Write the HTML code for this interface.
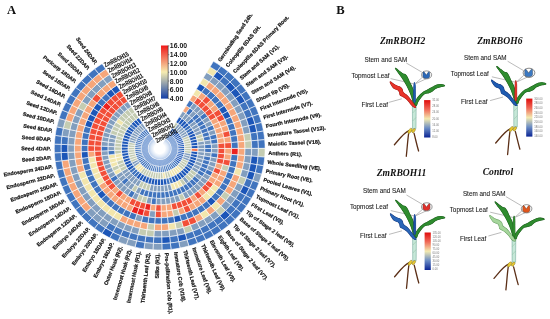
<!DOCTYPE html>
<html><head><meta charset="utf-8"><style>
html,body{margin:0;padding:0;background:#fff;}
body{width:550px;height:319px;overflow:hidden;position:relative;}
svg{position:absolute;left:0;top:0;}
.tl{font-family:"Liberation Sans",Arial,sans-serif;font-weight:bold;font-size:5.45px;fill:#111;stroke:#111;stroke-width:0.2px;dominant-baseline:central;}
.gl{font-family:"Liberation Sans",Arial,sans-serif;font-weight:bold;font-size:6.8px;fill:#111;stroke:#111;stroke-width:0.1px;dominant-baseline:central;}
.cb{font-family:"Liberation Sans",Arial,sans-serif;font-weight:bold;font-size:6.9px;fill:#151515;dominant-baseline:central;}
.pl{font-family:"Liberation Serif","Times New Roman",serif;font-weight:bold;font-size:12.6px;fill:#111;}
</style></head><body>
<svg width="550" height="319" viewBox="0 0 550 319">
<defs>
<radialGradient id="r1g" cx="0" cy="0" r="11.6" gradientUnits="userSpaceOnUse">
<stop offset="0.45" stop-color="#ffffff"/><stop offset="0.75" stop-color="#dbe6f5"/><stop offset="1" stop-color="#b3c9ea"/>
</radialGradient>
<linearGradient id="cbg" x1="0" y1="0" x2="0" y2="1">
<stop offset="0" stop-color="#f01818"/>
<stop offset="0.5" stop-color="#f6ecb0"/>
<stop offset="1" stop-color="#123ea8"/>
</linearGradient>
</defs>
<text class="pl" x="7.1" y="13.8">A</text>
<text class="pl" x="336.3" y="13.8">B</text>
<g transform="translate(159.7 148.6) scale(1 0.962)">
<g stroke="#fff" stroke-width="0.6">
<path d="M12.74 -21.51A25 25 0 0 1 14.54 -20.33L10.65 -14.88A18.3 18.3 0 0 0 9.33 -15.75Z" fill="#1c56b8"/>
<path d="M14.54 -20.33A25 25 0 0 1 16.24 -19.01L11.89 -13.91A18.3 18.3 0 0 0 10.65 -14.88Z" fill="#1c56b8"/>
<path d="M16.24 -19.01A25 25 0 0 1 17.82 -17.54L13.04 -12.84A18.3 18.3 0 0 0 11.89 -13.91Z" fill="#1c56b8"/>
<path d="M17.82 -17.54A25 25 0 0 1 19.26 -15.94L14.1 -11.67A18.3 18.3 0 0 0 13.04 -12.84Z" fill="#1c56b8"/>
<path d="M19.26 -15.94A25 25 0 0 1 20.56 -14.22L15.05 -10.41A18.3 18.3 0 0 0 14.1 -11.67Z" fill="#1c56b8"/>
<path d="M20.56 -14.22A25 25 0 0 1 21.71 -12.4L15.89 -9.08A18.3 18.3 0 0 0 15.05 -10.41Z" fill="#1c56b8"/>
<path d="M21.71 -12.4A25 25 0 0 1 22.69 -10.49L16.61 -7.68A18.3 18.3 0 0 0 15.89 -9.08Z" fill="#1c56b8"/>
<path d="M22.69 -10.49A25 25 0 0 1 23.51 -8.49L17.21 -6.22A18.3 18.3 0 0 0 16.61 -7.68Z" fill="#1c56b8"/>
<path d="M23.51 -8.49A25 25 0 0 1 24.16 -6.44L17.68 -4.71A18.3 18.3 0 0 0 17.21 -6.22Z" fill="#1c56b8"/>
<path d="M24.16 -6.44A25 25 0 0 1 24.62 -4.34L18.02 -3.17A18.3 18.3 0 0 0 17.68 -4.71Z" fill="#1c56b8"/>
<path d="M24.62 -4.34A25 25 0 0 1 24.9 -2.2L18.23 -1.61A18.3 18.3 0 0 0 18.02 -3.17Z" fill="#1c56b8"/>
<path d="M24.9 -2.2A25 25 0 0 1 25 -0.05L18.3 -0.04A18.3 18.3 0 0 0 18.23 -1.61Z" fill="#1c56b8"/>
<path d="M25 -0.05A25 25 0 0 1 24.91 2.1L18.24 1.54A18.3 18.3 0 0 0 18.3 -0.04Z" fill="#1c56b8"/>
<path d="M24.91 2.1A25 25 0 0 1 24.64 4.24L18.04 3.1A18.3 18.3 0 0 0 18.24 1.54Z" fill="#1c56b8"/>
<path d="M24.64 4.24A25 25 0 0 1 24.18 6.34L17.7 4.64A18.3 18.3 0 0 0 18.04 3.1Z" fill="#1c56b8"/>
<path d="M24.18 6.34A25 25 0 0 1 23.55 8.4L17.24 6.15A18.3 18.3 0 0 0 17.7 4.64Z" fill="#1c56b8"/>
<path d="M23.55 8.4A25 25 0 0 1 22.74 10.39L16.64 7.61A18.3 18.3 0 0 0 17.24 6.15Z" fill="#1c56b8"/>
<path d="M22.74 10.39A25 25 0 0 1 21.76 12.31L15.93 9.01A18.3 18.3 0 0 0 16.64 7.61Z" fill="#1c56b8"/>
<path d="M21.76 12.31A25 25 0 0 1 20.62 14.14L15.09 10.35A18.3 18.3 0 0 0 15.93 9.01Z" fill="#1c56b8"/>
<path d="M20.62 14.14A25 25 0 0 1 19.32 15.86L14.15 11.61A18.3 18.3 0 0 0 15.09 10.35Z" fill="#1c56b8"/>
<path d="M19.32 15.86A25 25 0 0 1 17.89 17.47L13.09 12.78A18.3 18.3 0 0 0 14.15 11.61Z" fill="#4074be"/>
<path d="M17.89 17.47A25 25 0 0 1 16.32 18.94L11.94 13.86A18.3 18.3 0 0 0 13.09 12.78Z" fill="#4074be"/>
<path d="M16.32 18.94A25 25 0 0 1 14.63 20.27L10.71 14.84A18.3 18.3 0 0 0 11.94 13.86Z" fill="#4074be"/>
<path d="M14.63 20.27A25 25 0 0 1 12.83 21.46L9.39 15.71A18.3 18.3 0 0 0 10.71 14.84Z" fill="#4074be"/>
<path d="M12.83 21.46A25 25 0 0 1 10.93 22.48L8 16.46A18.3 18.3 0 0 0 9.39 15.71Z" fill="#4074be"/>
<path d="M10.93 22.48A25 25 0 0 1 8.96 23.34L6.56 17.08A18.3 18.3 0 0 0 8 16.46Z" fill="#4074be"/>
<path d="M8.96 23.34A25 25 0 0 1 6.92 24.02L5.06 17.59A18.3 18.3 0 0 0 6.56 17.08Z" fill="#4074be"/>
<path d="M6.92 24.02A25 25 0 0 1 4.82 24.53L3.53 17.96A18.3 18.3 0 0 0 5.06 17.59Z" fill="#4074be"/>
<path d="M4.82 24.53A25 25 0 0 1 2.69 24.85L1.97 18.19A18.3 18.3 0 0 0 3.53 17.96Z" fill="#4074be"/>
<path d="M2.69 24.85A25 25 0 0 1 0.55 24.99L0.4 18.3A18.3 18.3 0 0 0 1.97 18.19Z" fill="#4074be"/>
<path d="M0.55 24.99A25 25 0 0 1 -1.61 24.95L-1.18 18.26A18.3 18.3 0 0 0 0.4 18.3Z" fill="#4074be"/>
<path d="M-1.61 24.95A25 25 0 0 1 -3.75 24.72L-2.74 18.09A18.3 18.3 0 0 0 -1.18 18.26Z" fill="#4074be"/>
<path d="M-3.75 24.72A25 25 0 0 1 -5.86 24.3L-4.29 17.79A18.3 18.3 0 0 0 -2.74 18.09Z" fill="#4074be"/>
<path d="M-5.86 24.3A25 25 0 0 1 -7.93 23.71L-5.81 17.35A18.3 18.3 0 0 0 -4.29 17.79Z" fill="#4074be"/>
<path d="M-7.93 23.71A25 25 0 0 1 -9.94 22.94L-7.28 16.79A18.3 18.3 0 0 0 -5.81 17.35Z" fill="#4074be"/>
<path d="M-9.94 22.94A25 25 0 0 1 -11.88 22L-8.7 16.1A18.3 18.3 0 0 0 -7.28 16.79Z" fill="#4074be"/>
<path d="M-11.88 22A25 25 0 0 1 -13.73 20.89L-10.05 15.29A18.3 18.3 0 0 0 -8.7 16.1Z" fill="#4074be"/>
<path d="M-13.73 20.89A25 25 0 0 1 -15.48 19.63L-11.33 14.37A18.3 18.3 0 0 0 -10.05 15.29Z" fill="#4074be"/>
<path d="M-15.48 19.63A25 25 0 0 1 -17.11 18.23L-12.52 13.34A18.3 18.3 0 0 0 -11.33 14.37Z" fill="#4074be"/>
<path d="M-17.11 18.23A25 25 0 0 1 -18.61 16.69L-13.63 12.22A18.3 18.3 0 0 0 -12.52 13.34Z" fill="#4074be"/>
<path d="M-18.61 16.69A25 25 0 0 1 -19.98 15.03L-14.63 11A18.3 18.3 0 0 0 -13.63 12.22Z" fill="#4074be"/>
<path d="M-19.98 15.03A25 25 0 0 1 -21.2 13.25L-15.52 9.7A18.3 18.3 0 0 0 -14.63 11Z" fill="#4074be"/>
<path d="M-21.2 13.25A25 25 0 0 1 -22.26 11.38L-16.3 8.33A18.3 18.3 0 0 0 -15.52 9.7Z" fill="#4074be"/>
<path d="M-22.26 11.38A25 25 0 0 1 -23.16 9.42L-16.95 6.89A18.3 18.3 0 0 0 -16.3 8.33Z" fill="#4074be"/>
<path d="M-23.16 9.42A25 25 0 0 1 -23.88 7.39L-17.48 5.41A18.3 18.3 0 0 0 -16.95 6.89Z" fill="#4074be"/>
<path d="M-23.88 7.39A25 25 0 0 1 -24.43 5.31L-17.88 3.89A18.3 18.3 0 0 0 -17.48 5.41Z" fill="#4074be"/>
<path d="M-24.43 5.31A25 25 0 0 1 -24.8 3.19L-18.15 2.33A18.3 18.3 0 0 0 -17.88 3.89Z" fill="#4074be"/>
<path d="M-24.8 3.19A25 25 0 0 1 -24.98 1.04L-18.28 0.76A18.3 18.3 0 0 0 -18.15 2.33Z" fill="#4074be"/>
<path d="M-24.98 1.04A25 25 0 0 1 -24.98 -1.11L-18.28 -0.82A18.3 18.3 0 0 0 -18.28 0.76Z" fill="#4074be"/>
<path d="M-24.98 -1.11A25 25 0 0 1 -24.79 -3.26L-18.14 -2.39A18.3 18.3 0 0 0 -18.28 -0.82Z" fill="#4074be"/>
<path d="M-24.79 -3.26A25 25 0 0 1 -24.41 -5.38L-17.87 -3.94A18.3 18.3 0 0 0 -18.14 -2.39Z" fill="#4074be"/>
<path d="M-24.41 -5.38A25 25 0 0 1 -23.86 -7.46L-17.47 -5.46A18.3 18.3 0 0 0 -17.87 -3.94Z" fill="#4074be"/>
<path d="M-23.86 -7.46A25 25 0 0 1 -23.13 -9.49L-16.93 -6.94A18.3 18.3 0 0 0 -17.47 -5.46Z" fill="#4074be"/>
<path d="M-23.13 -9.49A25 25 0 0 1 -22.23 -11.44L-16.27 -8.38A18.3 18.3 0 0 0 -16.93 -6.94Z" fill="#4074be"/>
<path d="M-22.23 -11.44A25 25 0 0 1 -21.16 -13.31L-15.49 -9.74A18.3 18.3 0 0 0 -16.27 -8.38Z" fill="#4074be"/>
<path d="M-21.16 -13.31A25 25 0 0 1 -19.94 -15.08L-14.59 -11.04A18.3 18.3 0 0 0 -15.49 -9.74Z" fill="#4074be"/>
<path d="M-19.94 -15.08A25 25 0 0 1 -18.56 -16.74L-13.59 -12.26A18.3 18.3 0 0 0 -14.59 -11.04Z" fill="#4074be"/>
<path d="M-18.56 -16.74A25 25 0 0 1 -17.05 -18.28L-12.48 -13.38A18.3 18.3 0 0 0 -13.59 -12.26Z" fill="#4074be"/>
<path d="M-17.05 -18.28A25 25 0 0 1 -15.42 -19.68L-11.29 -14.41A18.3 18.3 0 0 0 -12.48 -13.38Z" fill="#4074be"/>
<path d="M-15.42 -19.68A25 25 0 0 1 -13.67 -20.93L-10 -15.32A18.3 18.3 0 0 0 -11.29 -14.41Z" fill="#4074be"/>
<path d="M16.16 -27.27A31.7 31.7 0 0 1 18.44 -25.78L14.54 -20.33A25 25 0 0 0 12.74 -21.51Z" fill="#c4ccb2"/>
<path d="M18.44 -25.78A31.7 31.7 0 0 1 20.59 -24.1L16.24 -19.01A25 25 0 0 0 14.54 -20.33Z" fill="#829ebe"/>
<path d="M20.59 -24.1A31.7 31.7 0 0 1 22.59 -22.24L17.82 -17.54A25 25 0 0 0 16.24 -19.01Z" fill="#829ebe"/>
<path d="M22.59 -22.24A31.7 31.7 0 0 1 24.42 -20.21L19.26 -15.94A25 25 0 0 0 17.82 -17.54Z" fill="#829ebe"/>
<path d="M24.42 -20.21A31.7 31.7 0 0 1 26.07 -18.03L20.56 -14.22A25 25 0 0 0 19.26 -15.94Z" fill="#829ebe"/>
<path d="M26.07 -18.03A31.7 31.7 0 0 1 27.53 -15.72L21.71 -12.4A25 25 0 0 0 20.56 -14.22Z" fill="#829ebe"/>
<path d="M27.53 -15.72A31.7 31.7 0 0 1 28.78 -13.3L22.69 -10.49A25 25 0 0 0 21.71 -12.4Z" fill="#829ebe"/>
<path d="M28.78 -13.3A31.7 31.7 0 0 1 29.81 -10.77L23.51 -8.49A25 25 0 0 0 22.69 -10.49Z" fill="#c4ccb2"/>
<path d="M29.81 -10.77A31.7 31.7 0 0 1 30.63 -8.17L24.16 -6.44A25 25 0 0 0 23.51 -8.49Z" fill="#c4ccb2"/>
<path d="M30.63 -8.17A31.7 31.7 0 0 1 31.22 -5.5L24.62 -4.34A25 25 0 0 0 24.16 -6.44Z" fill="#c4ccb2"/>
<path d="M31.22 -5.5A31.7 31.7 0 0 1 31.58 -2.79L24.9 -2.2A25 25 0 0 0 24.62 -4.34Z" fill="#c4ccb2"/>
<path d="M31.58 -2.79A31.7 31.7 0 0 1 31.7 -0.06L25 -0.05A25 25 0 0 0 24.9 -2.2Z" fill="#c4ccb2"/>
<path d="M31.7 -0.06A31.7 31.7 0 0 1 31.59 2.66L24.91 2.1A25 25 0 0 0 25 -0.05Z" fill="#c4ccb2"/>
<path d="M31.59 2.66A31.7 31.7 0 0 1 31.24 5.37L24.64 4.24A25 25 0 0 0 24.91 2.1Z" fill="#c4ccb2"/>
<path d="M31.24 5.37A31.7 31.7 0 0 1 30.66 8.04L24.18 6.34A25 25 0 0 0 24.64 4.24Z" fill="#829ebe"/>
<path d="M30.66 8.04A31.7 31.7 0 0 1 29.86 10.65L23.55 8.4A25 25 0 0 0 24.18 6.34Z" fill="#829ebe"/>
<path d="M29.86 10.65A31.7 31.7 0 0 1 28.83 13.18L22.74 10.39A25 25 0 0 0 23.55 8.4Z" fill="#829ebe"/>
<path d="M28.83 13.18A31.7 31.7 0 0 1 27.59 15.61L21.76 12.31A25 25 0 0 0 22.74 10.39Z" fill="#c4ccb2"/>
<path d="M27.59 15.61A31.7 31.7 0 0 1 26.14 17.93L20.62 14.14A25 25 0 0 0 21.76 12.31Z" fill="#c4ccb2"/>
<path d="M26.14 17.93A31.7 31.7 0 0 1 24.5 20.11L19.32 15.86A25 25 0 0 0 20.62 14.14Z" fill="#c4ccb2"/>
<path d="M24.5 20.11A31.7 31.7 0 0 1 22.68 22.15L17.89 17.47A25 25 0 0 0 19.32 15.86Z" fill="#c4ccb2"/>
<path d="M22.68 22.15A31.7 31.7 0 0 1 20.69 24.02L16.32 18.94A25 25 0 0 0 17.89 17.47Z" fill="#f2e6ac"/>
<path d="M20.69 24.02A31.7 31.7 0 0 1 18.55 25.71L14.63 20.27A25 25 0 0 0 16.32 18.94Z" fill="#f2e6ac"/>
<path d="M18.55 25.71A31.7 31.7 0 0 1 16.27 27.21L12.83 21.46A25 25 0 0 0 14.63 20.27Z" fill="#f2e6ac"/>
<path d="M16.27 27.21A31.7 31.7 0 0 1 13.86 28.51L10.93 22.48A25 25 0 0 0 12.83 21.46Z" fill="#f2e6ac"/>
<path d="M13.86 28.51A31.7 31.7 0 0 1 11.36 29.59L8.96 23.34A25 25 0 0 0 10.93 22.48Z" fill="#f2e6ac"/>
<path d="M11.36 29.59A31.7 31.7 0 0 1 8.77 30.46L6.92 24.02A25 25 0 0 0 8.96 23.34Z" fill="#c4ccb2"/>
<path d="M8.77 30.46A31.7 31.7 0 0 1 6.12 31.1L4.82 24.53A25 25 0 0 0 6.92 24.02Z" fill="#c4ccb2"/>
<path d="M6.12 31.1A31.7 31.7 0 0 1 3.42 31.52L2.69 24.85A25 25 0 0 0 4.82 24.53Z" fill="#f2e6ac"/>
<path d="M3.42 31.52A31.7 31.7 0 0 1 0.69 31.69L0.55 24.99A25 25 0 0 0 2.69 24.85Z" fill="#c4ccb2"/>
<path d="M0.69 31.69A31.7 31.7 0 0 1 -2.04 31.63L-1.61 24.95A25 25 0 0 0 0.55 24.99Z" fill="#c4ccb2"/>
<path d="M-2.04 31.63A31.7 31.7 0 0 1 -4.75 31.34L-3.75 24.72A25 25 0 0 0 -1.61 24.95Z" fill="#c4ccb2"/>
<path d="M-4.75 31.34A31.7 31.7 0 0 1 -7.43 30.82L-5.86 24.3A25 25 0 0 0 -3.75 24.72Z" fill="#c4ccb2"/>
<path d="M-7.43 30.82A31.7 31.7 0 0 1 -10.06 30.06L-7.93 23.71A25 25 0 0 0 -5.86 24.3Z" fill="#c4ccb2"/>
<path d="M-10.06 30.06A31.7 31.7 0 0 1 -12.61 29.09L-9.94 22.94A25 25 0 0 0 -7.93 23.71Z" fill="#c4ccb2"/>
<path d="M-12.61 29.09A31.7 31.7 0 0 1 -15.06 27.89L-11.88 22A25 25 0 0 0 -9.94 22.94Z" fill="#c4ccb2"/>
<path d="M-15.06 27.89A31.7 31.7 0 0 1 -17.41 26.49L-13.73 20.89A25 25 0 0 0 -11.88 22Z" fill="#c4ccb2"/>
<path d="M-17.41 26.49A31.7 31.7 0 0 1 -19.62 24.9L-15.48 19.63A25 25 0 0 0 -13.73 20.89Z" fill="#c4ccb2"/>
<path d="M-19.62 24.9A31.7 31.7 0 0 1 -21.69 23.11L-17.11 18.23A25 25 0 0 0 -15.48 19.63Z" fill="#f2e6ac"/>
<path d="M-21.69 23.11A31.7 31.7 0 0 1 -23.6 21.16L-18.61 16.69A25 25 0 0 0 -17.11 18.23Z" fill="#f2e6ac"/>
<path d="M-23.6 21.16A31.7 31.7 0 0 1 -25.34 19.05L-19.98 15.03A25 25 0 0 0 -18.61 16.69Z" fill="#f2e6ac"/>
<path d="M-25.34 19.05A31.7 31.7 0 0 1 -26.88 16.8L-21.2 13.25A25 25 0 0 0 -19.98 15.03Z" fill="#829ebe"/>
<path d="M-26.88 16.8A31.7 31.7 0 0 1 -28.23 14.43L-22.26 11.38A25 25 0 0 0 -21.2 13.25Z" fill="#829ebe"/>
<path d="M-28.23 14.43A31.7 31.7 0 0 1 -29.36 11.94L-23.16 9.42A25 25 0 0 0 -22.26 11.38Z" fill="#c4ccb2"/>
<path d="M-29.36 11.94A31.7 31.7 0 0 1 -30.28 9.37L-23.88 7.39A25 25 0 0 0 -23.16 9.42Z" fill="#c4ccb2"/>
<path d="M-30.28 9.37A31.7 31.7 0 0 1 -30.98 6.73L-24.43 5.31A25 25 0 0 0 -23.88 7.39Z" fill="#c4ccb2"/>
<path d="M-30.98 6.73A31.7 31.7 0 0 1 -31.44 4.04L-24.8 3.19A25 25 0 0 0 -24.43 5.31Z" fill="#c4ccb2"/>
<path d="M-31.44 4.04A31.7 31.7 0 0 1 -31.67 1.32L-24.98 1.04A25 25 0 0 0 -24.8 3.19Z" fill="#c4ccb2"/>
<path d="M-31.67 1.32A31.7 31.7 0 0 1 -31.67 -1.41L-24.98 -1.11A25 25 0 0 0 -24.98 1.04Z" fill="#c4ccb2"/>
<path d="M-31.67 -1.41A31.7 31.7 0 0 1 -31.43 -4.13L-24.79 -3.26A25 25 0 0 0 -24.98 -1.11Z" fill="#c4ccb2"/>
<path d="M-31.43 -4.13A31.7 31.7 0 0 1 -30.96 -6.82L-24.41 -5.38A25 25 0 0 0 -24.79 -3.26Z" fill="#c4ccb2"/>
<path d="M-30.96 -6.82A31.7 31.7 0 0 1 -30.26 -9.46L-23.86 -7.46A25 25 0 0 0 -24.41 -5.38Z" fill="#829ebe"/>
<path d="M-30.26 -9.46A31.7 31.7 0 0 1 -29.33 -12.03L-23.13 -9.49A25 25 0 0 0 -23.86 -7.46Z" fill="#829ebe"/>
<path d="M-29.33 -12.03A31.7 31.7 0 0 1 -28.18 -14.51L-22.23 -11.44A25 25 0 0 0 -23.13 -9.49Z" fill="#829ebe"/>
<path d="M-28.18 -14.51A31.7 31.7 0 0 1 -26.83 -16.88L-21.16 -13.31A25 25 0 0 0 -22.23 -11.44Z" fill="#829ebe"/>
<path d="M-26.83 -16.88A31.7 31.7 0 0 1 -25.28 -19.13L-19.94 -15.08A25 25 0 0 0 -21.16 -13.31Z" fill="#829ebe"/>
<path d="M-25.28 -19.13A31.7 31.7 0 0 1 -23.54 -21.23L-18.56 -16.74A25 25 0 0 0 -19.94 -15.08Z" fill="#829ebe"/>
<path d="M-23.54 -21.23A31.7 31.7 0 0 1 -21.63 -23.18L-17.05 -18.28A25 25 0 0 0 -18.56 -16.74Z" fill="#829ebe"/>
<path d="M-21.63 -23.18A31.7 31.7 0 0 1 -19.55 -24.95L-15.42 -19.68A25 25 0 0 0 -17.05 -18.28Z" fill="#829ebe"/>
<path d="M-19.55 -24.95A31.7 31.7 0 0 1 -17.33 -26.54L-13.67 -20.93A25 25 0 0 0 -15.42 -19.68Z" fill="#829ebe"/>
<path d="M19.57 -33.04A38.4 38.4 0 0 1 22.34 -31.23L18.44 -25.78A31.7 31.7 0 0 0 16.16 -27.27Z" fill="#1c56b8"/>
<path d="M22.34 -31.23A38.4 38.4 0 0 1 24.95 -29.19L20.59 -24.1A31.7 31.7 0 0 0 18.44 -25.78Z" fill="#1c56b8"/>
<path d="M24.95 -29.19A38.4 38.4 0 0 1 27.37 -26.94L22.59 -22.24A31.7 31.7 0 0 0 20.59 -24.1Z" fill="#1c56b8"/>
<path d="M27.37 -26.94A38.4 38.4 0 0 1 29.58 -24.48L24.42 -20.21A31.7 31.7 0 0 0 22.59 -22.24Z" fill="#1c56b8"/>
<path d="M29.58 -24.48A38.4 38.4 0 0 1 31.58 -21.85L26.07 -18.03A31.7 31.7 0 0 0 24.42 -20.21Z" fill="#4074be"/>
<path d="M31.58 -21.85A38.4 38.4 0 0 1 33.34 -19.05L27.53 -15.72A31.7 31.7 0 0 0 26.07 -18.03Z" fill="#4074be"/>
<path d="M33.34 -19.05A38.4 38.4 0 0 1 34.86 -16.11L28.78 -13.3A31.7 31.7 0 0 0 27.53 -15.72Z" fill="#1c56b8"/>
<path d="M34.86 -16.11A38.4 38.4 0 0 1 36.12 -13.05L29.81 -10.77A31.7 31.7 0 0 0 28.78 -13.3Z" fill="#1c56b8"/>
<path d="M36.12 -13.05A38.4 38.4 0 0 1 37.1 -9.89L30.63 -8.17A31.7 31.7 0 0 0 29.81 -10.77Z" fill="#1c56b8"/>
<path d="M37.1 -9.89A38.4 38.4 0 0 1 37.82 -6.66L31.22 -5.5A31.7 31.7 0 0 0 30.63 -8.17Z" fill="#1c56b8"/>
<path d="M37.82 -6.66A38.4 38.4 0 0 1 38.25 -3.38L31.58 -2.79A31.7 31.7 0 0 0 31.22 -5.5Z" fill="#1c56b8"/>
<path d="M38.25 -3.38A38.4 38.4 0 0 1 38.4 -0.08L31.7 -0.06A31.7 31.7 0 0 0 31.58 -2.79Z" fill="#1c56b8"/>
<path d="M38.4 -0.08A38.4 38.4 0 0 1 38.26 3.23L31.59 2.66A31.7 31.7 0 0 0 31.7 -0.06Z" fill="#f57850"/>
<path d="M38.26 3.23A38.4 38.4 0 0 1 37.84 6.51L31.24 5.37A31.7 31.7 0 0 0 31.59 2.66Z" fill="#1c56b8"/>
<path d="M37.84 6.51A38.4 38.4 0 0 1 37.14 9.74L30.66 8.04A31.7 31.7 0 0 0 31.24 5.37Z" fill="#1c56b8"/>
<path d="M37.14 9.74A38.4 38.4 0 0 1 36.17 12.9L29.86 10.65A31.7 31.7 0 0 0 30.66 8.04Z" fill="#1c56b8"/>
<path d="M36.17 12.9A38.4 38.4 0 0 1 34.92 15.97L28.83 13.18A31.7 31.7 0 0 0 29.86 10.65Z" fill="#1c56b8"/>
<path d="M34.92 15.97A38.4 38.4 0 0 1 33.42 18.91L27.59 15.61A31.7 31.7 0 0 0 28.83 13.18Z" fill="#1c56b8"/>
<path d="M33.42 18.91A38.4 38.4 0 0 1 31.67 21.72L26.14 17.93A31.7 31.7 0 0 0 27.59 15.61Z" fill="#4074be"/>
<path d="M31.67 21.72A38.4 38.4 0 0 1 29.68 24.36L24.5 20.11A31.7 31.7 0 0 0 26.14 17.93Z" fill="#1c56b8"/>
<path d="M29.68 24.36A38.4 38.4 0 0 1 27.47 26.83L22.68 22.15A31.7 31.7 0 0 0 24.5 20.11Z" fill="#1c56b8"/>
<path d="M27.47 26.83A38.4 38.4 0 0 1 25.06 29.09L20.69 24.02A31.7 31.7 0 0 0 22.68 22.15Z" fill="#1c56b8"/>
<path d="M25.06 29.09A38.4 38.4 0 0 1 22.47 31.14L18.55 25.71A31.7 31.7 0 0 0 20.69 24.02Z" fill="#1c56b8"/>
<path d="M22.47 31.14A38.4 38.4 0 0 1 19.7 32.96L16.27 27.21A31.7 31.7 0 0 0 18.55 25.71Z" fill="#1c56b8"/>
<path d="M19.7 32.96A38.4 38.4 0 0 1 16.79 34.53L13.86 28.51A31.7 31.7 0 0 0 16.27 27.21Z" fill="#1c56b8"/>
<path d="M16.79 34.53A38.4 38.4 0 0 1 13.76 35.85L11.36 29.59A31.7 31.7 0 0 0 13.86 28.51Z" fill="#1c56b8"/>
<path d="M13.76 35.85A38.4 38.4 0 0 1 10.62 36.9L8.77 30.46A31.7 31.7 0 0 0 11.36 29.59Z" fill="#4074be"/>
<path d="M10.62 36.9A38.4 38.4 0 0 1 7.41 37.68L6.12 31.1A31.7 31.7 0 0 0 8.77 30.46Z" fill="#4074be"/>
<path d="M7.41 37.68A38.4 38.4 0 0 1 4.14 38.18L3.42 31.52A31.7 31.7 0 0 0 6.12 31.1Z" fill="#1c56b8"/>
<path d="M4.14 38.18A38.4 38.4 0 0 1 0.84 38.39L0.69 31.69A31.7 31.7 0 0 0 3.42 31.52Z" fill="#1c56b8"/>
<path d="M0.84 38.39A38.4 38.4 0 0 1 -2.47 38.32L-2.04 31.63A31.7 31.7 0 0 0 0.69 31.69Z" fill="#1c56b8"/>
<path d="M-2.47 38.32A38.4 38.4 0 0 1 -5.76 37.97L-4.75 31.34A31.7 31.7 0 0 0 -2.04 31.63Z" fill="#1c56b8"/>
<path d="M-5.76 37.97A38.4 38.4 0 0 1 -9 37.33L-7.43 30.82A31.7 31.7 0 0 0 -4.75 31.34Z" fill="#1c56b8"/>
<path d="M-9 37.33A38.4 38.4 0 0 1 -12.18 36.42L-10.06 30.06A31.7 31.7 0 0 0 -7.43 30.82Z" fill="#1c56b8"/>
<path d="M-12.18 36.42A38.4 38.4 0 0 1 -15.27 35.23L-12.61 29.09A31.7 31.7 0 0 0 -10.06 30.06Z" fill="#1c56b8"/>
<path d="M-15.27 35.23A38.4 38.4 0 0 1 -18.25 33.79L-15.06 27.89A31.7 31.7 0 0 0 -12.61 29.09Z" fill="#1c56b8"/>
<path d="M-18.25 33.79A38.4 38.4 0 0 1 -21.09 32.09L-17.41 26.49A31.7 31.7 0 0 0 -15.06 27.89Z" fill="#1c56b8"/>
<path d="M-21.09 32.09A38.4 38.4 0 0 1 -23.77 30.16L-19.62 24.9A31.7 31.7 0 0 0 -17.41 26.49Z" fill="#1c56b8"/>
<path d="M-23.77 30.16A38.4 38.4 0 0 1 -26.28 28L-21.69 23.11A31.7 31.7 0 0 0 -19.62 24.9Z" fill="#4074be"/>
<path d="M-26.28 28A38.4 38.4 0 0 1 -28.59 25.63L-23.6 21.16A31.7 31.7 0 0 0 -21.69 23.11Z" fill="#4074be"/>
<path d="M-28.59 25.63A38.4 38.4 0 0 1 -30.69 23.08L-25.34 19.05A31.7 31.7 0 0 0 -23.6 21.16Z" fill="#4074be"/>
<path d="M-30.69 23.08A38.4 38.4 0 0 1 -32.56 20.35L-26.88 16.8A31.7 31.7 0 0 0 -25.34 19.05Z" fill="#1c56b8"/>
<path d="M-32.56 20.35A38.4 38.4 0 0 1 -34.19 17.47L-28.23 14.43A31.7 31.7 0 0 0 -26.88 16.8Z" fill="#1c56b8"/>
<path d="M-34.19 17.47A38.4 38.4 0 0 1 -35.57 14.47L-29.36 11.94A31.7 31.7 0 0 0 -28.23 14.43Z" fill="#1c56b8"/>
<path d="M-35.57 14.47A38.4 38.4 0 0 1 -36.68 11.35L-30.28 9.37A31.7 31.7 0 0 0 -29.36 11.94Z" fill="#1c56b8"/>
<path d="M-36.68 11.35A38.4 38.4 0 0 1 -37.52 8.15L-30.98 6.73A31.7 31.7 0 0 0 -30.28 9.37Z" fill="#1c56b8"/>
<path d="M-37.52 8.15A38.4 38.4 0 0 1 -38.09 4.89L-31.44 4.04A31.7 31.7 0 0 0 -30.98 6.73Z" fill="#1c56b8"/>
<path d="M-38.09 4.89A38.4 38.4 0 0 1 -38.37 1.6L-31.67 1.32A31.7 31.7 0 0 0 -31.44 4.04Z" fill="#1c56b8"/>
<path d="M-38.37 1.6A38.4 38.4 0 0 1 -38.36 -1.71L-31.67 -1.41A31.7 31.7 0 0 0 -31.67 1.32Z" fill="#1c56b8"/>
<path d="M-38.36 -1.71A38.4 38.4 0 0 1 -38.07 -5.01L-31.43 -4.13A31.7 31.7 0 0 0 -31.67 -1.41Z" fill="#1c56b8"/>
<path d="M-38.07 -5.01A38.4 38.4 0 0 1 -37.5 -8.26L-30.96 -6.82A31.7 31.7 0 0 0 -31.43 -4.13Z" fill="#1c56b8"/>
<path d="M-37.5 -8.26A38.4 38.4 0 0 1 -36.65 -11.46L-30.26 -9.46A31.7 31.7 0 0 0 -30.96 -6.82Z" fill="#1c56b8"/>
<path d="M-36.65 -11.46A38.4 38.4 0 0 1 -35.53 -14.57L-29.33 -12.03A31.7 31.7 0 0 0 -30.26 -9.46Z" fill="#1c56b8"/>
<path d="M-35.53 -14.57A38.4 38.4 0 0 1 -34.14 -17.58L-28.18 -14.51A31.7 31.7 0 0 0 -29.33 -12.03Z" fill="#1c56b8"/>
<path d="M-34.14 -17.58A38.4 38.4 0 0 1 -32.5 -20.45L-26.83 -16.88A31.7 31.7 0 0 0 -28.18 -14.51Z" fill="#1c56b8"/>
<path d="M-32.5 -20.45A38.4 38.4 0 0 1 -30.62 -23.17L-25.28 -19.13A31.7 31.7 0 0 0 -26.83 -16.88Z" fill="#1c56b8"/>
<path d="M-30.62 -23.17A38.4 38.4 0 0 1 -28.51 -25.72L-23.54 -21.23A31.7 31.7 0 0 0 -25.28 -19.13Z" fill="#4074be"/>
<path d="M-28.51 -25.72A38.4 38.4 0 0 1 -26.2 -28.08L-21.63 -23.18A31.7 31.7 0 0 0 -23.54 -21.23Z" fill="#1c56b8"/>
<path d="M-26.2 -28.08A38.4 38.4 0 0 1 -23.68 -30.23L-19.55 -24.95A31.7 31.7 0 0 0 -21.63 -23.18Z" fill="#1c56b8"/>
<path d="M-23.68 -30.23A38.4 38.4 0 0 1 -20.99 -32.15L-17.33 -26.54A31.7 31.7 0 0 0 -19.55 -24.95Z" fill="#1c56b8"/>
<path d="M22.98 -38.8A45.1 45.1 0 0 1 26.24 -36.68L22.34 -31.23A38.4 38.4 0 0 0 19.57 -33.04Z" fill="#829ebe"/>
<path d="M26.24 -36.68A45.1 45.1 0 0 1 29.3 -34.29L24.95 -29.19A38.4 38.4 0 0 0 22.34 -31.23Z" fill="#829ebe"/>
<path d="M29.3 -34.29A45.1 45.1 0 0 1 32.14 -31.64L27.37 -26.94A38.4 38.4 0 0 0 24.95 -29.19Z" fill="#829ebe"/>
<path d="M32.14 -31.64A45.1 45.1 0 0 1 34.74 -28.76L29.58 -24.48A38.4 38.4 0 0 0 27.37 -26.94Z" fill="#4074be"/>
<path d="M34.74 -28.76A45.1 45.1 0 0 1 37.09 -25.66L31.58 -21.85A38.4 38.4 0 0 0 29.58 -24.48Z" fill="#829ebe"/>
<path d="M37.09 -25.66A45.1 45.1 0 0 1 39.16 -22.37L33.34 -19.05A38.4 38.4 0 0 0 31.58 -21.85Z" fill="#829ebe"/>
<path d="M39.16 -22.37A45.1 45.1 0 0 1 40.94 -18.92L34.86 -16.11A38.4 38.4 0 0 0 33.34 -19.05Z" fill="#829ebe"/>
<path d="M40.94 -18.92A45.1 45.1 0 0 1 42.42 -15.32L36.12 -13.05A38.4 38.4 0 0 0 34.86 -16.11Z" fill="#829ebe"/>
<path d="M42.42 -15.32A45.1 45.1 0 0 1 43.58 -11.62L37.1 -9.89A38.4 38.4 0 0 0 36.12 -13.05Z" fill="#c4ccb2"/>
<path d="M43.58 -11.62A45.1 45.1 0 0 1 44.42 -7.82L37.82 -6.66A38.4 38.4 0 0 0 37.1 -9.89Z" fill="#c4ccb2"/>
<path d="M44.42 -7.82A45.1 45.1 0 0 1 44.92 -3.97L38.25 -3.38A38.4 38.4 0 0 0 37.82 -6.66Z" fill="#829ebe"/>
<path d="M44.92 -3.97A45.1 45.1 0 0 1 45.1 -0.09L38.4 -0.08A38.4 38.4 0 0 0 38.25 -3.38Z" fill="#829ebe"/>
<path d="M45.1 -0.09A45.1 45.1 0 0 1 44.94 3.79L38.26 3.23A38.4 38.4 0 0 0 38.4 -0.08Z" fill="#829ebe"/>
<path d="M44.94 3.79A45.1 45.1 0 0 1 44.45 7.64L37.84 6.51A38.4 38.4 0 0 0 38.26 3.23Z" fill="#829ebe"/>
<path d="M44.45 7.64A45.1 45.1 0 0 1 43.62 11.44L37.14 9.74A38.4 38.4 0 0 0 37.84 6.51Z" fill="#829ebe"/>
<path d="M43.62 11.44A45.1 45.1 0 0 1 42.48 15.15L36.17 12.9A38.4 38.4 0 0 0 37.14 9.74Z" fill="#829ebe"/>
<path d="M42.48 15.15A45.1 45.1 0 0 1 41.02 18.75L34.92 15.97A38.4 38.4 0 0 0 36.17 12.9Z" fill="#829ebe"/>
<path d="M41.02 18.75A45.1 45.1 0 0 1 39.25 22.21L33.42 18.91A38.4 38.4 0 0 0 34.92 15.97Z" fill="#829ebe"/>
<path d="M39.25 22.21A45.1 45.1 0 0 1 37.19 25.51L31.67 21.72A38.4 38.4 0 0 0 33.42 18.91Z" fill="#829ebe"/>
<path d="M37.19 25.51A45.1 45.1 0 0 1 34.86 28.61L29.68 24.36A38.4 38.4 0 0 0 31.67 21.72Z" fill="#c4ccb2"/>
<path d="M34.86 28.61A45.1 45.1 0 0 1 32.27 31.51L27.47 26.83A38.4 38.4 0 0 0 29.68 24.36Z" fill="#c4ccb2"/>
<path d="M32.27 31.51A45.1 45.1 0 0 1 29.44 34.17L25.06 29.09A38.4 38.4 0 0 0 27.47 26.83Z" fill="#c4ccb2"/>
<path d="M29.44 34.17A45.1 45.1 0 0 1 26.39 36.57L22.47 31.14A38.4 38.4 0 0 0 25.06 29.09Z" fill="#829ebe"/>
<path d="M26.39 36.57A45.1 45.1 0 0 1 23.14 38.71L19.7 32.96A38.4 38.4 0 0 0 22.47 31.14Z" fill="#c4ccb2"/>
<path d="M23.14 38.71A45.1 45.1 0 0 1 19.72 40.56L16.79 34.53A38.4 38.4 0 0 0 19.7 32.96Z" fill="#f2e6ac"/>
<path d="M19.72 40.56A45.1 45.1 0 0 1 16.16 42.11L13.76 35.85A38.4 38.4 0 0 0 16.79 34.53Z" fill="#f2e6ac"/>
<path d="M16.16 42.11A45.1 45.1 0 0 1 12.48 43.34L10.62 36.9A38.4 38.4 0 0 0 13.76 35.85Z" fill="#f2e6ac"/>
<path d="M12.48 43.34A45.1 45.1 0 0 1 8.7 44.25L7.41 37.68A38.4 38.4 0 0 0 10.62 36.9Z" fill="#829ebe"/>
<path d="M8.7 44.25A45.1 45.1 0 0 1 4.86 44.84L4.14 38.18A38.4 38.4 0 0 0 7.41 37.68Z" fill="#829ebe"/>
<path d="M4.86 44.84A45.1 45.1 0 0 1 0.98 45.09L0.84 38.39A38.4 38.4 0 0 0 4.14 38.18Z" fill="#829ebe"/>
<path d="M0.98 45.09A45.1 45.1 0 0 1 -2.9 45.01L-2.47 38.32A38.4 38.4 0 0 0 0.84 38.39Z" fill="#829ebe"/>
<path d="M-2.9 45.01A45.1 45.1 0 0 1 -6.76 44.59L-5.76 37.97A38.4 38.4 0 0 0 -2.47 38.32Z" fill="#829ebe"/>
<path d="M-6.76 44.59A45.1 45.1 0 0 1 -10.58 43.84L-9 37.33A38.4 38.4 0 0 0 -5.76 37.97Z" fill="#829ebe"/>
<path d="M-10.58 43.84A45.1 45.1 0 0 1 -14.31 42.77L-12.18 36.42A38.4 38.4 0 0 0 -9 37.33Z" fill="#c4ccb2"/>
<path d="M-14.31 42.77A45.1 45.1 0 0 1 -17.94 41.38L-15.27 35.23A38.4 38.4 0 0 0 -12.18 36.42Z" fill="#c4ccb2"/>
<path d="M-17.94 41.38A45.1 45.1 0 0 1 -21.43 39.68L-18.25 33.79A38.4 38.4 0 0 0 -15.27 35.23Z" fill="#c4ccb2"/>
<path d="M-21.43 39.68A45.1 45.1 0 0 1 -24.77 37.69L-21.09 32.09A38.4 38.4 0 0 0 -18.25 33.79Z" fill="#829ebe"/>
<path d="M-24.77 37.69A45.1 45.1 0 0 1 -27.92 35.42L-23.77 30.16A38.4 38.4 0 0 0 -21.09 32.09Z" fill="#829ebe"/>
<path d="M-27.92 35.42A45.1 45.1 0 0 1 -30.86 32.89L-26.28 28A38.4 38.4 0 0 0 -23.77 30.16Z" fill="#829ebe"/>
<path d="M-30.86 32.89A45.1 45.1 0 0 1 -33.58 30.11L-28.59 25.63A38.4 38.4 0 0 0 -26.28 28Z" fill="#829ebe"/>
<path d="M-33.58 30.11A45.1 45.1 0 0 1 -36.05 27.11L-30.69 23.08A38.4 38.4 0 0 0 -28.59 25.63Z" fill="#829ebe"/>
<path d="M-36.05 27.11A45.1 45.1 0 0 1 -38.24 23.9L-32.56 20.35A38.4 38.4 0 0 0 -30.69 23.08Z" fill="#829ebe"/>
<path d="M-38.24 23.9A45.1 45.1 0 0 1 -40.16 20.52L-34.19 17.47A38.4 38.4 0 0 0 -32.56 20.35Z" fill="#c4ccb2"/>
<path d="M-40.16 20.52A45.1 45.1 0 0 1 -41.78 16.99L-35.57 14.47A38.4 38.4 0 0 0 -34.19 17.47Z" fill="#c4ccb2"/>
<path d="M-41.78 16.99A45.1 45.1 0 0 1 -43.08 13.33L-36.68 11.35A38.4 38.4 0 0 0 -35.57 14.47Z" fill="#c4ccb2"/>
<path d="M-43.08 13.33A45.1 45.1 0 0 1 -44.07 9.58L-37.52 8.15A38.4 38.4 0 0 0 -36.68 11.35Z" fill="#f2e6ac"/>
<path d="M-44.07 9.58A45.1 45.1 0 0 1 -44.73 5.75L-38.09 4.89A38.4 38.4 0 0 0 -37.52 8.15Z" fill="#f2e6ac"/>
<path d="M-44.73 5.75A45.1 45.1 0 0 1 -45.06 1.88L-38.37 1.6A38.4 38.4 0 0 0 -38.09 4.89Z" fill="#c4ccb2"/>
<path d="M-45.06 1.88A45.1 45.1 0 0 1 -45.06 -2.01L-38.36 -1.71A38.4 38.4 0 0 0 -38.37 1.6Z" fill="#c4ccb2"/>
<path d="M-45.06 -2.01A45.1 45.1 0 0 1 -44.72 -5.88L-38.07 -5.01A38.4 38.4 0 0 0 -38.36 -1.71Z" fill="#c4ccb2"/>
<path d="M-44.72 -5.88A45.1 45.1 0 0 1 -44.04 -9.71L-37.5 -8.26A38.4 38.4 0 0 0 -38.07 -5.01Z" fill="#c4ccb2"/>
<path d="M-44.04 -9.71A45.1 45.1 0 0 1 -43.04 -13.46L-36.65 -11.46A38.4 38.4 0 0 0 -37.5 -8.26Z" fill="#c4ccb2"/>
<path d="M-43.04 -13.46A45.1 45.1 0 0 1 -41.73 -17.11L-35.53 -14.57A38.4 38.4 0 0 0 -36.65 -11.46Z" fill="#c4ccb2"/>
<path d="M-41.73 -17.11A45.1 45.1 0 0 1 -40.1 -20.64L-34.14 -17.58A38.4 38.4 0 0 0 -35.53 -14.57Z" fill="#c4ccb2"/>
<path d="M-40.1 -20.64A45.1 45.1 0 0 1 -38.17 -24.02L-32.5 -20.45A38.4 38.4 0 0 0 -34.14 -17.58Z" fill="#c4ccb2"/>
<path d="M-38.17 -24.02A45.1 45.1 0 0 1 -35.97 -27.21L-30.62 -23.17A38.4 38.4 0 0 0 -32.5 -20.45Z" fill="#c4ccb2"/>
<path d="M-35.97 -27.21A45.1 45.1 0 0 1 -33.49 -30.21L-28.51 -25.72A38.4 38.4 0 0 0 -30.62 -23.17Z" fill="#c4ccb2"/>
<path d="M-33.49 -30.21A45.1 45.1 0 0 1 -30.77 -32.98L-26.2 -28.08A38.4 38.4 0 0 0 -28.51 -25.72Z" fill="#c4ccb2"/>
<path d="M-30.77 -32.98A45.1 45.1 0 0 1 -27.81 -35.5L-23.68 -30.23A38.4 38.4 0 0 0 -26.2 -28.08Z" fill="#c4ccb2"/>
<path d="M-27.81 -35.5A45.1 45.1 0 0 1 -24.66 -37.76L-20.99 -32.15A38.4 38.4 0 0 0 -23.68 -30.23Z" fill="#c4ccb2"/>
<path d="M26.4 -44.57A51.8 51.8 0 0 1 30.14 -42.13L26.24 -36.68A45.1 45.1 0 0 0 22.98 -38.8Z" fill="#f6a67a"/>
<path d="M30.14 -42.13A51.8 51.8 0 0 1 33.65 -39.38L29.3 -34.29A45.1 45.1 0 0 0 26.24 -36.68Z" fill="#4074be"/>
<path d="M33.65 -39.38A51.8 51.8 0 0 1 36.92 -36.34L32.14 -31.64A45.1 45.1 0 0 0 29.3 -34.29Z" fill="#829ebe"/>
<path d="M36.92 -36.34A51.8 51.8 0 0 1 39.91 -33.03L34.74 -28.76A45.1 45.1 0 0 0 32.14 -31.64Z" fill="#4074be"/>
<path d="M39.91 -33.03A51.8 51.8 0 0 1 42.6 -29.47L37.09 -25.66A45.1 45.1 0 0 0 34.74 -28.76Z" fill="#4074be"/>
<path d="M42.6 -29.47A51.8 51.8 0 0 1 44.98 -25.69L39.16 -22.37A45.1 45.1 0 0 0 37.09 -25.66Z" fill="#4074be"/>
<path d="M44.98 -25.69A51.8 51.8 0 0 1 47.02 -21.73L40.94 -18.92A45.1 45.1 0 0 0 39.16 -22.37Z" fill="#4074be"/>
<path d="M47.02 -21.73A51.8 51.8 0 0 1 48.72 -17.6L42.42 -15.32A45.1 45.1 0 0 0 40.94 -18.92Z" fill="#4074be"/>
<path d="M48.72 -17.6A51.8 51.8 0 0 1 50.05 -13.34L43.58 -11.62A45.1 45.1 0 0 0 42.42 -15.32Z" fill="#4074be"/>
<path d="M50.05 -13.34A51.8 51.8 0 0 1 51.01 -8.99L44.42 -7.82A45.1 45.1 0 0 0 43.58 -11.62Z" fill="#4074be"/>
<path d="M51.01 -8.99A51.8 51.8 0 0 1 51.6 -4.56L44.92 -3.97A45.1 45.1 0 0 0 44.42 -7.82Z" fill="#829ebe"/>
<path d="M51.6 -4.56A51.8 51.8 0 0 1 51.8 -0.1L45.1 -0.09A45.1 45.1 0 0 0 44.92 -3.97Z" fill="#4074be"/>
<path d="M51.8 -0.1A51.8 51.8 0 0 1 51.62 4.35L44.94 3.79A45.1 45.1 0 0 0 45.1 -0.09Z" fill="#4074be"/>
<path d="M51.62 4.35A51.8 51.8 0 0 1 51.05 8.78L44.45 7.64A45.1 45.1 0 0 0 44.94 3.79Z" fill="#829ebe"/>
<path d="M51.05 8.78A51.8 51.8 0 0 1 50.11 13.14L43.62 11.44A45.1 45.1 0 0 0 44.45 7.64Z" fill="#4074be"/>
<path d="M50.11 13.14A51.8 51.8 0 0 1 48.79 17.4L42.48 15.15A45.1 45.1 0 0 0 43.62 11.44Z" fill="#4074be"/>
<path d="M48.79 17.4A51.8 51.8 0 0 1 47.11 21.54L41.02 18.75A45.1 45.1 0 0 0 42.48 15.15Z" fill="#4074be"/>
<path d="M47.11 21.54A51.8 51.8 0 0 1 45.08 25.51L39.25 22.21A45.1 45.1 0 0 0 41.02 18.75Z" fill="#4074be"/>
<path d="M45.08 25.51A51.8 51.8 0 0 1 42.72 29.3L37.19 25.51A45.1 45.1 0 0 0 39.25 22.21Z" fill="#4074be"/>
<path d="M42.72 29.3A51.8 51.8 0 0 1 40.04 32.87L34.86 28.61A45.1 45.1 0 0 0 37.19 25.51Z" fill="#829ebe"/>
<path d="M40.04 32.87A51.8 51.8 0 0 1 37.06 36.19L32.27 31.51A45.1 45.1 0 0 0 34.86 28.61Z" fill="#4074be"/>
<path d="M37.06 36.19A51.8 51.8 0 0 1 33.81 39.24L29.44 34.17A45.1 45.1 0 0 0 32.27 31.51Z" fill="#4074be"/>
<path d="M33.81 39.24A51.8 51.8 0 0 1 30.31 42.01L26.39 36.57A45.1 45.1 0 0 0 29.44 34.17Z" fill="#4074be"/>
<path d="M30.31 42.01A51.8 51.8 0 0 1 26.58 44.46L23.14 38.71A45.1 45.1 0 0 0 26.39 36.57Z" fill="#4074be"/>
<path d="M26.58 44.46A51.8 51.8 0 0 1 22.65 46.58L19.72 40.56A45.1 45.1 0 0 0 23.14 38.71Z" fill="#4074be"/>
<path d="M22.65 46.58A51.8 51.8 0 0 1 18.56 48.36L16.16 42.11A45.1 45.1 0 0 0 19.72 40.56Z" fill="#4074be"/>
<path d="M18.56 48.36A51.8 51.8 0 0 1 14.33 49.78L12.48 43.34A45.1 45.1 0 0 0 16.16 42.11Z" fill="#4074be"/>
<path d="M14.33 49.78A51.8 51.8 0 0 1 9.99 50.83L8.7 44.25A45.1 45.1 0 0 0 12.48 43.34Z" fill="#4074be"/>
<path d="M9.99 50.83A51.8 51.8 0 0 1 5.58 51.5L4.86 44.84A45.1 45.1 0 0 0 8.7 44.25Z" fill="#4074be"/>
<path d="M5.58 51.5A51.8 51.8 0 0 1 1.13 51.79L0.98 45.09A45.1 45.1 0 0 0 4.86 44.84Z" fill="#4074be"/>
<path d="M1.13 51.79A51.8 51.8 0 0 1 -3.33 51.69L-2.9 45.01A45.1 45.1 0 0 0 0.98 45.09Z" fill="#4074be"/>
<path d="M-3.33 51.69A51.8 51.8 0 0 1 -7.77 51.21L-6.76 44.59A45.1 45.1 0 0 0 -2.9 45.01Z" fill="#4074be"/>
<path d="M-7.77 51.21A51.8 51.8 0 0 1 -12.15 50.36L-10.58 43.84A45.1 45.1 0 0 0 -6.76 44.59Z" fill="#4074be"/>
<path d="M-12.15 50.36A51.8 51.8 0 0 1 -16.43 49.12L-14.31 42.77A45.1 45.1 0 0 0 -10.58 43.84Z" fill="#4074be"/>
<path d="M-16.43 49.12A51.8 51.8 0 0 1 -20.6 47.53L-17.94 41.38A45.1 45.1 0 0 0 -14.31 42.77Z" fill="#4074be"/>
<path d="M-20.6 47.53A51.8 51.8 0 0 1 -24.62 45.58L-21.43 39.68A45.1 45.1 0 0 0 -17.94 41.38Z" fill="#829ebe"/>
<path d="M-24.62 45.58A51.8 51.8 0 0 1 -28.45 43.29L-24.77 37.69A45.1 45.1 0 0 0 -21.43 39.68Z" fill="#c4ccb2"/>
<path d="M-28.45 43.29A51.8 51.8 0 0 1 -32.07 40.68L-27.92 35.42A45.1 45.1 0 0 0 -24.77 37.69Z" fill="#829ebe"/>
<path d="M-32.07 40.68A51.8 51.8 0 0 1 -35.45 37.77L-30.86 32.89A45.1 45.1 0 0 0 -27.92 35.42Z" fill="#829ebe"/>
<path d="M-35.45 37.77A51.8 51.8 0 0 1 -38.57 34.58L-33.58 30.11A45.1 45.1 0 0 0 -30.86 32.89Z" fill="#4074be"/>
<path d="M-38.57 34.58A51.8 51.8 0 0 1 -41.4 31.13L-36.05 27.11A45.1 45.1 0 0 0 -33.58 30.11Z" fill="#829ebe"/>
<path d="M-41.4 31.13A51.8 51.8 0 0 1 -43.93 27.45L-38.24 23.9A45.1 45.1 0 0 0 -36.05 27.11Z" fill="#829ebe"/>
<path d="M-43.93 27.45A51.8 51.8 0 0 1 -46.13 23.57L-40.16 20.52A45.1 45.1 0 0 0 -38.24 23.9Z" fill="#f2e6ac"/>
<path d="M-46.13 23.57A51.8 51.8 0 0 1 -47.98 19.52L-41.78 16.99A45.1 45.1 0 0 0 -40.16 20.52Z" fill="#c4ccb2"/>
<path d="M-47.98 19.52A51.8 51.8 0 0 1 -49.48 15.31L-43.08 13.33A45.1 45.1 0 0 0 -41.78 16.99Z" fill="#f2e6ac"/>
<path d="M-49.48 15.31A51.8 51.8 0 0 1 -50.62 11L-44.07 9.58A45.1 45.1 0 0 0 -43.08 13.33Z" fill="#f2e6ac"/>
<path d="M-50.62 11A51.8 51.8 0 0 1 -51.38 6.6L-44.73 5.75A45.1 45.1 0 0 0 -44.07 9.58Z" fill="#f2e6ac"/>
<path d="M-51.38 6.6A51.8 51.8 0 0 1 -51.76 2.15L-45.06 1.88A45.1 45.1 0 0 0 -44.73 5.75Z" fill="#4074be"/>
<path d="M-51.76 2.15A51.8 51.8 0 0 1 -51.75 -2.31L-45.06 -2.01A45.1 45.1 0 0 0 -45.06 1.88Z" fill="#829ebe"/>
<path d="M-51.75 -2.31A51.8 51.8 0 0 1 -51.36 -6.75L-44.72 -5.88A45.1 45.1 0 0 0 -45.06 -2.01Z" fill="#829ebe"/>
<path d="M-51.36 -6.75A51.8 51.8 0 0 1 -50.59 -11.15L-44.04 -9.71A45.1 45.1 0 0 0 -44.72 -5.88Z" fill="#829ebe"/>
<path d="M-50.59 -11.15A51.8 51.8 0 0 1 -49.44 -15.46L-43.04 -13.46A45.1 45.1 0 0 0 -44.04 -9.71Z" fill="#829ebe"/>
<path d="M-49.44 -15.46A51.8 51.8 0 0 1 -47.93 -19.66L-41.73 -17.11A45.1 45.1 0 0 0 -43.04 -13.46Z" fill="#c4ccb2"/>
<path d="M-47.93 -19.66A51.8 51.8 0 0 1 -46.06 -23.71L-40.1 -20.64A45.1 45.1 0 0 0 -41.73 -17.11Z" fill="#c4ccb2"/>
<path d="M-46.06 -23.71A51.8 51.8 0 0 1 -43.84 -27.58L-38.17 -24.02A45.1 45.1 0 0 0 -40.1 -20.64Z" fill="#c4ccb2"/>
<path d="M-43.84 -27.58A51.8 51.8 0 0 1 -41.31 -31.25L-35.97 -27.21A45.1 45.1 0 0 0 -38.17 -24.02Z" fill="#f2e6ac"/>
<path d="M-41.31 -31.25A51.8 51.8 0 0 1 -38.47 -34.69L-33.49 -30.21A45.1 45.1 0 0 0 -35.97 -27.21Z" fill="#c4ccb2"/>
<path d="M-38.47 -34.69A51.8 51.8 0 0 1 -35.34 -37.88L-30.77 -32.98A45.1 45.1 0 0 0 -33.49 -30.21Z" fill="#c4ccb2"/>
<path d="M-35.34 -37.88A51.8 51.8 0 0 1 -31.95 -40.78L-27.81 -35.5A45.1 45.1 0 0 0 -30.77 -32.98Z" fill="#c4ccb2"/>
<path d="M-31.95 -40.78A51.8 51.8 0 0 1 -28.32 -43.37L-24.66 -37.76A45.1 45.1 0 0 0 -27.81 -35.5Z" fill="#c4ccb2"/>
<path d="M29.81 -50.33A58.5 58.5 0 0 1 34.04 -47.58L30.14 -42.13A51.8 51.8 0 0 0 26.4 -44.57Z" fill="#4074be"/>
<path d="M34.04 -47.58A58.5 58.5 0 0 1 38 -44.47L33.65 -39.38A51.8 51.8 0 0 0 30.14 -42.13Z" fill="#829ebe"/>
<path d="M38 -44.47A58.5 58.5 0 0 1 41.69 -41.04L36.92 -36.34A51.8 51.8 0 0 0 33.65 -39.38Z" fill="#829ebe"/>
<path d="M41.69 -41.04A58.5 58.5 0 0 1 45.07 -37.3L39.91 -33.03A51.8 51.8 0 0 0 36.92 -36.34Z" fill="#829ebe"/>
<path d="M45.07 -37.3A58.5 58.5 0 0 1 48.11 -33.28L42.6 -29.47A51.8 51.8 0 0 0 39.91 -33.03Z" fill="#4074be"/>
<path d="M48.11 -33.28A58.5 58.5 0 0 1 50.8 -29.02L44.98 -25.69A51.8 51.8 0 0 0 42.6 -29.47Z" fill="#829ebe"/>
<path d="M50.8 -29.02A58.5 58.5 0 0 1 53.1 -24.54L47.02 -21.73A51.8 51.8 0 0 0 44.98 -25.69Z" fill="#829ebe"/>
<path d="M53.1 -24.54A58.5 58.5 0 0 1 55.02 -19.88L48.72 -17.6A51.8 51.8 0 0 0 47.02 -21.73Z" fill="#4074be"/>
<path d="M55.02 -19.88A58.5 58.5 0 0 1 56.53 -15.07L50.05 -13.34A51.8 51.8 0 0 0 48.72 -17.6Z" fill="#829ebe"/>
<path d="M56.53 -15.07A58.5 58.5 0 0 1 57.61 -10.15L51.01 -8.99A51.8 51.8 0 0 0 50.05 -13.34Z" fill="#4074be"/>
<path d="M57.61 -10.15A58.5 58.5 0 0 1 58.27 -5.15L51.6 -4.56A51.8 51.8 0 0 0 51.01 -8.99Z" fill="#4074be"/>
<path d="M58.27 -5.15A58.5 58.5 0 0 1 58.5 -0.12L51.8 -0.1A51.8 51.8 0 0 0 51.6 -4.56Z" fill="#829ebe"/>
<path d="M58.5 -0.12A58.5 58.5 0 0 1 58.29 4.92L51.62 4.35A51.8 51.8 0 0 0 51.8 -0.1Z" fill="#829ebe"/>
<path d="M58.29 4.92A58.5 58.5 0 0 1 57.65 9.91L51.05 8.78A51.8 51.8 0 0 0 51.62 4.35Z" fill="#4074be"/>
<path d="M57.65 9.91A58.5 58.5 0 0 1 56.59 14.84L50.11 13.14A51.8 51.8 0 0 0 51.05 8.78Z" fill="#829ebe"/>
<path d="M56.59 14.84A58.5 58.5 0 0 1 55.1 19.65L48.79 17.4A51.8 51.8 0 0 0 50.11 13.14Z" fill="#829ebe"/>
<path d="M55.1 19.65A58.5 58.5 0 0 1 53.2 24.32L47.11 21.54A51.8 51.8 0 0 0 48.79 17.4Z" fill="#829ebe"/>
<path d="M53.2 24.32A58.5 58.5 0 0 1 50.91 28.81L45.08 25.51A51.8 51.8 0 0 0 47.11 21.54Z" fill="#4074be"/>
<path d="M50.91 28.81A58.5 58.5 0 0 1 48.24 33.09L42.72 29.3A51.8 51.8 0 0 0 45.08 25.51Z" fill="#829ebe"/>
<path d="M48.24 33.09A58.5 58.5 0 0 1 45.22 37.12L40.04 32.87A51.8 51.8 0 0 0 42.72 29.3Z" fill="#829ebe"/>
<path d="M45.22 37.12A58.5 58.5 0 0 1 41.86 40.87L37.06 36.19A51.8 51.8 0 0 0 40.04 32.87Z" fill="#829ebe"/>
<path d="M41.86 40.87A58.5 58.5 0 0 1 38.18 44.32L33.81 39.24A51.8 51.8 0 0 0 37.06 36.19Z" fill="#829ebe"/>
<path d="M38.18 44.32A58.5 58.5 0 0 1 34.23 47.44L30.31 42.01A51.8 51.8 0 0 0 33.81 39.24Z" fill="#829ebe"/>
<path d="M34.23 47.44A58.5 58.5 0 0 1 30.02 50.21L26.58 44.46A51.8 51.8 0 0 0 30.31 42.01Z" fill="#829ebe"/>
<path d="M30.02 50.21A58.5 58.5 0 0 1 25.59 52.61L22.65 46.58A51.8 51.8 0 0 0 26.58 44.46Z" fill="#829ebe"/>
<path d="M25.59 52.61A58.5 58.5 0 0 1 20.96 54.62L18.56 48.36A51.8 51.8 0 0 0 22.65 46.58Z" fill="#c4ccb2"/>
<path d="M20.96 54.62A58.5 58.5 0 0 1 16.18 56.22L14.33 49.78A51.8 51.8 0 0 0 18.56 48.36Z" fill="#829ebe"/>
<path d="M16.18 56.22A58.5 58.5 0 0 1 11.29 57.4L9.99 50.83A51.8 51.8 0 0 0 14.33 49.78Z" fill="#829ebe"/>
<path d="M11.29 57.4A58.5 58.5 0 0 1 6.3 58.16L5.58 51.5A51.8 51.8 0 0 0 9.99 50.83Z" fill="#829ebe"/>
<path d="M6.3 58.16A58.5 58.5 0 0 1 1.28 58.49L1.13 51.79A51.8 51.8 0 0 0 5.58 51.5Z" fill="#829ebe"/>
<path d="M1.28 58.49A58.5 58.5 0 0 1 -3.76 58.38L-3.33 51.69A51.8 51.8 0 0 0 1.13 51.79Z" fill="#829ebe"/>
<path d="M-3.76 58.38A58.5 58.5 0 0 1 -8.77 57.84L-7.77 51.21A51.8 51.8 0 0 0 -3.33 51.69Z" fill="#4074be"/>
<path d="M-8.77 57.84A58.5 58.5 0 0 1 -13.72 56.87L-12.15 50.36A51.8 51.8 0 0 0 -7.77 51.21Z" fill="#829ebe"/>
<path d="M-13.72 56.87A58.5 58.5 0 0 1 -18.56 55.48L-16.43 49.12A51.8 51.8 0 0 0 -12.15 50.36Z" fill="#c4ccb2"/>
<path d="M-18.56 55.48A58.5 58.5 0 0 1 -23.27 53.67L-20.6 47.53A51.8 51.8 0 0 0 -16.43 49.12Z" fill="#c4ccb2"/>
<path d="M-23.27 53.67A58.5 58.5 0 0 1 -27.8 51.47L-24.62 45.58A51.8 51.8 0 0 0 -20.6 47.53Z" fill="#829ebe"/>
<path d="M-27.8 51.47A58.5 58.5 0 0 1 -32.13 48.89L-28.45 43.29A51.8 51.8 0 0 0 -24.62 45.58Z" fill="#4074be"/>
<path d="M-32.13 48.89A58.5 58.5 0 0 1 -36.21 45.94L-32.07 40.68A51.8 51.8 0 0 0 -28.45 43.29Z" fill="#829ebe"/>
<path d="M-36.21 45.94A58.5 58.5 0 0 1 -40.03 42.66L-35.45 37.77A51.8 51.8 0 0 0 -32.07 40.68Z" fill="#829ebe"/>
<path d="M-40.03 42.66A58.5 58.5 0 0 1 -43.56 39.05L-38.57 34.58A51.8 51.8 0 0 0 -35.45 37.77Z" fill="#829ebe"/>
<path d="M-43.56 39.05A58.5 58.5 0 0 1 -46.76 35.16L-41.4 31.13A51.8 51.8 0 0 0 -38.57 34.58Z" fill="#829ebe"/>
<path d="M-46.76 35.16A58.5 58.5 0 0 1 -49.61 31.01L-43.93 27.45A51.8 51.8 0 0 0 -41.4 31.13Z" fill="#4074be"/>
<path d="M-49.61 31.01A58.5 58.5 0 0 1 -52.09 26.62L-46.13 23.57A51.8 51.8 0 0 0 -43.93 27.45Z" fill="#829ebe"/>
<path d="M-52.09 26.62A58.5 58.5 0 0 1 -54.19 22.04L-47.98 19.52A51.8 51.8 0 0 0 -46.13 23.57Z" fill="#829ebe"/>
<path d="M-54.19 22.04A58.5 58.5 0 0 1 -55.89 17.29L-49.48 15.31A51.8 51.8 0 0 0 -47.98 19.52Z" fill="#829ebe"/>
<path d="M-55.89 17.29A58.5 58.5 0 0 1 -57.17 12.42L-50.62 11A51.8 51.8 0 0 0 -49.48 15.31Z" fill="#829ebe"/>
<path d="M-57.17 12.42A58.5 58.5 0 0 1 -58.02 7.45L-51.38 6.6A51.8 51.8 0 0 0 -50.62 11Z" fill="#829ebe"/>
<path d="M-58.02 7.45A58.5 58.5 0 0 1 -58.45 2.43L-51.76 2.15A51.8 51.8 0 0 0 -51.38 6.6Z" fill="#829ebe"/>
<path d="M-58.45 2.43A58.5 58.5 0 0 1 -58.44 -2.61L-51.75 -2.31A51.8 51.8 0 0 0 -51.76 2.15Z" fill="#4074be"/>
<path d="M-58.44 -2.61A58.5 58.5 0 0 1 -58 -7.63L-51.36 -6.75A51.8 51.8 0 0 0 -51.75 -2.31Z" fill="#829ebe"/>
<path d="M-58 -7.63A58.5 58.5 0 0 1 -57.13 -12.59L-50.59 -11.15A51.8 51.8 0 0 0 -51.36 -6.75Z" fill="#829ebe"/>
<path d="M-57.13 -12.59A58.5 58.5 0 0 1 -55.83 -17.46L-49.44 -15.46A51.8 51.8 0 0 0 -50.59 -11.15Z" fill="#829ebe"/>
<path d="M-55.83 -17.46A58.5 58.5 0 0 1 -54.12 -22.2L-47.93 -19.66A51.8 51.8 0 0 0 -49.44 -15.46Z" fill="#829ebe"/>
<path d="M-54.12 -22.2A58.5 58.5 0 0 1 -52.01 -26.77L-46.06 -23.71A51.8 51.8 0 0 0 -47.93 -19.66Z" fill="#829ebe"/>
<path d="M-52.01 -26.77A58.5 58.5 0 0 1 -49.52 -31.15L-43.84 -27.58A51.8 51.8 0 0 0 -46.06 -23.71Z" fill="#829ebe"/>
<path d="M-49.52 -31.15A58.5 58.5 0 0 1 -46.65 -35.3L-41.31 -31.25A51.8 51.8 0 0 0 -43.84 -27.58Z" fill="#829ebe"/>
<path d="M-46.65 -35.3A58.5 58.5 0 0 1 -43.44 -39.18L-38.47 -34.69A51.8 51.8 0 0 0 -41.31 -31.25Z" fill="#829ebe"/>
<path d="M-43.44 -39.18A58.5 58.5 0 0 1 -39.91 -42.77L-35.34 -37.88A51.8 51.8 0 0 0 -38.47 -34.69Z" fill="#829ebe"/>
<path d="M-39.91 -42.77A58.5 58.5 0 0 1 -36.08 -46.05L-31.95 -40.78A51.8 51.8 0 0 0 -35.34 -37.88Z" fill="#829ebe"/>
<path d="M-36.08 -46.05A58.5 58.5 0 0 1 -31.98 -48.98L-28.32 -43.37A51.8 51.8 0 0 0 -31.95 -40.78Z" fill="#829ebe"/>
<path d="M33.23 -56.1A65.2 65.2 0 0 1 37.93 -53.03L34.04 -47.58A58.5 58.5 0 0 0 29.81 -50.33Z" fill="#f6a67a"/>
<path d="M37.93 -53.03A65.2 65.2 0 0 1 42.36 -49.57L38 -44.47A58.5 58.5 0 0 0 34.04 -47.58Z" fill="#f24e38"/>
<path d="M42.36 -49.57A65.2 65.2 0 0 1 46.46 -45.74L41.69 -41.04A58.5 58.5 0 0 0 38 -44.47Z" fill="#f24e38"/>
<path d="M46.46 -45.74A65.2 65.2 0 0 1 50.23 -41.57L45.07 -37.3A58.5 58.5 0 0 0 41.69 -41.04Z" fill="#f24e38"/>
<path d="M50.23 -41.57A65.2 65.2 0 0 1 53.62 -37.09L48.11 -33.28A58.5 58.5 0 0 0 45.07 -37.3Z" fill="#f24e38"/>
<path d="M53.62 -37.09A65.2 65.2 0 0 1 56.61 -32.34L50.8 -29.02A58.5 58.5 0 0 0 48.11 -33.28Z" fill="#f24e38"/>
<path d="M56.61 -32.34A65.2 65.2 0 0 1 59.19 -27.35L53.1 -24.54A58.5 58.5 0 0 0 50.8 -29.02Z" fill="#f6a67a"/>
<path d="M59.19 -27.35A65.2 65.2 0 0 1 61.32 -22.15L55.02 -19.88A58.5 58.5 0 0 0 53.1 -24.54Z" fill="#f6a67a"/>
<path d="M61.32 -22.15A65.2 65.2 0 0 1 63 -16.79L56.53 -15.07A58.5 58.5 0 0 0 55.02 -19.88Z" fill="#f6a67a"/>
<path d="M63 -16.79A65.2 65.2 0 0 1 64.21 -11.31L57.61 -10.15A58.5 58.5 0 0 0 56.53 -15.07Z" fill="#f6a67a"/>
<path d="M64.21 -11.31A65.2 65.2 0 0 1 64.95 -5.74L58.27 -5.15A58.5 58.5 0 0 0 57.61 -10.15Z" fill="#f6a67a"/>
<path d="M64.95 -5.74A65.2 65.2 0 0 1 65.2 -0.13L58.5 -0.12A58.5 58.5 0 0 0 58.27 -5.15Z" fill="#f24e38"/>
<path d="M65.2 -0.13A65.2 65.2 0 0 1 64.97 5.48L58.29 4.92A58.5 58.5 0 0 0 58.5 -0.12Z" fill="#f24e38"/>
<path d="M64.97 5.48A65.2 65.2 0 0 1 64.26 11.05L57.65 9.91A58.5 58.5 0 0 0 58.29 4.92Z" fill="#f24e38"/>
<path d="M64.26 11.05A65.2 65.2 0 0 1 63.07 16.54L56.59 14.84A58.5 58.5 0 0 0 57.65 9.91Z" fill="#f24e38"/>
<path d="M63.07 16.54A65.2 65.2 0 0 1 61.41 21.91L55.1 19.65A58.5 58.5 0 0 0 56.59 14.84Z" fill="#f6a67a"/>
<path d="M61.41 21.91A65.2 65.2 0 0 1 59.3 27.11L53.2 24.32A58.5 58.5 0 0 0 55.1 19.65Z" fill="#f24e38"/>
<path d="M59.3 27.11A65.2 65.2 0 0 1 56.74 32.11L50.91 28.81A58.5 58.5 0 0 0 53.2 24.32Z" fill="#f6a67a"/>
<path d="M56.74 32.11A65.2 65.2 0 0 1 53.77 36.88L48.24 33.09A58.5 58.5 0 0 0 50.91 28.81Z" fill="#f6a67a"/>
<path d="M53.77 36.88A65.2 65.2 0 0 1 50.4 41.37L45.22 37.12A58.5 58.5 0 0 0 48.24 33.09Z" fill="#f24e38"/>
<path d="M50.4 41.37A65.2 65.2 0 0 1 46.65 45.55L41.86 40.87A58.5 58.5 0 0 0 45.22 37.12Z" fill="#f24e38"/>
<path d="M46.65 45.55A65.2 65.2 0 0 1 42.56 49.4L38.18 44.32A58.5 58.5 0 0 0 41.86 40.87Z" fill="#f6a67a"/>
<path d="M42.56 49.4A65.2 65.2 0 0 1 38.15 52.88L34.23 47.44A58.5 58.5 0 0 0 38.18 44.32Z" fill="#f24e38"/>
<path d="M38.15 52.88A65.2 65.2 0 0 1 33.46 55.96L30.02 50.21A58.5 58.5 0 0 0 34.23 47.44Z" fill="#f6a67a"/>
<path d="M33.46 55.96A65.2 65.2 0 0 1 28.52 58.63L25.59 52.61A58.5 58.5 0 0 0 30.02 50.21Z" fill="#f24e38"/>
<path d="M28.52 58.63A65.2 65.2 0 0 1 23.36 60.87L20.96 54.62A58.5 58.5 0 0 0 25.59 52.61Z" fill="#f24e38"/>
<path d="M23.36 60.87A65.2 65.2 0 0 1 18.04 62.66L16.18 56.22A58.5 58.5 0 0 0 20.96 54.62Z" fill="#f24e38"/>
<path d="M18.04 62.66A65.2 65.2 0 0 1 12.58 63.98L11.29 57.4A58.5 58.5 0 0 0 16.18 56.22Z" fill="#f24e38"/>
<path d="M12.58 63.98A65.2 65.2 0 0 1 7.03 64.82L6.3 58.16A58.5 58.5 0 0 0 11.29 57.4Z" fill="#f6a67a"/>
<path d="M7.03 64.82A65.2 65.2 0 0 1 1.42 65.18L1.28 58.49A58.5 58.5 0 0 0 6.3 58.16Z" fill="#f6a67a"/>
<path d="M1.42 65.18A65.2 65.2 0 0 1 -4.19 65.07L-3.76 58.38A58.5 58.5 0 0 0 1.28 58.49Z" fill="#f24e38"/>
<path d="M-4.19 65.07A65.2 65.2 0 0 1 -9.78 64.46L-8.77 57.84A58.5 58.5 0 0 0 -3.76 58.38Z" fill="#f6a67a"/>
<path d="M-9.78 64.46A65.2 65.2 0 0 1 -15.29 63.38L-13.72 56.87A58.5 58.5 0 0 0 -8.77 57.84Z" fill="#ec2220"/>
<path d="M-15.29 63.38A65.2 65.2 0 0 1 -20.69 61.83L-18.56 55.48A58.5 58.5 0 0 0 -13.72 56.87Z" fill="#f24e38"/>
<path d="M-20.69 61.83A65.2 65.2 0 0 1 -25.93 59.82L-23.27 53.67A58.5 58.5 0 0 0 -18.56 55.48Z" fill="#f24e38"/>
<path d="M-25.93 59.82A65.2 65.2 0 0 1 -30.98 57.37L-27.8 51.47A58.5 58.5 0 0 0 -23.27 53.67Z" fill="#f24e38"/>
<path d="M-30.98 57.37A65.2 65.2 0 0 1 -35.8 54.49L-32.13 48.89A58.5 58.5 0 0 0 -27.8 51.47Z" fill="#f6a67a"/>
<path d="M-35.8 54.49A65.2 65.2 0 0 1 -40.36 51.21L-36.21 45.94A58.5 58.5 0 0 0 -32.13 48.89Z" fill="#f6a67a"/>
<path d="M-40.36 51.21A65.2 65.2 0 0 1 -44.62 47.54L-40.03 42.66A58.5 58.5 0 0 0 -36.21 45.94Z" fill="#f24e38"/>
<path d="M-44.62 47.54A65.2 65.2 0 0 1 -48.54 43.53L-43.56 39.05A58.5 58.5 0 0 0 -40.03 42.66Z" fill="#f6a67a"/>
<path d="M-48.54 43.53A65.2 65.2 0 0 1 -52.11 39.19L-46.76 35.16A58.5 58.5 0 0 0 -43.56 39.05Z" fill="#f24e38"/>
<path d="M-52.11 39.19A65.2 65.2 0 0 1 -55.29 34.56L-49.61 31.01A58.5 58.5 0 0 0 -46.76 35.16Z" fill="#f24e38"/>
<path d="M-55.29 34.56A65.2 65.2 0 0 1 -58.06 29.67L-52.09 26.62A58.5 58.5 0 0 0 -49.61 31.01Z" fill="#f24e38"/>
<path d="M-58.06 29.67A65.2 65.2 0 0 1 -60.4 24.56L-54.19 22.04A58.5 58.5 0 0 0 -52.09 26.62Z" fill="#f24e38"/>
<path d="M-60.4 24.56A65.2 65.2 0 0 1 -62.29 19.27L-55.89 17.29A58.5 58.5 0 0 0 -54.19 22.04Z" fill="#f24e38"/>
<path d="M-62.29 19.27A65.2 65.2 0 0 1 -63.71 13.84L-57.17 12.42A58.5 58.5 0 0 0 -55.89 17.29Z" fill="#f24e38"/>
<path d="M-63.71 13.84A65.2 65.2 0 0 1 -64.67 8.31L-58.02 7.45A58.5 58.5 0 0 0 -57.17 12.42Z" fill="#f24e38"/>
<path d="M-64.67 8.31A65.2 65.2 0 0 1 -65.14 2.71L-58.45 2.43A58.5 58.5 0 0 0 -58.02 7.45Z" fill="#f24e38"/>
<path d="M-65.14 2.71A65.2 65.2 0 0 1 -65.14 -2.9L-58.44 -2.61A58.5 58.5 0 0 0 -58.45 2.43Z" fill="#f24e38"/>
<path d="M-65.14 -2.9A65.2 65.2 0 0 1 -64.64 -8.5L-58 -7.63A58.5 58.5 0 0 0 -58.44 -2.61Z" fill="#f24e38"/>
<path d="M-64.64 -8.5A65.2 65.2 0 0 1 -63.67 -14.03L-57.13 -12.59A58.5 58.5 0 0 0 -58 -7.63Z" fill="#f24e38"/>
<path d="M-63.67 -14.03A65.2 65.2 0 0 1 -62.23 -19.46L-55.83 -17.46A58.5 58.5 0 0 0 -57.13 -12.59Z" fill="#f24e38"/>
<path d="M-62.23 -19.46A65.2 65.2 0 0 1 -60.32 -24.74L-54.12 -22.2A58.5 58.5 0 0 0 -55.83 -17.46Z" fill="#f24e38"/>
<path d="M-60.32 -24.74A65.2 65.2 0 0 1 -57.97 -29.84L-52.01 -26.77A58.5 58.5 0 0 0 -54.12 -22.2Z" fill="#f24e38"/>
<path d="M-57.97 -29.84A65.2 65.2 0 0 1 -55.19 -34.72L-49.52 -31.15A58.5 58.5 0 0 0 -52.01 -26.77Z" fill="#f24e38"/>
<path d="M-55.19 -34.72A65.2 65.2 0 0 1 -51.99 -39.34L-46.65 -35.3A58.5 58.5 0 0 0 -49.52 -31.15Z" fill="#f24e38"/>
<path d="M-51.99 -39.34A65.2 65.2 0 0 1 -48.42 -43.67L-43.44 -39.18A58.5 58.5 0 0 0 -46.65 -35.3Z" fill="#f24e38"/>
<path d="M-48.42 -43.67A65.2 65.2 0 0 1 -44.48 -47.67L-39.91 -42.77A58.5 58.5 0 0 0 -43.44 -39.18Z" fill="#f24e38"/>
<path d="M-44.48 -47.67A65.2 65.2 0 0 1 -40.21 -51.32L-36.08 -46.05A58.5 58.5 0 0 0 -39.91 -42.77Z" fill="#f24e38"/>
<path d="M-40.21 -51.32A65.2 65.2 0 0 1 -35.64 -54.59L-31.98 -48.98A58.5 58.5 0 0 0 -36.08 -46.05Z" fill="#f24e38"/>
<path d="M36.64 -61.86A71.9 71.9 0 0 1 41.83 -58.48L37.93 -53.03A65.2 65.2 0 0 0 33.23 -56.1Z" fill="#f2e6ac"/>
<path d="M41.83 -58.48A71.9 71.9 0 0 1 46.71 -54.66L42.36 -49.57A65.2 65.2 0 0 0 37.93 -53.03Z" fill="#f6a67a"/>
<path d="M46.71 -54.66A71.9 71.9 0 0 1 51.24 -50.44L46.46 -45.74A65.2 65.2 0 0 0 42.36 -49.57Z" fill="#f24e38"/>
<path d="M51.24 -50.44A71.9 71.9 0 0 1 55.39 -45.84L50.23 -41.57A65.2 65.2 0 0 0 46.46 -45.74Z" fill="#f6a67a"/>
<path d="M55.39 -45.84A71.9 71.9 0 0 1 59.13 -40.91L53.62 -37.09A65.2 65.2 0 0 0 50.23 -41.57Z" fill="#f6a67a"/>
<path d="M59.13 -40.91A71.9 71.9 0 0 1 62.43 -35.66L56.61 -32.34A65.2 65.2 0 0 0 53.62 -37.09Z" fill="#f24e38"/>
<path d="M62.43 -35.66A71.9 71.9 0 0 1 65.27 -30.16L59.19 -27.35A65.2 65.2 0 0 0 56.61 -32.34Z" fill="#f24e38"/>
<path d="M65.27 -30.16A71.9 71.9 0 0 1 67.62 -24.43L61.32 -22.15A65.2 65.2 0 0 0 59.19 -27.35Z" fill="#f6a67a"/>
<path d="M67.62 -24.43A71.9 71.9 0 0 1 69.47 -18.52L63 -16.79A65.2 65.2 0 0 0 61.32 -22.15Z" fill="#f6a67a"/>
<path d="M69.47 -18.52A71.9 71.9 0 0 1 70.81 -12.47L64.21 -11.31A65.2 65.2 0 0 0 63 -16.79Z" fill="#f24e38"/>
<path d="M70.81 -12.47A71.9 71.9 0 0 1 71.62 -6.33L64.95 -5.74A65.2 65.2 0 0 0 64.21 -11.31Z" fill="#f6a67a"/>
<path d="M71.62 -6.33A71.9 71.9 0 0 1 71.9 -0.15L65.2 -0.13A65.2 65.2 0 0 0 64.95 -5.74Z" fill="#f24e38"/>
<path d="M71.9 -0.15A71.9 71.9 0 0 1 71.65 6.04L64.97 5.48A65.2 65.2 0 0 0 65.2 -0.13Z" fill="#f6a67a"/>
<path d="M71.65 6.04A71.9 71.9 0 0 1 70.86 12.19L64.26 11.05A65.2 65.2 0 0 0 64.97 5.48Z" fill="#f6a67a"/>
<path d="M70.86 12.19A71.9 71.9 0 0 1 69.55 18.24L63.07 16.54A65.2 65.2 0 0 0 64.26 11.05Z" fill="#f24e38"/>
<path d="M69.55 18.24A71.9 71.9 0 0 1 67.72 24.16L61.41 21.91A65.2 65.2 0 0 0 63.07 16.54Z" fill="#c4ccb2"/>
<path d="M67.72 24.16A71.9 71.9 0 0 1 65.39 29.9L59.3 27.11A65.2 65.2 0 0 0 61.41 21.91Z" fill="#f6a67a"/>
<path d="M65.39 29.9A71.9 71.9 0 0 1 62.57 35.41L56.74 32.11A65.2 65.2 0 0 0 59.3 27.11Z" fill="#f6a67a"/>
<path d="M62.57 35.41A71.9 71.9 0 0 1 59.3 40.67L53.77 36.88A65.2 65.2 0 0 0 56.74 32.11Z" fill="#f6a67a"/>
<path d="M59.3 40.67A71.9 71.9 0 0 1 55.58 45.62L50.4 41.37A65.2 65.2 0 0 0 53.77 36.88Z" fill="#f2e6ac"/>
<path d="M55.58 45.62A71.9 71.9 0 0 1 51.44 50.23L46.65 45.55A65.2 65.2 0 0 0 50.4 41.37Z" fill="#f2e6ac"/>
<path d="M51.44 50.23A71.9 71.9 0 0 1 46.93 54.47L42.56 49.4A65.2 65.2 0 0 0 46.65 45.55Z" fill="#f2e6ac"/>
<path d="M46.93 54.47A71.9 71.9 0 0 1 42.07 58.31L38.15 52.88A65.2 65.2 0 0 0 42.56 49.4Z" fill="#f6a67a"/>
<path d="M42.07 58.31A71.9 71.9 0 0 1 36.89 61.71L33.46 55.96A65.2 65.2 0 0 0 38.15 52.88Z" fill="#f6a67a"/>
<path d="M36.89 61.71A71.9 71.9 0 0 1 31.45 64.66L28.52 58.63A65.2 65.2 0 0 0 33.46 55.96Z" fill="#f6a67a"/>
<path d="M31.45 64.66A71.9 71.9 0 0 1 25.76 67.13L23.36 60.87A65.2 65.2 0 0 0 28.52 58.63Z" fill="#f24e38"/>
<path d="M25.76 67.13A71.9 71.9 0 0 1 19.89 69.09L18.04 62.66A65.2 65.2 0 0 0 23.36 60.87Z" fill="#f6a67a"/>
<path d="M19.89 69.09A71.9 71.9 0 0 1 13.87 70.55L12.58 63.98A65.2 65.2 0 0 0 18.04 62.66Z" fill="#c4ccb2"/>
<path d="M13.87 70.55A71.9 71.9 0 0 1 7.75 71.48L7.03 64.82A65.2 65.2 0 0 0 12.58 63.98Z" fill="#f6a67a"/>
<path d="M7.75 71.48A71.9 71.9 0 0 1 1.57 71.88L1.42 65.18A65.2 65.2 0 0 0 7.03 64.82Z" fill="#f6a67a"/>
<path d="M1.57 71.88A71.9 71.9 0 0 1 -4.62 71.75L-4.19 65.07A65.2 65.2 0 0 0 1.42 65.18Z" fill="#f24e38"/>
<path d="M-4.62 71.75A71.9 71.9 0 0 1 -10.78 71.09L-9.78 64.46A65.2 65.2 0 0 0 -4.19 65.07Z" fill="#829ebe"/>
<path d="M-10.78 71.09A71.9 71.9 0 0 1 -16.86 69.9L-15.29 63.38A65.2 65.2 0 0 0 -9.78 64.46Z" fill="#f24e38"/>
<path d="M-16.86 69.9A71.9 71.9 0 0 1 -22.81 68.19L-20.69 61.83A65.2 65.2 0 0 0 -15.29 63.38Z" fill="#ec2220"/>
<path d="M-22.81 68.19A71.9 71.9 0 0 1 -28.6 65.97L-25.93 59.82A65.2 65.2 0 0 0 -20.69 61.83Z" fill="#ec2220"/>
<path d="M-28.6 65.97A71.9 71.9 0 0 1 -34.17 63.26L-30.98 57.37A65.2 65.2 0 0 0 -25.93 59.82Z" fill="#f6a67a"/>
<path d="M-34.17 63.26A71.9 71.9 0 0 1 -39.48 60.09L-35.8 54.49A65.2 65.2 0 0 0 -30.98 57.37Z" fill="#f6a67a"/>
<path d="M-39.48 60.09A71.9 71.9 0 0 1 -44.51 56.47L-40.36 51.21A65.2 65.2 0 0 0 -35.8 54.49Z" fill="#f6a67a"/>
<path d="M-44.51 56.47A71.9 71.9 0 0 1 -49.2 52.43L-44.62 47.54A65.2 65.2 0 0 0 -40.36 51.21Z" fill="#f6a67a"/>
<path d="M-49.2 52.43A71.9 71.9 0 0 1 -53.53 48L-48.54 43.53A65.2 65.2 0 0 0 -44.62 47.54Z" fill="#f6a67a"/>
<path d="M-53.53 48A71.9 71.9 0 0 1 -57.46 43.21L-52.11 39.19A65.2 65.2 0 0 0 -48.54 43.53Z" fill="#f6a67a"/>
<path d="M-57.46 43.21A71.9 71.9 0 0 1 -60.97 38.11L-55.29 34.56A65.2 65.2 0 0 0 -52.11 39.19Z" fill="#f6a67a"/>
<path d="M-60.97 38.11A71.9 71.9 0 0 1 -64.02 32.72L-58.06 29.67A65.2 65.2 0 0 0 -55.29 34.56Z" fill="#f2e6ac"/>
<path d="M-64.02 32.72A71.9 71.9 0 0 1 -66.6 27.09L-60.4 24.56A65.2 65.2 0 0 0 -58.06 29.67Z" fill="#f2e6ac"/>
<path d="M-66.6 27.09A71.9 71.9 0 0 1 -68.69 21.26L-62.29 19.27A65.2 65.2 0 0 0 -60.4 24.56Z" fill="#f2e6ac"/>
<path d="M-68.69 21.26A71.9 71.9 0 0 1 -70.26 15.27L-63.71 13.84A65.2 65.2 0 0 0 -62.29 19.27Z" fill="#f2e6ac"/>
<path d="M-70.26 15.27A71.9 71.9 0 0 1 -71.31 9.16L-64.67 8.31A65.2 65.2 0 0 0 -63.71 13.84Z" fill="#f2e6ac"/>
<path d="M-71.31 9.16A71.9 71.9 0 0 1 -71.84 2.99L-65.14 2.71A65.2 65.2 0 0 0 -64.67 8.31Z" fill="#f6a67a"/>
<path d="M-71.84 2.99A71.9 71.9 0 0 1 -71.83 -3.2L-65.14 -2.9A65.2 65.2 0 0 0 -65.14 2.71Z" fill="#f24e38"/>
<path d="M-71.83 -3.2A71.9 71.9 0 0 1 -71.29 -9.37L-64.64 -8.5A65.2 65.2 0 0 0 -65.14 -2.9Z" fill="#f24e38"/>
<path d="M-71.29 -9.37A71.9 71.9 0 0 1 -70.22 -15.47L-63.67 -14.03A65.2 65.2 0 0 0 -64.64 -8.5Z" fill="#f24e38"/>
<path d="M-70.22 -15.47A71.9 71.9 0 0 1 -68.62 -21.46L-62.23 -19.46A65.2 65.2 0 0 0 -63.67 -14.03Z" fill="#f24e38"/>
<path d="M-68.62 -21.46A71.9 71.9 0 0 1 -66.52 -27.28L-60.32 -24.74A65.2 65.2 0 0 0 -62.23 -19.46Z" fill="#f24e38"/>
<path d="M-66.52 -27.28A71.9 71.9 0 0 1 -63.93 -32.91L-57.97 -29.84A65.2 65.2 0 0 0 -60.32 -24.74Z" fill="#f24e38"/>
<path d="M-63.93 -32.91A71.9 71.9 0 0 1 -60.86 -38.29L-55.19 -34.72A65.2 65.2 0 0 0 -57.97 -29.84Z" fill="#f24e38"/>
<path d="M-60.86 -38.29A71.9 71.9 0 0 1 -57.34 -43.38L-51.99 -39.34A65.2 65.2 0 0 0 -55.19 -34.72Z" fill="#f24e38"/>
<path d="M-57.34 -43.38A71.9 71.9 0 0 1 -53.39 -48.16L-48.42 -43.67A65.2 65.2 0 0 0 -51.99 -39.34Z" fill="#ec2220"/>
<path d="M-53.39 -48.16A71.9 71.9 0 0 1 -49.05 -52.57L-44.48 -47.67A65.2 65.2 0 0 0 -48.42 -43.67Z" fill="#f24e38"/>
<path d="M-49.05 -52.57A71.9 71.9 0 0 1 -44.34 -56.6L-40.21 -51.32A65.2 65.2 0 0 0 -44.48 -47.67Z" fill="#f24e38"/>
<path d="M-44.34 -56.6A71.9 71.9 0 0 1 -39.31 -60.2L-35.64 -54.59A65.2 65.2 0 0 0 -40.21 -51.32Z" fill="#f24e38"/>
<path d="M40.06 -67.63A78.6 78.6 0 0 1 45.73 -63.93L41.83 -58.48A71.9 71.9 0 0 0 36.64 -61.86Z" fill="#1c56b8"/>
<path d="M45.73 -63.93A78.6 78.6 0 0 1 51.06 -59.76L46.71 -54.66A71.9 71.9 0 0 0 41.83 -58.48Z" fill="#4074be"/>
<path d="M51.06 -59.76A78.6 78.6 0 0 1 56.01 -55.14L51.24 -50.44A71.9 71.9 0 0 0 46.71 -54.66Z" fill="#4074be"/>
<path d="M56.01 -55.14A78.6 78.6 0 0 1 60.55 -50.11L55.39 -45.84A71.9 71.9 0 0 0 51.24 -50.44Z" fill="#4074be"/>
<path d="M60.55 -50.11A78.6 78.6 0 0 1 64.64 -44.72L59.13 -40.91A71.9 71.9 0 0 0 55.39 -45.84Z" fill="#4074be"/>
<path d="M64.64 -44.72A78.6 78.6 0 0 1 68.25 -38.99L62.43 -35.66A71.9 71.9 0 0 0 59.13 -40.91Z" fill="#1c56b8"/>
<path d="M68.25 -38.99A78.6 78.6 0 0 1 71.35 -32.97L65.27 -30.16A71.9 71.9 0 0 0 62.43 -35.66Z" fill="#1c56b8"/>
<path d="M71.35 -32.97A78.6 78.6 0 0 1 73.92 -26.71L67.62 -24.43A71.9 71.9 0 0 0 65.27 -30.16Z" fill="#4074be"/>
<path d="M73.92 -26.71A78.6 78.6 0 0 1 75.95 -20.25L69.47 -18.52A71.9 71.9 0 0 0 67.62 -24.43Z" fill="#4074be"/>
<path d="M75.95 -20.25A78.6 78.6 0 0 1 77.41 -13.64L70.81 -12.47A71.9 71.9 0 0 0 69.47 -18.52Z" fill="#4074be"/>
<path d="M77.41 -13.64A78.6 78.6 0 0 1 78.29 -6.92L71.62 -6.33A71.9 71.9 0 0 0 70.81 -12.47Z" fill="#4074be"/>
<path d="M78.29 -6.92A78.6 78.6 0 0 1 78.6 -0.16L71.9 -0.15A71.9 71.9 0 0 0 71.62 -6.33Z" fill="#4074be"/>
<path d="M78.6 -0.16A78.6 78.6 0 0 1 78.32 6.61L71.65 6.04A71.9 71.9 0 0 0 71.9 -0.15Z" fill="#ec2220"/>
<path d="M78.32 6.61A78.6 78.6 0 0 1 77.46 13.32L70.86 12.19A71.9 71.9 0 0 0 71.65 6.04Z" fill="#4074be"/>
<path d="M77.46 13.32A78.6 78.6 0 0 1 76.03 19.94L69.55 18.24A71.9 71.9 0 0 0 70.86 12.19Z" fill="#4074be"/>
<path d="M76.03 19.94A78.6 78.6 0 0 1 74.03 26.41L67.72 24.16A71.9 71.9 0 0 0 69.55 18.24Z" fill="#4074be"/>
<path d="M74.03 26.41A78.6 78.6 0 0 1 71.48 32.68L65.39 29.9A71.9 71.9 0 0 0 67.72 24.16Z" fill="#4074be"/>
<path d="M71.48 32.68A78.6 78.6 0 0 1 68.41 38.71L62.57 35.41A71.9 71.9 0 0 0 65.39 29.9Z" fill="#4074be"/>
<path d="M68.41 38.71A78.6 78.6 0 0 1 64.82 44.46L59.3 40.67A71.9 71.9 0 0 0 62.57 35.41Z" fill="#4074be"/>
<path d="M64.82 44.46A78.6 78.6 0 0 1 60.75 49.87L55.58 45.62A71.9 71.9 0 0 0 59.3 40.67Z" fill="#4074be"/>
<path d="M60.75 49.87A78.6 78.6 0 0 1 56.24 54.91L51.44 50.23A71.9 71.9 0 0 0 55.58 45.62Z" fill="#4074be"/>
<path d="M56.24 54.91A78.6 78.6 0 0 1 51.3 59.55L46.93 54.47A71.9 71.9 0 0 0 51.44 50.23Z" fill="#1c56b8"/>
<path d="M51.3 59.55A78.6 78.6 0 0 1 45.99 63.74L42.07 58.31A71.9 71.9 0 0 0 46.93 54.47Z" fill="#4074be"/>
<path d="M45.99 63.74A78.6 78.6 0 0 1 40.33 67.46L36.89 61.71A71.9 71.9 0 0 0 42.07 58.31Z" fill="#4074be"/>
<path d="M40.33 67.46A78.6 78.6 0 0 1 34.38 70.68L31.45 64.66A71.9 71.9 0 0 0 36.89 61.71Z" fill="#4074be"/>
<path d="M34.38 70.68A78.6 78.6 0 0 1 28.17 73.38L25.76 67.13A71.9 71.9 0 0 0 31.45 64.66Z" fill="#4074be"/>
<path d="M28.17 73.38A78.6 78.6 0 0 1 21.75 75.53L19.89 69.09A71.9 71.9 0 0 0 25.76 67.13Z" fill="#4074be"/>
<path d="M21.75 75.53A78.6 78.6 0 0 1 15.16 77.12L13.87 70.55A71.9 71.9 0 0 0 19.89 69.09Z" fill="#1c56b8"/>
<path d="M15.16 77.12A78.6 78.6 0 0 1 8.47 78.14L7.75 71.48A71.9 71.9 0 0 0 13.87 70.55Z" fill="#4074be"/>
<path d="M8.47 78.14A78.6 78.6 0 0 1 1.71 78.58L1.57 71.88A71.9 71.9 0 0 0 7.75 71.48Z" fill="#4074be"/>
<path d="M1.71 78.58A78.6 78.6 0 0 1 -5.05 78.44L-4.62 71.75A71.9 71.9 0 0 0 1.57 71.88Z" fill="#4074be"/>
<path d="M-5.05 78.44A78.6 78.6 0 0 1 -11.79 77.71L-10.78 71.09A71.9 71.9 0 0 0 -4.62 71.75Z" fill="#4074be"/>
<path d="M-11.79 77.71A78.6 78.6 0 0 1 -18.43 76.41L-16.86 69.9A71.9 71.9 0 0 0 -10.78 71.09Z" fill="#4074be"/>
<path d="M-18.43 76.41A78.6 78.6 0 0 1 -24.94 74.54L-22.81 68.19A71.9 71.9 0 0 0 -16.86 69.9Z" fill="#829ebe"/>
<path d="M-24.94 74.54A78.6 78.6 0 0 1 -31.26 72.12L-28.6 65.97A71.9 71.9 0 0 0 -22.81 68.19Z" fill="#4074be"/>
<path d="M-31.26 72.12A78.6 78.6 0 0 1 -37.35 69.16L-34.17 63.26A71.9 71.9 0 0 0 -28.6 65.97Z" fill="#4074be"/>
<path d="M-37.35 69.16A78.6 78.6 0 0 1 -43.16 65.69L-39.48 60.09A71.9 71.9 0 0 0 -34.17 63.26Z" fill="#4074be"/>
<path d="M-43.16 65.69A78.6 78.6 0 0 1 -48.66 61.73L-44.51 56.47A71.9 71.9 0 0 0 -39.48 60.09Z" fill="#4074be"/>
<path d="M-48.66 61.73A78.6 78.6 0 0 1 -53.79 57.31L-49.2 52.43A71.9 71.9 0 0 0 -44.51 56.47Z" fill="#4074be"/>
<path d="M-53.79 57.31A78.6 78.6 0 0 1 -58.52 52.47L-53.53 48A71.9 71.9 0 0 0 -49.2 52.43Z" fill="#4074be"/>
<path d="M-58.52 52.47A78.6 78.6 0 0 1 -62.82 47.24L-57.46 43.21A71.9 71.9 0 0 0 -53.53 48Z" fill="#1c56b8"/>
<path d="M-62.82 47.24A78.6 78.6 0 0 1 -66.65 41.66L-60.97 38.11A71.9 71.9 0 0 0 -57.46 43.21Z" fill="#4074be"/>
<path d="M-66.65 41.66A78.6 78.6 0 0 1 -69.99 35.77L-64.02 32.72A71.9 71.9 0 0 0 -60.97 38.11Z" fill="#4074be"/>
<path d="M-69.99 35.77A78.6 78.6 0 0 1 -72.81 29.61L-66.6 27.09A71.9 71.9 0 0 0 -64.02 32.72Z" fill="#4074be"/>
<path d="M-72.81 29.61A78.6 78.6 0 0 1 -75.09 23.24L-68.69 21.26A71.9 71.9 0 0 0 -66.6 27.09Z" fill="#4074be"/>
<path d="M-75.09 23.24A78.6 78.6 0 0 1 -76.81 16.69L-70.26 15.27A71.9 71.9 0 0 0 -68.69 21.26Z" fill="#4074be"/>
<path d="M-76.81 16.69A78.6 78.6 0 0 1 -77.96 10.02L-71.31 9.16A71.9 71.9 0 0 0 -70.26 15.27Z" fill="#4074be"/>
<path d="M-77.96 10.02A78.6 78.6 0 0 1 -78.53 3.27L-71.84 2.99A71.9 71.9 0 0 0 -71.31 9.16Z" fill="#1c56b8"/>
<path d="M-78.53 3.27A78.6 78.6 0 0 1 -78.52 -3.5L-71.83 -3.2A71.9 71.9 0 0 0 -71.84 2.99Z" fill="#4074be"/>
<path d="M-78.52 -3.5A78.6 78.6 0 0 1 -77.93 -10.25L-71.29 -9.37A71.9 71.9 0 0 0 -71.83 -3.2Z" fill="#4074be"/>
<path d="M-77.93 -10.25A78.6 78.6 0 0 1 -76.76 -16.91L-70.22 -15.47A71.9 71.9 0 0 0 -71.29 -9.37Z" fill="#4074be"/>
<path d="M-76.76 -16.91A78.6 78.6 0 0 1 -75.02 -23.46L-68.62 -21.46A71.9 71.9 0 0 0 -70.22 -15.47Z" fill="#4074be"/>
<path d="M-75.02 -23.46A78.6 78.6 0 0 1 -72.72 -29.83L-66.52 -27.28A71.9 71.9 0 0 0 -68.62 -21.46Z" fill="#1c56b8"/>
<path d="M-72.72 -29.83A78.6 78.6 0 0 1 -69.88 -35.97L-63.93 -32.91A71.9 71.9 0 0 0 -66.52 -27.28Z" fill="#1c56b8"/>
<path d="M-69.88 -35.97A78.6 78.6 0 0 1 -66.53 -41.86L-60.86 -38.29A71.9 71.9 0 0 0 -63.93 -32.91Z" fill="#1c56b8"/>
<path d="M-66.53 -41.86A78.6 78.6 0 0 1 -62.68 -47.43L-57.34 -43.38A71.9 71.9 0 0 0 -60.86 -38.29Z" fill="#1c56b8"/>
<path d="M-62.68 -47.43A78.6 78.6 0 0 1 -58.37 -52.64L-53.39 -48.16A71.9 71.9 0 0 0 -57.34 -43.38Z" fill="#4074be"/>
<path d="M-58.37 -52.64A78.6 78.6 0 0 1 -53.62 -57.47L-49.05 -52.57A71.9 71.9 0 0 0 -53.39 -48.16Z" fill="#4074be"/>
<path d="M-53.62 -57.47A78.6 78.6 0 0 1 -48.47 -61.87L-44.34 -56.6A71.9 71.9 0 0 0 -49.05 -52.57Z" fill="#1c56b8"/>
<path d="M-48.47 -61.87A78.6 78.6 0 0 1 -42.97 -65.81L-39.31 -60.2A71.9 71.9 0 0 0 -44.34 -56.6Z" fill="#1c56b8"/>
<path d="M43.47 -73.39A85.3 85.3 0 0 1 49.63 -69.38L45.73 -63.93A78.6 78.6 0 0 0 40.06 -67.63Z" fill="#f2e6ac"/>
<path d="M49.63 -69.38A85.3 85.3 0 0 1 55.41 -64.85L51.06 -59.76A78.6 78.6 0 0 0 45.73 -63.93Z" fill="#f6a67a"/>
<path d="M55.41 -64.85A85.3 85.3 0 0 1 60.79 -59.84L56.01 -55.14A78.6 78.6 0 0 0 51.06 -59.76Z" fill="#f6a67a"/>
<path d="M60.79 -59.84A85.3 85.3 0 0 1 65.71 -54.39L60.55 -50.11A78.6 78.6 0 0 0 56.01 -55.14Z" fill="#f6a67a"/>
<path d="M65.71 -54.39A85.3 85.3 0 0 1 70.15 -48.53L64.64 -44.72A78.6 78.6 0 0 0 60.55 -50.11Z" fill="#f6a67a"/>
<path d="M70.15 -48.53A85.3 85.3 0 0 1 74.07 -42.31L68.25 -38.99A78.6 78.6 0 0 0 64.64 -44.72Z" fill="#f6a67a"/>
<path d="M74.07 -42.31A85.3 85.3 0 0 1 77.43 -35.78L71.35 -32.97A78.6 78.6 0 0 0 68.25 -38.99Z" fill="#f6a67a"/>
<path d="M77.43 -35.78A85.3 85.3 0 0 1 80.22 -28.98L73.92 -26.71A78.6 78.6 0 0 0 71.35 -32.97Z" fill="#f6a67a"/>
<path d="M80.22 -28.98A85.3 85.3 0 0 1 82.42 -21.97L75.95 -20.25A78.6 78.6 0 0 0 73.92 -26.71Z" fill="#f6a67a"/>
<path d="M82.42 -21.97A85.3 85.3 0 0 1 84.01 -14.8L77.41 -13.64A78.6 78.6 0 0 0 75.95 -20.25Z" fill="#f6a67a"/>
<path d="M84.01 -14.8A85.3 85.3 0 0 1 84.97 -7.51L78.29 -6.92A78.6 78.6 0 0 0 77.41 -13.64Z" fill="#f6a67a"/>
<path d="M84.97 -7.51A85.3 85.3 0 0 1 85.3 -0.17L78.6 -0.16A78.6 78.6 0 0 0 78.29 -6.92Z" fill="#f6a67a"/>
<path d="M85.3 -0.17A85.3 85.3 0 0 1 85 7.17L78.32 6.61A78.6 78.6 0 0 0 78.6 -0.16Z" fill="#f6a67a"/>
<path d="M85 7.17A85.3 85.3 0 0 1 84.07 14.46L77.46 13.32A78.6 78.6 0 0 0 78.32 6.61Z" fill="#f6a67a"/>
<path d="M84.07 14.46A85.3 85.3 0 0 1 82.51 21.64L76.03 19.94A78.6 78.6 0 0 0 77.46 13.32Z" fill="#f6a67a"/>
<path d="M82.51 21.64A85.3 85.3 0 0 1 80.34 28.66L74.03 26.41A78.6 78.6 0 0 0 76.03 19.94Z" fill="#f2e6ac"/>
<path d="M80.34 28.66A85.3 85.3 0 0 1 77.58 35.47L71.48 32.68A78.6 78.6 0 0 0 74.03 26.41Z" fill="#f6a67a"/>
<path d="M77.58 35.47A85.3 85.3 0 0 1 74.24 42.01L68.41 38.71A78.6 78.6 0 0 0 71.48 32.68Z" fill="#f6a67a"/>
<path d="M74.24 42.01A85.3 85.3 0 0 1 70.35 48.24L64.82 44.46A78.6 78.6 0 0 0 68.41 38.71Z" fill="#f6a67a"/>
<path d="M70.35 48.24A85.3 85.3 0 0 1 65.93 54.12L60.75 49.87A78.6 78.6 0 0 0 64.82 44.46Z" fill="#c4ccb2"/>
<path d="M65.93 54.12A85.3 85.3 0 0 1 61.03 59.59L56.24 54.91A78.6 78.6 0 0 0 60.75 49.87Z" fill="#f6a67a"/>
<path d="M61.03 59.59A85.3 85.3 0 0 1 55.68 64.62L51.3 59.55A78.6 78.6 0 0 0 56.24 54.91Z" fill="#f2e6ac"/>
<path d="M55.68 64.62A85.3 85.3 0 0 1 49.91 69.18L45.99 63.74A78.6 78.6 0 0 0 51.3 59.55Z" fill="#f6a67a"/>
<path d="M49.91 69.18A85.3 85.3 0 0 1 43.77 73.21L40.33 67.46A78.6 78.6 0 0 0 45.99 63.74Z" fill="#f2e6ac"/>
<path d="M43.77 73.21A85.3 85.3 0 0 1 37.31 76.71L34.38 70.68A78.6 78.6 0 0 0 40.33 67.46Z" fill="#f6a67a"/>
<path d="M37.31 76.71A85.3 85.3 0 0 1 30.57 79.64L28.17 73.38A78.6 78.6 0 0 0 34.38 70.68Z" fill="#f24e38"/>
<path d="M30.57 79.64A85.3 85.3 0 0 1 23.6 81.97L21.75 75.53A78.6 78.6 0 0 0 28.17 73.38Z" fill="#f24e38"/>
<path d="M23.6 81.97A85.3 85.3 0 0 1 16.46 83.7L15.16 77.12A78.6 78.6 0 0 0 21.75 75.53Z" fill="#c4ccb2"/>
<path d="M16.46 83.7A85.3 85.3 0 0 1 9.19 84.8L8.47 78.14A78.6 78.6 0 0 0 15.16 77.12Z" fill="#f2e6ac"/>
<path d="M9.19 84.8A85.3 85.3 0 0 1 1.86 85.28L1.71 78.58A78.6 78.6 0 0 0 8.47 78.14Z" fill="#f6a67a"/>
<path d="M1.86 85.28A85.3 85.3 0 0 1 -5.49 85.12L-5.05 78.44A78.6 78.6 0 0 0 1.71 78.58Z" fill="#f6a67a"/>
<path d="M-5.49 85.12A85.3 85.3 0 0 1 -12.79 84.34L-11.79 77.71A78.6 78.6 0 0 0 -5.05 78.44Z" fill="#c4ccb2"/>
<path d="M-12.79 84.34A85.3 85.3 0 0 1 -20 82.92L-18.43 76.41A78.6 78.6 0 0 0 -11.79 77.71Z" fill="#f6a67a"/>
<path d="M-20 82.92A85.3 85.3 0 0 1 -27.06 80.89L-24.94 74.54A78.6 78.6 0 0 0 -18.43 76.41Z" fill="#f6a67a"/>
<path d="M-27.06 80.89A85.3 85.3 0 0 1 -33.92 78.26L-31.26 72.12A78.6 78.6 0 0 0 -24.94 74.54Z" fill="#f6a67a"/>
<path d="M-33.92 78.26A85.3 85.3 0 0 1 -40.53 75.05L-37.35 69.16A78.6 78.6 0 0 0 -31.26 72.12Z" fill="#f6a67a"/>
<path d="M-40.53 75.05A85.3 85.3 0 0 1 -46.84 71.29L-43.16 65.69A78.6 78.6 0 0 0 -37.35 69.16Z" fill="#f2e6ac"/>
<path d="M-46.84 71.29A85.3 85.3 0 0 1 -52.8 66.99L-48.66 61.73A78.6 78.6 0 0 0 -43.16 65.69Z" fill="#f2e6ac"/>
<path d="M-52.8 66.99A85.3 85.3 0 0 1 -58.37 62.2L-53.79 57.31A78.6 78.6 0 0 0 -48.66 61.73Z" fill="#f2e6ac"/>
<path d="M-58.37 62.2A85.3 85.3 0 0 1 -63.51 56.94L-58.52 52.47A78.6 78.6 0 0 0 -53.79 57.31Z" fill="#f2e6ac"/>
<path d="M-63.51 56.94A85.3 85.3 0 0 1 -68.17 51.27L-62.82 47.24A78.6 78.6 0 0 0 -58.52 52.47Z" fill="#f2e6ac"/>
<path d="M-68.17 51.27A85.3 85.3 0 0 1 -72.33 45.21L-66.65 41.66A78.6 78.6 0 0 0 -62.82 47.24Z" fill="#f2e6ac"/>
<path d="M-72.33 45.21A85.3 85.3 0 0 1 -75.96 38.82L-69.99 35.77A78.6 78.6 0 0 0 -66.65 41.66Z" fill="#f2e6ac"/>
<path d="M-75.96 38.82A85.3 85.3 0 0 1 -79.01 32.14L-72.81 29.61A78.6 78.6 0 0 0 -69.99 35.77Z" fill="#f2e6ac"/>
<path d="M-79.01 32.14A85.3 85.3 0 0 1 -81.49 25.22L-75.09 23.24A78.6 78.6 0 0 0 -72.81 29.61Z" fill="#f2e6ac"/>
<path d="M-81.49 25.22A85.3 85.3 0 0 1 -83.36 18.11L-76.81 16.69A78.6 78.6 0 0 0 -75.09 23.24Z" fill="#f6a67a"/>
<path d="M-83.36 18.11A85.3 85.3 0 0 1 -84.6 10.87L-77.96 10.02A78.6 78.6 0 0 0 -76.81 16.69Z" fill="#f6a67a"/>
<path d="M-84.6 10.87A85.3 85.3 0 0 1 -85.23 3.55L-78.53 3.27A78.6 78.6 0 0 0 -77.96 10.02Z" fill="#f6a67a"/>
<path d="M-85.23 3.55A85.3 85.3 0 0 1 -85.22 -3.8L-78.52 -3.5A78.6 78.6 0 0 0 -78.53 3.27Z" fill="#f6a67a"/>
<path d="M-85.22 -3.8A85.3 85.3 0 0 1 -84.57 -11.12L-77.93 -10.25A78.6 78.6 0 0 0 -78.52 -3.5Z" fill="#f6a67a"/>
<path d="M-84.57 -11.12A85.3 85.3 0 0 1 -83.3 -18.36L-76.76 -16.91A78.6 78.6 0 0 0 -77.93 -10.25Z" fill="#f6a67a"/>
<path d="M-83.3 -18.36A85.3 85.3 0 0 1 -81.41 -25.46L-75.02 -23.46A78.6 78.6 0 0 0 -76.76 -16.91Z" fill="#f6a67a"/>
<path d="M-81.41 -25.46A85.3 85.3 0 0 1 -78.92 -32.37L-72.72 -29.83A78.6 78.6 0 0 0 -75.02 -23.46Z" fill="#f6a67a"/>
<path d="M-78.92 -32.37A85.3 85.3 0 0 1 -75.84 -39.04L-69.88 -35.97A78.6 78.6 0 0 0 -72.72 -29.83Z" fill="#f6a67a"/>
<path d="M-75.84 -39.04A85.3 85.3 0 0 1 -72.2 -45.42L-66.53 -41.86A78.6 78.6 0 0 0 -69.88 -35.97Z" fill="#f6a67a"/>
<path d="M-72.2 -45.42A85.3 85.3 0 0 1 -68.02 -51.47L-62.68 -47.43A78.6 78.6 0 0 0 -66.53 -41.86Z" fill="#f6a67a"/>
<path d="M-68.02 -51.47A85.3 85.3 0 0 1 -63.34 -57.13L-58.37 -52.64A78.6 78.6 0 0 0 -62.68 -47.43Z" fill="#f24e38"/>
<path d="M-63.34 -57.13A85.3 85.3 0 0 1 -58.19 -62.37L-53.62 -57.47A78.6 78.6 0 0 0 -58.37 -52.64Z" fill="#f6a67a"/>
<path d="M-58.19 -62.37A85.3 85.3 0 0 1 -52.61 -67.15L-48.47 -61.87A78.6 78.6 0 0 0 -53.62 -57.47Z" fill="#f6a67a"/>
<path d="M-52.61 -67.15A85.3 85.3 0 0 1 -46.63 -71.42L-42.97 -65.81A78.6 78.6 0 0 0 -48.47 -61.87Z" fill="#f6a67a"/>
<path d="M46.89 -79.16A92 92 0 0 1 53.53 -74.83L49.63 -69.38A85.3 85.3 0 0 0 43.47 -73.39Z" fill="#829ebe"/>
<path d="M53.53 -74.83A92 92 0 0 1 59.77 -69.94L55.41 -64.85A85.3 85.3 0 0 0 49.63 -69.38Z" fill="#829ebe"/>
<path d="M59.77 -69.94A92 92 0 0 1 65.56 -64.54L60.79 -59.84A85.3 85.3 0 0 0 55.41 -64.85Z" fill="#829ebe"/>
<path d="M65.56 -64.54A92 92 0 0 1 70.87 -58.66L65.71 -54.39A85.3 85.3 0 0 0 60.79 -59.84Z" fill="#829ebe"/>
<path d="M70.87 -58.66A92 92 0 0 1 75.66 -52.34L70.15 -48.53A85.3 85.3 0 0 0 65.71 -54.39Z" fill="#829ebe"/>
<path d="M75.66 -52.34A92 92 0 0 1 79.88 -45.64L74.07 -42.31A85.3 85.3 0 0 0 70.15 -48.53Z" fill="#829ebe"/>
<path d="M79.88 -45.64A92 92 0 0 1 83.51 -38.59L77.43 -35.78A85.3 85.3 0 0 0 74.07 -42.31Z" fill="#829ebe"/>
<path d="M83.51 -38.59A92 92 0 0 1 86.53 -31.26L80.22 -28.98A85.3 85.3 0 0 0 77.43 -35.78Z" fill="#829ebe"/>
<path d="M86.53 -31.26A92 92 0 0 1 88.9 -23.7L82.42 -21.97A85.3 85.3 0 0 0 80.22 -28.98Z" fill="#829ebe"/>
<path d="M88.9 -23.7A92 92 0 0 1 90.61 -15.96L84.01 -14.8A85.3 85.3 0 0 0 82.42 -21.97Z" fill="#829ebe"/>
<path d="M90.61 -15.96A92 92 0 0 1 91.64 -8.1L84.97 -7.51A85.3 85.3 0 0 0 84.01 -14.8Z" fill="#c4ccb2"/>
<path d="M91.64 -8.1A92 92 0 0 1 92 -0.19L85.3 -0.17A85.3 85.3 0 0 0 84.97 -7.51Z" fill="#c4ccb2"/>
<path d="M92 -0.19A92 92 0 0 1 91.67 7.73L85 7.17A85.3 85.3 0 0 0 85.3 -0.17Z" fill="#829ebe"/>
<path d="M91.67 7.73A92 92 0 0 1 90.67 15.59L84.07 14.46A85.3 85.3 0 0 0 85 7.17Z" fill="#829ebe"/>
<path d="M90.67 15.59A92 92 0 0 1 88.99 23.34L82.51 21.64A85.3 85.3 0 0 0 84.07 14.46Z" fill="#829ebe"/>
<path d="M88.99 23.34A92 92 0 0 1 86.65 30.91L80.34 28.66A85.3 85.3 0 0 0 82.51 21.64Z" fill="#829ebe"/>
<path d="M86.65 30.91A92 92 0 0 1 83.67 38.25L77.58 35.47A85.3 85.3 0 0 0 80.34 28.66Z" fill="#c4ccb2"/>
<path d="M83.67 38.25A92 92 0 0 1 80.07 45.31L74.24 42.01A85.3 85.3 0 0 0 77.58 35.47Z" fill="#829ebe"/>
<path d="M80.07 45.31A92 92 0 0 1 75.87 52.03L70.35 48.24A85.3 85.3 0 0 0 74.24 42.01Z" fill="#829ebe"/>
<path d="M75.87 52.03A92 92 0 0 1 71.11 58.37L65.93 54.12A85.3 85.3 0 0 0 70.35 48.24Z" fill="#829ebe"/>
<path d="M71.11 58.37A92 92 0 0 1 65.82 64.27L61.03 59.59A85.3 85.3 0 0 0 65.93 54.12Z" fill="#829ebe"/>
<path d="M65.82 64.27A92 92 0 0 1 60.05 69.7L55.68 64.62A85.3 85.3 0 0 0 61.03 59.59Z" fill="#c4ccb2"/>
<path d="M60.05 69.7A92 92 0 0 1 53.83 74.61L49.91 69.18A85.3 85.3 0 0 0 55.68 64.62Z" fill="#829ebe"/>
<path d="M53.83 74.61A92 92 0 0 1 47.21 78.97L43.77 73.21A85.3 85.3 0 0 0 49.91 69.18Z" fill="#829ebe"/>
<path d="M47.21 78.97A92 92 0 0 1 40.24 82.73L37.31 76.71A85.3 85.3 0 0 0 43.77 73.21Z" fill="#829ebe"/>
<path d="M40.24 82.73A92 92 0 0 1 32.97 85.89L30.57 79.64A85.3 85.3 0 0 0 37.31 76.71Z" fill="#829ebe"/>
<path d="M32.97 85.89A92 92 0 0 1 25.45 88.41L23.6 81.97A85.3 85.3 0 0 0 30.57 79.64Z" fill="#c4ccb2"/>
<path d="M25.45 88.41A92 92 0 0 1 17.75 90.27L16.46 83.7A85.3 85.3 0 0 0 23.6 81.97Z" fill="#829ebe"/>
<path d="M17.75 90.27A92 92 0 0 1 9.92 91.46L9.19 84.8A85.3 85.3 0 0 0 16.46 83.7Z" fill="#829ebe"/>
<path d="M9.92 91.46A92 92 0 0 1 2.01 91.98L1.86 85.28A85.3 85.3 0 0 0 9.19 84.8Z" fill="#829ebe"/>
<path d="M2.01 91.98A92 92 0 0 1 -5.92 91.81L-5.49 85.12A85.3 85.3 0 0 0 1.86 85.28Z" fill="#829ebe"/>
<path d="M-5.92 91.81A92 92 0 0 1 -13.8 90.96L-12.79 84.34A85.3 85.3 0 0 0 -5.49 85.12Z" fill="#c4ccb2"/>
<path d="M-13.8 90.96A92 92 0 0 1 -21.57 89.44L-20 82.92A85.3 85.3 0 0 0 -12.79 84.34Z" fill="#c4ccb2"/>
<path d="M-21.57 89.44A92 92 0 0 1 -29.19 87.25L-27.06 80.89A85.3 85.3 0 0 0 -20 82.92Z" fill="#829ebe"/>
<path d="M-29.19 87.25A92 92 0 0 1 -36.59 84.41L-33.92 78.26A85.3 85.3 0 0 0 -27.06 80.89Z" fill="#829ebe"/>
<path d="M-36.59 84.41A92 92 0 0 1 -43.72 80.95L-40.53 75.05A85.3 85.3 0 0 0 -33.92 78.26Z" fill="#829ebe"/>
<path d="M-43.72 80.95A92 92 0 0 1 -50.52 76.89L-46.84 71.29A85.3 85.3 0 0 0 -40.53 75.05Z" fill="#829ebe"/>
<path d="M-50.52 76.89A92 92 0 0 1 -56.95 72.25L-52.8 66.99A85.3 85.3 0 0 0 -46.84 71.29Z" fill="#829ebe"/>
<path d="M-56.95 72.25A92 92 0 0 1 -62.96 67.08L-58.37 62.2A85.3 85.3 0 0 0 -52.8 66.99Z" fill="#829ebe"/>
<path d="M-62.96 67.08A92 92 0 0 1 -68.5 61.42L-63.51 56.94A85.3 85.3 0 0 0 -58.37 62.2Z" fill="#829ebe"/>
<path d="M-68.5 61.42A92 92 0 0 1 -73.53 55.29L-68.17 51.27A85.3 85.3 0 0 0 -63.51 56.94Z" fill="#829ebe"/>
<path d="M-73.53 55.29A92 92 0 0 1 -78.02 48.76L-72.33 45.21A85.3 85.3 0 0 0 -68.17 51.27Z" fill="#829ebe"/>
<path d="M-78.02 48.76A92 92 0 0 1 -81.92 41.87L-75.96 38.82A85.3 85.3 0 0 0 -72.33 45.21Z" fill="#829ebe"/>
<path d="M-81.92 41.87A92 92 0 0 1 -85.22 34.66L-79.01 32.14A85.3 85.3 0 0 0 -75.96 38.82Z" fill="#829ebe"/>
<path d="M-85.22 34.66A92 92 0 0 1 -87.89 27.2L-81.49 25.22A85.3 85.3 0 0 0 -79.01 32.14Z" fill="#829ebe"/>
<path d="M-87.89 27.2A92 92 0 0 1 -89.9 19.53L-83.36 18.11A85.3 85.3 0 0 0 -81.49 25.22Z" fill="#829ebe"/>
<path d="M-89.9 19.53A92 92 0 0 1 -91.25 11.72L-84.6 10.87A85.3 85.3 0 0 0 -83.36 18.11Z" fill="#829ebe"/>
<path d="M-91.25 11.72A92 92 0 0 1 -91.92 3.83L-85.23 3.55A85.3 85.3 0 0 0 -84.6 10.87Z" fill="#829ebe"/>
<path d="M-91.92 3.83A92 92 0 0 1 -91.91 -4.1L-85.22 -3.8A85.3 85.3 0 0 0 -85.23 3.55Z" fill="#829ebe"/>
<path d="M-91.91 -4.1A92 92 0 0 1 -91.22 -11.99L-84.57 -11.12A85.3 85.3 0 0 0 -85.22 -3.8Z" fill="#829ebe"/>
<path d="M-91.22 -11.99A92 92 0 0 1 -89.84 -19.8L-83.3 -18.36A85.3 85.3 0 0 0 -84.57 -11.12Z" fill="#829ebe"/>
<path d="M-89.84 -19.8A92 92 0 0 1 -87.81 -27.46L-81.41 -25.46A85.3 85.3 0 0 0 -83.3 -18.36Z" fill="#829ebe"/>
<path d="M-87.81 -27.46A92 92 0 0 1 -85.12 -34.91L-78.92 -32.37A85.3 85.3 0 0 0 -81.41 -25.46Z" fill="#829ebe"/>
<path d="M-85.12 -34.91A92 92 0 0 1 -81.8 -42.11L-75.84 -39.04A85.3 85.3 0 0 0 -78.92 -32.37Z" fill="#829ebe"/>
<path d="M-81.8 -42.11A92 92 0 0 1 -77.87 -48.99L-72.2 -45.42A85.3 85.3 0 0 0 -75.84 -39.04Z" fill="#c4ccb2"/>
<path d="M-77.87 -48.99A92 92 0 0 1 -73.37 -55.51L-68.02 -51.47A85.3 85.3 0 0 0 -72.2 -45.42Z" fill="#829ebe"/>
<path d="M-73.37 -55.51A92 92 0 0 1 -68.32 -61.62L-63.34 -57.13A85.3 85.3 0 0 0 -68.02 -51.47Z" fill="#829ebe"/>
<path d="M-68.32 -61.62A92 92 0 0 1 -62.76 -67.27L-58.19 -62.37A85.3 85.3 0 0 0 -63.34 -57.13Z" fill="#829ebe"/>
<path d="M-62.76 -67.27A92 92 0 0 1 -56.74 -72.42L-52.61 -67.15A85.3 85.3 0 0 0 -58.19 -62.37Z" fill="#829ebe"/>
<path d="M-56.74 -72.42A92 92 0 0 1 -50.3 -77.04L-46.63 -71.42A85.3 85.3 0 0 0 -52.61 -67.15Z" fill="#829ebe"/>
<path d="M50.3 -84.92A98.7 98.7 0 0 1 57.42 -80.28L53.53 -74.83A92 92 0 0 0 46.89 -79.16Z" fill="#f2e6ac"/>
<path d="M57.42 -80.28A98.7 98.7 0 0 1 64.12 -75.04L59.77 -69.94A92 92 0 0 0 53.53 -74.83Z" fill="#1c56b8"/>
<path d="M64.12 -75.04A98.7 98.7 0 0 1 70.34 -69.24L65.56 -64.54A92 92 0 0 0 59.77 -69.94Z" fill="#4074be"/>
<path d="M70.34 -69.24A98.7 98.7 0 0 1 76.04 -62.93L70.87 -58.66A92 92 0 0 0 65.56 -64.54Z" fill="#1c56b8"/>
<path d="M76.04 -62.93A98.7 98.7 0 0 1 81.17 -56.15L75.66 -52.34A92 92 0 0 0 70.87 -58.66Z" fill="#1c56b8"/>
<path d="M81.17 -56.15A98.7 98.7 0 0 1 85.7 -48.96L79.88 -45.64A92 92 0 0 0 75.66 -52.34Z" fill="#1c56b8"/>
<path d="M85.7 -48.96A98.7 98.7 0 0 1 89.6 -41.4L83.51 -38.59A92 92 0 0 0 79.88 -45.64Z" fill="#4074be"/>
<path d="M89.6 -41.4A98.7 98.7 0 0 1 92.83 -33.54L86.53 -31.26A92 92 0 0 0 83.51 -38.59Z" fill="#4074be"/>
<path d="M92.83 -33.54A98.7 98.7 0 0 1 95.37 -25.42L88.9 -23.7A92 92 0 0 0 86.53 -31.26Z" fill="#1c56b8"/>
<path d="M95.37 -25.42A98.7 98.7 0 0 1 97.2 -17.12L90.61 -15.96A92 92 0 0 0 88.9 -23.7Z" fill="#1c56b8"/>
<path d="M97.2 -17.12A98.7 98.7 0 0 1 98.32 -8.69L91.64 -8.1A92 92 0 0 0 90.61 -15.96Z" fill="#4074be"/>
<path d="M98.32 -8.69A98.7 98.7 0 0 1 98.7 -0.2L92 -0.19A92 92 0 0 0 91.64 -8.1Z" fill="#4074be"/>
<path d="M98.7 -0.2A98.7 98.7 0 0 1 98.35 8.3L91.67 7.73A92 92 0 0 0 92 -0.19Z" fill="#829ebe"/>
<path d="M98.35 8.3A98.7 98.7 0 0 1 97.27 16.73L90.67 15.59A92 92 0 0 0 91.67 7.73Z" fill="#1c56b8"/>
<path d="M97.27 16.73A98.7 98.7 0 0 1 95.47 25.04L88.99 23.34A92 92 0 0 0 90.67 15.59Z" fill="#1c56b8"/>
<path d="M95.47 25.04A98.7 98.7 0 0 1 92.96 33.16L86.65 30.91A92 92 0 0 0 88.99 23.34Z" fill="#1c56b8"/>
<path d="M92.96 33.16A98.7 98.7 0 0 1 89.76 41.04L83.67 38.25A92 92 0 0 0 86.65 30.91Z" fill="#4074be"/>
<path d="M89.76 41.04A98.7 98.7 0 0 1 85.9 48.61L80.07 45.31A92 92 0 0 0 83.67 38.25Z" fill="#1c56b8"/>
<path d="M85.9 48.61A98.7 98.7 0 0 1 81.4 55.82L75.87 52.03A92 92 0 0 0 80.07 45.31Z" fill="#4074be"/>
<path d="M81.4 55.82A98.7 98.7 0 0 1 76.29 62.62L71.11 58.37A92 92 0 0 0 75.87 52.03Z" fill="#4074be"/>
<path d="M76.29 62.62A98.7 98.7 0 0 1 70.62 68.95L65.82 64.27A92 92 0 0 0 71.11 58.37Z" fill="#4074be"/>
<path d="M70.62 68.95A98.7 98.7 0 0 1 64.42 74.78L60.05 69.7A92 92 0 0 0 65.82 64.27Z" fill="#1c56b8"/>
<path d="M64.42 74.78A98.7 98.7 0 0 1 57.75 80.04L53.83 74.61A92 92 0 0 0 60.05 69.7Z" fill="#4074be"/>
<path d="M57.75 80.04A98.7 98.7 0 0 1 50.65 84.72L47.21 78.97A92 92 0 0 0 53.83 74.61Z" fill="#4074be"/>
<path d="M50.65 84.72A98.7 98.7 0 0 1 43.17 88.76L40.24 82.73A92 92 0 0 0 47.21 78.97Z" fill="#4074be"/>
<path d="M43.17 88.76A98.7 98.7 0 0 1 35.37 92.15L32.97 85.89A92 92 0 0 0 40.24 82.73Z" fill="#4074be"/>
<path d="M35.37 92.15A98.7 98.7 0 0 1 27.31 94.85L25.45 88.41A92 92 0 0 0 32.97 85.89Z" fill="#4074be"/>
<path d="M27.31 94.85A98.7 98.7 0 0 1 19.04 96.85L17.75 90.27A92 92 0 0 0 25.45 88.41Z" fill="#1c56b8"/>
<path d="M19.04 96.85A98.7 98.7 0 0 1 10.64 98.13L9.92 91.46A92 92 0 0 0 17.75 90.27Z" fill="#4074be"/>
<path d="M10.64 98.13A98.7 98.7 0 0 1 2.15 98.68L2.01 91.98A92 92 0 0 0 9.92 91.46Z" fill="#1c56b8"/>
<path d="M2.15 98.68A98.7 98.7 0 0 1 -6.35 98.5L-5.92 91.81A92 92 0 0 0 2.01 91.98Z" fill="#4074be"/>
<path d="M-6.35 98.5A98.7 98.7 0 0 1 -14.8 97.58L-13.8 90.96A92 92 0 0 0 -5.92 91.81Z" fill="#4074be"/>
<path d="M-14.8 97.58A98.7 98.7 0 0 1 -23.14 95.95L-21.57 89.44A92 92 0 0 0 -13.8 90.96Z" fill="#4074be"/>
<path d="M-23.14 95.95A98.7 98.7 0 0 1 -31.31 93.6L-29.19 87.25A92 92 0 0 0 -21.57 89.44Z" fill="#4074be"/>
<path d="M-31.31 93.6A98.7 98.7 0 0 1 -39.25 90.56L-36.59 84.41A92 92 0 0 0 -29.19 87.25Z" fill="#4074be"/>
<path d="M-39.25 90.56A98.7 98.7 0 0 1 -46.9 86.84L-43.72 80.95A92 92 0 0 0 -36.59 84.41Z" fill="#4074be"/>
<path d="M-46.9 86.84A98.7 98.7 0 0 1 -54.2 82.49L-50.52 76.89A92 92 0 0 0 -43.72 80.95Z" fill="#4074be"/>
<path d="M-54.2 82.49A98.7 98.7 0 0 1 -61.1 77.52L-56.95 72.25A92 92 0 0 0 -50.52 76.89Z" fill="#829ebe"/>
<path d="M-61.1 77.52A98.7 98.7 0 0 1 -67.54 71.97L-62.96 67.08A92 92 0 0 0 -56.95 72.25Z" fill="#829ebe"/>
<path d="M-67.54 71.97A98.7 98.7 0 0 1 -73.49 65.89L-68.5 61.42A92 92 0 0 0 -62.96 67.08Z" fill="#829ebe"/>
<path d="M-73.49 65.89A98.7 98.7 0 0 1 -78.88 59.32L-73.53 55.29A92 92 0 0 0 -68.5 61.42Z" fill="#f6a67a"/>
<path d="M-78.88 59.32A98.7 98.7 0 0 1 -83.7 52.31L-78.02 48.76A92 92 0 0 0 -73.53 55.29Z" fill="#f6a67a"/>
<path d="M-83.7 52.31A98.7 98.7 0 0 1 -87.89 44.91L-81.92 41.87A92 92 0 0 0 -78.02 48.76Z" fill="#f6a67a"/>
<path d="M-87.89 44.91A98.7 98.7 0 0 1 -91.43 37.18L-85.22 34.66A92 92 0 0 0 -81.92 41.87Z" fill="#f6a67a"/>
<path d="M-91.43 37.18A98.7 98.7 0 0 1 -94.29 29.18L-87.89 27.2A92 92 0 0 0 -85.22 34.66Z" fill="#f6a67a"/>
<path d="M-94.29 29.18A98.7 98.7 0 0 1 -96.45 20.96L-89.9 19.53A92 92 0 0 0 -87.89 27.2Z" fill="#f6a67a"/>
<path d="M-96.45 20.96A98.7 98.7 0 0 1 -97.9 12.58L-91.25 11.72A92 92 0 0 0 -89.9 19.53Z" fill="#f6a67a"/>
<path d="M-97.9 12.58A98.7 98.7 0 0 1 -98.61 4.11L-91.92 3.83A92 92 0 0 0 -91.25 11.72Z" fill="#1c56b8"/>
<path d="M-98.61 4.11A98.7 98.7 0 0 1 -98.6 -4.4L-91.91 -4.1A92 92 0 0 0 -91.92 3.83Z" fill="#1c56b8"/>
<path d="M-98.6 -4.4A98.7 98.7 0 0 1 -97.86 -12.87L-91.22 -11.99A92 92 0 0 0 -91.91 -4.1Z" fill="#4074be"/>
<path d="M-97.86 -12.87A98.7 98.7 0 0 1 -96.39 -21.24L-89.84 -19.8A92 92 0 0 0 -91.22 -11.99Z" fill="#829ebe"/>
<path d="M-96.39 -21.24A98.7 98.7 0 0 1 -94.2 -29.46L-87.81 -27.46A92 92 0 0 0 -89.84 -19.8Z" fill="#c4ccb2"/>
<path d="M-94.2 -29.46A98.7 98.7 0 0 1 -91.32 -37.45L-85.12 -34.91A92 92 0 0 0 -87.81 -27.46Z" fill="#f6a67a"/>
<path d="M-91.32 -37.45A98.7 98.7 0 0 1 -87.76 -45.17L-81.8 -42.11A92 92 0 0 0 -85.12 -34.91Z" fill="#f6a67a"/>
<path d="M-87.76 -45.17A98.7 98.7 0 0 1 -83.54 -52.56L-77.87 -48.99A92 92 0 0 0 -81.8 -42.11Z" fill="#f6a67a"/>
<path d="M-83.54 -52.56A98.7 98.7 0 0 1 -78.71 -59.55L-73.37 -55.51A92 92 0 0 0 -77.87 -48.99Z" fill="#f6a67a"/>
<path d="M-78.71 -59.55A98.7 98.7 0 0 1 -73.29 -66.11L-68.32 -61.62A92 92 0 0 0 -73.37 -55.51Z" fill="#f6a67a"/>
<path d="M-73.29 -66.11A98.7 98.7 0 0 1 -67.33 -72.17L-62.76 -67.27A92 92 0 0 0 -68.32 -61.62Z" fill="#f6a67a"/>
<path d="M-67.33 -72.17A98.7 98.7 0 0 1 -60.87 -77.69L-56.74 -72.42A92 92 0 0 0 -62.76 -67.27Z" fill="#f6a67a"/>
<path d="M-60.87 -77.69A98.7 98.7 0 0 1 -53.96 -82.65L-50.3 -77.04A92 92 0 0 0 -56.74 -72.42Z" fill="#f6a67a"/>
<path d="M53.72 -90.68A105.4 105.4 0 0 1 61.32 -85.73L57.42 -80.28A98.7 98.7 0 0 0 50.3 -84.92Z" fill="#4074be"/>
<path d="M61.32 -85.73A105.4 105.4 0 0 1 68.47 -80.13L64.12 -75.04A98.7 98.7 0 0 0 57.42 -80.28Z" fill="#4074be"/>
<path d="M68.47 -80.13A105.4 105.4 0 0 1 75.11 -73.94L70.34 -69.24A98.7 98.7 0 0 0 64.12 -75.04Z" fill="#4074be"/>
<path d="M75.11 -73.94A105.4 105.4 0 0 1 81.2 -67.2L76.04 -62.93A98.7 98.7 0 0 0 70.34 -69.24Z" fill="#4074be"/>
<path d="M81.2 -67.2A105.4 105.4 0 0 1 86.68 -59.96L81.17 -56.15A98.7 98.7 0 0 0 76.04 -62.93Z" fill="#4074be"/>
<path d="M86.68 -59.96A105.4 105.4 0 0 1 91.52 -52.28L85.7 -48.96A98.7 98.7 0 0 0 81.17 -56.15Z" fill="#4074be"/>
<path d="M91.52 -52.28A105.4 105.4 0 0 1 95.68 -44.21L89.6 -41.4A98.7 98.7 0 0 0 85.7 -48.96Z" fill="#4074be"/>
<path d="M95.68 -44.21A105.4 105.4 0 0 1 99.13 -35.81L92.83 -33.54A98.7 98.7 0 0 0 89.6 -41.4Z" fill="#4074be"/>
<path d="M99.13 -35.81A105.4 105.4 0 0 1 101.84 -27.15L95.37 -25.42A98.7 98.7 0 0 0 92.83 -33.54Z" fill="#4074be"/>
<path d="M101.84 -27.15A105.4 105.4 0 0 1 103.8 -18.28L97.2 -17.12A98.7 98.7 0 0 0 95.37 -25.42Z" fill="#4074be"/>
<path d="M103.8 -18.28A105.4 105.4 0 0 1 104.99 -9.28L98.32 -8.69A98.7 98.7 0 0 0 97.2 -17.12Z" fill="#4074be"/>
<path d="M104.99 -9.28A105.4 105.4 0 0 1 105.4 -0.21L98.7 -0.2A98.7 98.7 0 0 0 98.32 -8.69Z" fill="#4074be"/>
<path d="M105.4 -0.21A105.4 105.4 0 0 1 105.03 8.86L98.35 8.3A98.7 98.7 0 0 0 98.7 -0.2Z" fill="#c4ccb2"/>
<path d="M105.03 8.86A105.4 105.4 0 0 1 103.88 17.86L97.27 16.73A98.7 98.7 0 0 0 98.35 8.3Z" fill="#4074be"/>
<path d="M103.88 17.86A105.4 105.4 0 0 1 101.95 26.74L95.47 25.04A98.7 98.7 0 0 0 97.27 16.73Z" fill="#4074be"/>
<path d="M101.95 26.74A105.4 105.4 0 0 1 99.27 35.41L92.96 33.16A98.7 98.7 0 0 0 95.47 25.04Z" fill="#829ebe"/>
<path d="M99.27 35.41A105.4 105.4 0 0 1 95.86 43.82L89.76 41.04A98.7 98.7 0 0 0 92.96 33.16Z" fill="#4074be"/>
<path d="M95.86 43.82A105.4 105.4 0 0 1 91.73 51.91L85.9 48.61A98.7 98.7 0 0 0 89.76 41.04Z" fill="#4074be"/>
<path d="M91.73 51.91A105.4 105.4 0 0 1 86.92 59.61L81.4 55.82A98.7 98.7 0 0 0 85.9 48.61Z" fill="#4074be"/>
<path d="M86.92 59.61A105.4 105.4 0 0 1 81.47 66.87L76.29 62.62A98.7 98.7 0 0 0 81.4 55.82Z" fill="#4074be"/>
<path d="M81.47 66.87A105.4 105.4 0 0 1 75.41 73.64L70.62 68.95A98.7 98.7 0 0 0 76.29 62.62Z" fill="#4074be"/>
<path d="M75.41 73.64A105.4 105.4 0 0 1 68.8 79.85L64.42 74.78A98.7 98.7 0 0 0 70.62 68.95Z" fill="#4074be"/>
<path d="M68.8 79.85A105.4 105.4 0 0 1 61.67 85.48L57.75 80.04A98.7 98.7 0 0 0 64.42 74.78Z" fill="#4074be"/>
<path d="M61.67 85.48A105.4 105.4 0 0 1 54.08 90.47L50.65 84.72A98.7 98.7 0 0 0 57.75 80.04Z" fill="#4074be"/>
<path d="M54.08 90.47A105.4 105.4 0 0 1 46.1 94.79L43.17 88.76A98.7 98.7 0 0 0 50.65 84.72Z" fill="#4074be"/>
<path d="M46.1 94.79A105.4 105.4 0 0 1 37.77 98.4L35.37 92.15A98.7 98.7 0 0 0 43.17 88.76Z" fill="#4074be"/>
<path d="M37.77 98.4A105.4 105.4 0 0 1 29.16 101.29L27.31 94.85A98.7 98.7 0 0 0 35.37 92.15Z" fill="#4074be"/>
<path d="M29.16 101.29A105.4 105.4 0 0 1 20.34 103.42L19.04 96.85A98.7 98.7 0 0 0 27.31 94.85Z" fill="#829ebe"/>
<path d="M20.34 103.42A105.4 105.4 0 0 1 11.36 104.79L10.64 98.13A98.7 98.7 0 0 0 19.04 96.85Z" fill="#4074be"/>
<path d="M11.36 104.79A105.4 105.4 0 0 1 2.3 105.37L2.15 98.68A98.7 98.7 0 0 0 10.64 98.13Z" fill="#4074be"/>
<path d="M2.3 105.37A105.4 105.4 0 0 1 -6.78 105.18L-6.35 98.5A98.7 98.7 0 0 0 2.15 98.68Z" fill="#829ebe"/>
<path d="M-6.78 105.18A105.4 105.4 0 0 1 -15.8 104.21L-14.8 97.58A98.7 98.7 0 0 0 -6.35 98.5Z" fill="#829ebe"/>
<path d="M-15.8 104.21A105.4 105.4 0 0 1 -24.71 102.46L-23.14 95.95A98.7 98.7 0 0 0 -14.8 97.58Z" fill="#4074be"/>
<path d="M-24.71 102.46A105.4 105.4 0 0 1 -33.44 99.95L-31.31 93.6A98.7 98.7 0 0 0 -23.14 95.95Z" fill="#829ebe"/>
<path d="M-33.44 99.95A105.4 105.4 0 0 1 -41.92 96.71L-39.25 90.56A98.7 98.7 0 0 0 -31.31 93.6Z" fill="#829ebe"/>
<path d="M-41.92 96.71A105.4 105.4 0 0 1 -50.09 92.74L-46.9 86.84A98.7 98.7 0 0 0 -39.25 90.56Z" fill="#4074be"/>
<path d="M-50.09 92.74A105.4 105.4 0 0 1 -57.88 88.09L-54.2 82.49A98.7 98.7 0 0 0 -46.9 86.84Z" fill="#1c56b8"/>
<path d="M-57.88 88.09A105.4 105.4 0 0 1 -65.25 82.78L-61.1 77.52A98.7 98.7 0 0 0 -54.2 82.49Z" fill="#4074be"/>
<path d="M-65.25 82.78A105.4 105.4 0 0 1 -72.13 76.85L-67.54 71.97A98.7 98.7 0 0 0 -61.1 77.52Z" fill="#4074be"/>
<path d="M-72.13 76.85A105.4 105.4 0 0 1 -78.48 70.36L-73.49 65.89A98.7 98.7 0 0 0 -67.54 71.97Z" fill="#4074be"/>
<path d="M-78.48 70.36A105.4 105.4 0 0 1 -84.24 63.35L-78.88 59.32A98.7 98.7 0 0 0 -73.49 65.89Z" fill="#4074be"/>
<path d="M-84.24 63.35A105.4 105.4 0 0 1 -89.38 55.86L-83.7 52.31A98.7 98.7 0 0 0 -78.88 59.32Z" fill="#4074be"/>
<path d="M-89.38 55.86A105.4 105.4 0 0 1 -93.85 47.96L-87.89 44.91A98.7 98.7 0 0 0 -83.7 52.31Z" fill="#4074be"/>
<path d="M-93.85 47.96A105.4 105.4 0 0 1 -97.63 39.71L-91.43 37.18A98.7 98.7 0 0 0 -87.89 44.91Z" fill="#4074be"/>
<path d="M-97.63 39.71A105.4 105.4 0 0 1 -100.69 31.16L-94.29 29.18A98.7 98.7 0 0 0 -91.43 37.18Z" fill="#4074be"/>
<path d="M-100.69 31.16A105.4 105.4 0 0 1 -103 22.38L-96.45 20.96A98.7 98.7 0 0 0 -94.29 29.18Z" fill="#4074be"/>
<path d="M-103 22.38A105.4 105.4 0 0 1 -104.54 13.43L-97.9 12.58A98.7 98.7 0 0 0 -96.45 20.96Z" fill="#4074be"/>
<path d="M-104.54 13.43A105.4 105.4 0 0 1 -105.31 4.38L-98.61 4.11A98.7 98.7 0 0 0 -97.9 12.58Z" fill="#4074be"/>
<path d="M-105.31 4.38A105.4 105.4 0 0 1 -105.3 -4.69L-98.6 -4.4A98.7 98.7 0 0 0 -98.61 4.11Z" fill="#4074be"/>
<path d="M-105.3 -4.69A105.4 105.4 0 0 1 -104.5 -13.74L-97.86 -12.87A98.7 98.7 0 0 0 -98.6 -4.4Z" fill="#4074be"/>
<path d="M-104.5 -13.74A105.4 105.4 0 0 1 -102.93 -22.68L-96.39 -21.24A98.7 98.7 0 0 0 -97.86 -12.87Z" fill="#4074be"/>
<path d="M-102.93 -22.68A105.4 105.4 0 0 1 -100.6 -31.46L-94.2 -29.46A98.7 98.7 0 0 0 -96.39 -21.24Z" fill="#829ebe"/>
<path d="M-100.6 -31.46A105.4 105.4 0 0 1 -97.52 -40L-91.32 -37.45A98.7 98.7 0 0 0 -94.2 -29.46Z" fill="#4074be"/>
<path d="M-97.52 -40A105.4 105.4 0 0 1 -93.71 -48.24L-87.76 -45.17A98.7 98.7 0 0 0 -91.32 -37.45Z" fill="#4074be"/>
<path d="M-93.71 -48.24A105.4 105.4 0 0 1 -89.21 -56.13L-83.54 -52.56A98.7 98.7 0 0 0 -87.76 -45.17Z" fill="#4074be"/>
<path d="M-89.21 -56.13A105.4 105.4 0 0 1 -84.05 -63.6L-78.71 -59.55A98.7 98.7 0 0 0 -83.54 -52.56Z" fill="#4074be"/>
<path d="M-84.05 -63.6A105.4 105.4 0 0 1 -78.27 -70.59L-73.29 -66.11A98.7 98.7 0 0 0 -78.71 -59.55Z" fill="#4074be"/>
<path d="M-78.27 -70.59A105.4 105.4 0 0 1 -71.9 -77.07L-67.33 -72.17A98.7 98.7 0 0 0 -73.29 -66.11Z" fill="#4074be"/>
<path d="M-71.9 -77.07A105.4 105.4 0 0 1 -65 -82.97L-60.87 -77.69A98.7 98.7 0 0 0 -67.33 -72.17Z" fill="#4074be"/>
<path d="M-65 -82.97A105.4 105.4 0 0 1 -57.62 -88.26L-53.96 -82.65A98.7 98.7 0 0 0 -60.87 -77.69Z" fill="#4074be"/>
</g>
<path d="M5.76 -9.72A11.3 11.3 0 1 1 -6.18 -9.46L-2.68 -4.1A4.9 4.9 0 1 0 2.5 -4.22Z" fill="url(#r1g)"/>
<path d="M9.17 -15.49A18 18 0 1 1 -9.84 -15.07L-6.51 -9.96A11.9 11.9 0 1 0 6.06 -10.24Z" fill="#7fa2d6"/>
<g stroke="#fff" stroke-width="0.25" stroke-opacity="0.7">
<line x1="6.06" y1="-10.24" x2="9.17" y2="-15.49"/>
<line x1="6.92" y1="-9.68" x2="10.47" y2="-14.64"/>
<line x1="7.73" y1="-9.05" x2="11.69" y2="-13.68"/>
<line x1="8.48" y1="-8.35" x2="12.83" y2="-12.63"/>
<line x1="9.17" y1="-7.59" x2="13.87" y2="-11.48"/>
<line x1="9.79" y1="-6.77" x2="14.8" y2="-10.24"/>
<line x1="10.33" y1="-5.9" x2="15.63" y2="-8.93"/>
<line x1="10.8" y1="-4.99" x2="16.34" y2="-7.55"/>
<line x1="11.19" y1="-4.04" x2="16.93" y2="-6.12"/>
<line x1="11.5" y1="-3.07" x2="17.39" y2="-4.64"/>
<line x1="11.72" y1="-2.06" x2="17.73" y2="-3.12"/>
<line x1="11.85" y1="-1.05" x2="17.93" y2="-1.59"/>
<line x1="11.9" y1="-0.02" x2="18" y2="-0.04"/>
<line x1="11.86" y1="1" x2="17.94" y2="1.51"/>
<line x1="11.73" y1="2.02" x2="17.74" y2="3.05"/>
<line x1="11.51" y1="3.02" x2="17.41" y2="4.57"/>
<line x1="11.21" y1="4" x2="16.95" y2="6.05"/>
<line x1="10.82" y1="4.95" x2="16.37" y2="7.48"/>
<line x1="10.36" y1="5.86" x2="15.67" y2="8.87"/>
<line x1="9.81" y1="6.73" x2="14.84" y2="10.18"/>
<line x1="9.2" y1="7.55" x2="13.91" y2="11.42"/>
<line x1="8.51" y1="8.31" x2="12.88" y2="12.58"/>
<line x1="7.77" y1="9.02" x2="11.75" y2="13.64"/>
<line x1="6.96" y1="9.65" x2="10.53" y2="14.6"/>
<line x1="6.11" y1="10.21" x2="9.24" y2="15.45"/>
<line x1="5.2" y1="10.7" x2="7.87" y2="16.19"/>
<line x1="4.26" y1="11.11" x2="6.45" y2="16.8"/>
<line x1="3.29" y1="11.44" x2="4.98" y2="17.3"/>
<line x1="2.3" y1="11.68" x2="3.47" y2="17.66"/>
<line x1="1.28" y1="11.83" x2="1.94" y2="17.9"/>
<line x1="0.26" y1="11.9" x2="0.39" y2="18"/>
<line x1="-0.77" y1="11.88" x2="-1.16" y2="17.96"/>
<line x1="-1.78" y1="11.77" x2="-2.7" y2="17.8"/>
<line x1="-2.79" y1="11.57" x2="-4.22" y2="17.5"/>
<line x1="-3.78" y1="11.29" x2="-5.71" y2="17.07"/>
<line x1="-4.73" y1="10.92" x2="-7.16" y2="16.52"/>
<line x1="-5.65" y1="10.47" x2="-8.55" y2="15.84"/>
<line x1="-6.53" y1="9.95" x2="-9.88" y2="15.04"/>
<line x1="-7.37" y1="9.35" x2="-11.14" y2="14.14"/>
<line x1="-8.14" y1="8.68" x2="-12.32" y2="13.13"/>
<line x1="-8.86" y1="7.94" x2="-13.4" y2="12.02"/>
<line x1="-9.51" y1="7.15" x2="-14.39" y2="10.82"/>
<line x1="-10.09" y1="6.31" x2="-15.26" y2="9.54"/>
<line x1="-10.6" y1="5.42" x2="-16.03" y2="8.19"/>
<line x1="-11.02" y1="4.48" x2="-16.67" y2="6.78"/>
<line x1="-11.37" y1="3.52" x2="-17.2" y2="5.32"/>
<line x1="-11.63" y1="2.53" x2="-17.59" y2="3.82"/>
<line x1="-11.8" y1="1.52" x2="-17.85" y2="2.29"/>
<line x1="-11.89" y1="0.5" x2="-17.98" y2="0.75"/>
<line x1="-11.89" y1="-0.53" x2="-17.98" y2="-0.8"/>
<line x1="-11.8" y1="-1.55" x2="-17.85" y2="-2.35"/>
<line x1="-11.62" y1="-2.56" x2="-17.58" y2="-3.87"/>
<line x1="-11.36" y1="-3.55" x2="-17.18" y2="-5.37"/>
<line x1="-11.01" y1="-4.52" x2="-16.65" y2="-6.83"/>
<line x1="-10.58" y1="-5.45" x2="-16" y2="-8.24"/>
<line x1="-10.07" y1="-6.34" x2="-15.24" y2="-9.59"/>
<line x1="-9.49" y1="-7.18" x2="-14.35" y2="-10.86"/>
<line x1="-8.84" y1="-7.97" x2="-13.37" y2="-12.06"/>
<line x1="-8.12" y1="-8.7" x2="-12.28" y2="-13.16"/>
<line x1="-7.34" y1="-9.37" x2="-11.1" y2="-14.17"/>
<line x1="-6.51" y1="-9.96" x2="-9.84" y2="-15.07"/>
</g>
<g class="tl">
<text x="59.37" y="-91.05" transform="rotate(-56.89 59.37 -91.05)" text-anchor="start">Germinating Seed 24h.</text>
<text x="66.99" y="-85.6" transform="rotate(-51.95 66.99 -85.6)" text-anchor="start">Coleoptile 6DAS GH.</text>
<text x="74.11" y="-79.52" transform="rotate(-47.02 74.11 -79.52)" text-anchor="start">Coleoptile 6DAS Primary Root.</text>
<text x="80.68" y="-72.85" transform="rotate(-42.08 80.68 -72.85)" text-anchor="start">Stem and SAM (V1).</text>
<text x="86.65" y="-65.63" transform="rotate(-37.14 86.65 -65.63)" text-anchor="start">Stem and SAM (V3).</text>
<text x="91.97" y="-57.93" transform="rotate(-32.21 91.97 -57.93)" text-anchor="start">Stem and SAM (V4).</text>
<text x="96.62" y="-49.8" transform="rotate(-27.27 96.62 -49.8)" text-anchor="start">Shoot tip (V5).</text>
<text x="100.55" y="-41.3" transform="rotate(-22.33 100.55 -41.3)" text-anchor="start">First Internode (V5).</text>
<text x="103.73" y="-32.5" transform="rotate(-17.4 103.73 -32.5)" text-anchor="start">First Internode (V7).</text>
<text x="106.14" y="-23.45" transform="rotate(-12.46 106.14 -23.45)" text-anchor="start">Fourth Internode (V9).</text>
<text x="107.76" y="-14.23" transform="rotate(-7.52 107.76 -14.23)" text-anchor="start">Immature Tassel (V13).</text>
<text x="108.59" y="-4.9" transform="rotate(-2.58 108.59 -4.9)" text-anchor="start">Meiotic Tassel (V18).</text>
<text x="108.61" y="4.46" transform="rotate(2.35 108.61 4.46)" text-anchor="start">Anthers (R1).</text>
<text x="107.82" y="13.79" transform="rotate(7.29 107.82 13.79)" text-anchor="start">Whole Seedling (VE).</text>
<text x="106.23" y="23.02" transform="rotate(12.23 106.23 23.02)" text-anchor="start">Primary Root (VE).</text>
<text x="103.86" y="32.08" transform="rotate(17.16 103.86 32.08)" text-anchor="start">Pooled Leaves (V1).</text>
<text x="100.71" y="40.9" transform="rotate(22.1 100.71 40.9)" text-anchor="start">Primary Root (V1).</text>
<text x="96.82" y="49.41" transform="rotate(27.04 96.82 49.41)" text-anchor="start">Topmost Leaf (V1).</text>
<text x="92.21" y="57.56" transform="rotate(31.97 92.21 57.56)" text-anchor="start">First Leaf (V3).</text>
<text x="86.91" y="65.28" transform="rotate(36.91 86.91 65.28)" text-anchor="start">Tip of Stage 2 leaf (V5).</text>
<text x="80.97" y="72.52" transform="rotate(41.85 80.97 72.52)" text-anchor="start">Base of Stage 2 leaf (V5).</text>
<text x="74.43" y="79.22" transform="rotate(46.79 74.43 79.22)" text-anchor="start">Tip of Stage 2 leaf (V7).</text>
<text x="67.34" y="85.33" transform="rotate(51.72 67.34 85.33)" text-anchor="start">Base of Stage 2 leaf (V7).</text>
<text x="59.74" y="90.81" transform="rotate(56.66 59.74 90.81)" text-anchor="start">Eighth Leaf (V9).</text>
<text x="51.71" y="95.61" transform="rotate(61.6 51.71 95.61)" text-anchor="start">Eleventh Leaf (V9).</text>
<text x="43.29" y="99.71" transform="rotate(66.53 43.29 99.71)" text-anchor="start">Thirteenth Leaf (V9).</text>
<text x="34.54" y="103.07" transform="rotate(71.47 34.54 103.07)" text-anchor="start">Immature Leaf (V9).</text>
<text x="25.55" y="105.66" transform="rotate(76.41 25.55 105.66)" text-anchor="start">Thirteenth Leaf (VT).</text>
<text x="16.36" y="107.46" transform="rotate(81.34 16.36 107.46)" text-anchor="start">Immature Cob (V18).</text>
<text x="7.05" y="108.47" transform="rotate(86.28 7.05 108.47)" text-anchor="start">Pre-pollination Cob (R1).</text>
<text x="-2.31" y="108.68" transform="rotate(-88.78 -2.31 108.68)" text-anchor="end">Silks (R1).</text>
<text x="-11.66" y="108.07" transform="rotate(-83.84 -11.66 108.07)" text-anchor="end">Thirteenth Leaf (R2).</text>
<text x="-20.91" y="106.67" transform="rotate(-78.91 -20.91 106.67)" text-anchor="end">Innermost Husk (R1).</text>
<text x="-30.02" y="104.47" transform="rotate(-73.97 -30.02 104.47)" text-anchor="end">Innermost Husk (R2).</text>
<text x="-38.9" y="101.5" transform="rotate(-69.03 -38.9 101.5)" text-anchor="end">Outer Husk (R2).</text>
<text x="-47.49" y="97.78" transform="rotate(-64.1 -47.49 97.78)" text-anchor="end">Embryo 16DAP.</text>
<text x="-55.73" y="93.33" transform="rotate(-59.16 -55.73 93.33)" text-anchor="end">Embryo 18DAP.</text>
<text x="-63.55" y="88.19" transform="rotate(-54.22 -63.55 88.19)" text-anchor="end">Embryo 20DAP.</text>
<text x="-70.9" y="82.39" transform="rotate(-49.29 -70.9 82.39)" text-anchor="end">Embryo 22DAP.</text>
<text x="-77.73" y="75.98" transform="rotate(-44.35 -77.73 75.98)" text-anchor="end">Embryo 24DAP.</text>
<text x="-83.98" y="69.01" transform="rotate(-39.41 -83.98 69.01)" text-anchor="end">Endosperm 12DAP.</text>
<text x="-89.61" y="61.53" transform="rotate(-34.47 -89.61 61.53)" text-anchor="end">Endosperm 14DAP.</text>
<text x="-94.57" y="53.59" transform="rotate(-29.54 -94.57 53.59)" text-anchor="end">Endosperm 16DAP.</text>
<text x="-98.83" y="45.25" transform="rotate(-24.6 -98.83 45.25)" text-anchor="end">Endosperm 18DAP.</text>
<text x="-102.36" y="36.58" transform="rotate(-19.66 -102.36 36.58)" text-anchor="end">Endosperm 20DAP.</text>
<text x="-105.13" y="27.63" transform="rotate(-14.73 -105.13 27.63)" text-anchor="end">Endosperm 22DAP.</text>
<text x="-107.12" y="18.48" transform="rotate(-9.79 -107.12 18.48)" text-anchor="end">Endosperm 24DAP.</text>
<text x="-108.31" y="9.2" transform="rotate(-4.85 -108.31 9.2)" text-anchor="end">Seed 2DAP.</text>
<text x="-108.7" y="-0.16" transform="rotate(0.08 -108.7 -0.16)" text-anchor="end">Seed 4DAP.</text>
<text x="-108.28" y="-9.51" transform="rotate(5.02 -108.28 -9.51)" text-anchor="end">Seed 6DAP.</text>
<text x="-107.06" y="-18.8" transform="rotate(9.96 -107.06 -18.8)" text-anchor="end">Seed 8DAP.</text>
<text x="-105.05" y="-27.94" transform="rotate(14.9 -105.05 -27.94)" text-anchor="end">Seed 10DAP.</text>
<text x="-102.25" y="-36.88" transform="rotate(19.83 -102.25 -36.88)" text-anchor="end">Seed 12DAP.</text>
<text x="-98.7" y="-45.54" transform="rotate(24.77 -98.7 -45.54)" text-anchor="end">Seed 14DAP.</text>
<text x="-94.41" y="-53.87" transform="rotate(29.71 -94.41 -53.87)" text-anchor="end">Seed 16DAP.</text>
<text x="-89.43" y="-61.79" transform="rotate(34.64 -89.43 -61.79)" text-anchor="end">Seed 18DAP.</text>
<text x="-83.78" y="-69.26" transform="rotate(39.58 -83.78 -69.26)" text-anchor="end">Pericarp 18DAP.</text>
<text x="-77.51" y="-76.21" transform="rotate(44.52 -77.51 -76.21)" text-anchor="end">Seed 20DAP.</text>
<text x="-70.66" y="-82.6" transform="rotate(49.45 -70.66 -82.6)" text-anchor="end">Seed 22DAP.</text>
<text x="-63.29" y="-88.37" transform="rotate(54.39 -63.29 -88.37)" text-anchor="end">Seed 24DAP.</text>
</g>
<g class="gl">
<text transform="translate(-3.91 -8.01) rotate(-27.5) scale(0.71 1)">ZmRBOH1</text>
<text transform="translate(-7.57 -13.62) rotate(-27.5) scale(0.71 1)">ZmRBOH2</text>
<text transform="translate(-11.24 -19.23) rotate(-27.5) scale(0.71 1)">ZmRBOH3</text>
<text transform="translate(-14.9 -24.84) rotate(-27.5) scale(0.71 1)">ZmRBOH4</text>
<text transform="translate(-18.56 -30.45) rotate(-27.5) scale(0.71 1)">ZmRBOH5</text>
<text transform="translate(-22.22 -36.06) rotate(-27.5) scale(0.71 1)">ZmRBOH6</text>
<text transform="translate(-25.89 -41.67) rotate(-27.5) scale(0.71 1)">ZmRBOH7</text>
<text transform="translate(-29.55 -47.28) rotate(-27.5) scale(0.71 1)">ZmRBOH8</text>
<text transform="translate(-33.21 -52.89) rotate(-27.5) scale(0.71 1)">ZmRBOH9</text>
<text transform="translate(-36.88 -58.5) rotate(-27.5) scale(0.71 1)">ZmRBOH10</text>
<text transform="translate(-40.54 -64.11) rotate(-27.5) scale(0.71 1)">ZmRBOH11</text>
<text transform="translate(-44.2 -69.72) rotate(-27.5) scale(0.71 1)">ZmRBOH12</text>
<text transform="translate(-47.86 -75.33) rotate(-27.5) scale(0.71 1)">ZmRBOH13</text>
<text transform="translate(-51.53 -80.94) rotate(-27.5) scale(0.71 1)">ZmRBOH14</text>
<text transform="translate(-55.19 -86.55) rotate(-27.5) scale(0.71 1)">ZmRBOH15</text>
</g>
</g>
<rect x="161" y="45.5" width="7" height="53.1" fill="url(#cbg)"/>
<line x1="168.2" y1="45.5" x2="168.2" y2="98.6" stroke="#222" stroke-width="0.6"/>
<g class="cb">
<text x="169.8" y="45.9">16.00</text><line x1="168.2" x2="169.3" y1="45.9" y2="45.9" stroke="#222" stroke-width="0.5"/><text x="169.8" y="54.68">14.00</text><line x1="168.2" x2="169.3" y1="54.68" y2="54.68" stroke="#222" stroke-width="0.5"/><text x="169.8" y="63.46">12.00</text><line x1="168.2" x2="169.3" y1="63.46" y2="63.46" stroke="#222" stroke-width="0.5"/><text x="169.8" y="72.24">10.00</text><line x1="168.2" x2="169.3" y1="72.24" y2="72.24" stroke="#222" stroke-width="0.5"/><text x="169.8" y="81.02">8.00</text><line x1="168.2" x2="169.3" y1="81.02" y2="81.02" stroke="#222" stroke-width="0.5"/><text x="169.8" y="89.8">6.00</text><line x1="168.2" x2="169.3" y1="89.8" y2="89.8" stroke="#222" stroke-width="0.5"/><text x="169.8" y="98.58">4.00</text><line x1="168.2" x2="169.3" y1="98.58" y2="98.58" stroke="#222" stroke-width="0.5"/>
</g>
<defs><linearGradient id="pcb" x1="0" y1="0" x2="0" y2="1">
<stop offset="0" stop-color="#e00c0c"/><stop offset="0.25" stop-color="#f06a58"/>
<stop offset="0.5" stop-color="#f3eab0"/><stop offset="0.75" stop-color="#6a8cc4"/>
<stop offset="1" stop-color="#0a2494"/></linearGradient></defs>
<g font-family="Liberation Serif,Times New Roman,serif" font-weight="bold" font-style="italic" font-size="9.6" fill="#111" text-anchor="middle">
<text x="402.6" y="43.9">ZmRBOH2</text>
<text x="499.8" y="44.2">ZmRBOH6</text>
<text x="401.5" y="175.6">ZmRBOH11</text>
<text x="497.9" y="175.1">Control</text>
</g>
<g transform="translate(0.0 0.0)">
<g stroke="#777" stroke-width="0.5" fill="none">
<line x1="406.3" y1="63.0" x2="421.9" y2="72.2"/>
<line x1="390.6" y1="78.6" x2="414.2" y2="84.0"/>
<line x1="388.8" y1="102.4" x2="401.8" y2="98.8"/>
<line x1="422.6" y1="77.0" x2="415.6" y2="83.4"/>
<line x1="426.0" y1="78.9" x2="415.8" y2="83.6"/>
</g>
<g stroke="#5b2f17" stroke-width="1.3" fill="none" stroke-linecap="round">
<path d="M409.0 130.6 C404 132.5 399.5 139 394.4 144.8"/>
<path d="M408.6 133.6 C407.6 141 407.2 148 406.3 156.3"/>
<path d="M414.0 133.2 C415.6 139 416.6 144.5 418.6 151"/>
</g>
<path d="M412.4 104.5 L416.2 104.5 L416.0 128.6 L412.5 128.6 Z" fill="#c6e8d8" stroke="#5a9888" stroke-width="0.45"/>
<path d="M412.7 113 L415.9 109.5 M412.7 121 L415.9 117.5" stroke="#7fae8c" stroke-width="0.35" fill="none"/>
<g fill="#e6c832" stroke="#6a5a10" stroke-width="0.35">
<ellipse cx="410.0" cy="130.8" rx="1.5" ry="3.0" transform="rotate(38 410.0 130.8)"/>
<ellipse cx="413.6" cy="130.6" rx="1.3" ry="2.4" transform="rotate(40 413.6 130.6)"/>
</g>
<path d="M395.40 68.30C395.28 68.60 397.80 71.72 399.00 73.40C400.20 75.08 401.40 76.60 402.60 78.40C403.80 80.20 405.12 82.28 406.20 84.20C407.28 86.12 408.27 88.10 409.10 89.90C409.93 91.70 410.60 93.32 411.20 95.00C411.80 96.68 412.30 98.33 412.70 100.00C413.10 101.67 413.22 104.17 413.60 105.00C413.98 105.83 414.87 106.07 415.00 105.00C415.13 103.93 414.63 100.63 414.40 98.60C414.17 96.57 413.88 94.37 413.60 92.80C413.32 91.23 413.10 90.40 412.70 89.20C412.30 88.00 411.77 86.80 411.20 85.60C410.63 84.40 409.78 83.00 409.30 82.00C408.82 81.00 408.70 80.47 408.30 79.60C407.90 78.73 407.40 77.63 406.90 76.80C406.40 75.97 405.95 75.07 405.30 74.60C404.65 74.13 403.93 74.50 403.00 74.00C402.07 73.50 400.97 72.55 399.70 71.60C398.43 70.65 395.52 68.00 395.40 68.30Z" fill="#2f8c2f" stroke="#174d17" stroke-width="1.10" stroke-linejoin="round"/>
<path d="M395.40 68.30C395.28 68.60 397.80 71.72 399.00 73.40C400.20 75.08 401.40 76.60 402.60 78.40C403.80 80.20 405.12 82.28 406.20 84.20C407.28 86.12 408.27 88.10 409.10 89.90C409.93 91.70 410.60 93.32 411.20 95.00C411.80 96.68 412.30 98.33 412.70 100.00C413.10 101.67 413.22 104.17 413.60 105.00C413.98 105.83 414.87 106.07 415.00 105.00C415.13 103.93 414.63 100.63 414.40 98.60C414.17 96.57 413.88 94.37 413.60 92.80C413.32 91.23 413.10 90.40 412.70 89.20C412.30 88.00 411.77 86.80 411.20 85.60C410.63 84.40 409.78 83.00 409.30 82.00C408.82 81.00 408.70 80.47 408.30 79.60C407.90 78.73 407.40 77.63 406.90 76.80C406.40 75.97 405.95 75.07 405.30 74.60C404.65 74.13 403.93 74.50 403.00 74.00C402.07 73.50 400.97 72.55 399.70 71.60C398.43 70.65 395.52 68.00 395.40 68.30Z" fill="#2f8c2f" stroke="#2f8c2f" stroke-width="0.50" stroke-linejoin="round"/>
<path d="M390.30 82.00C390.07 82.28 391.78 85.22 392.50 86.30C393.22 87.38 393.65 87.90 394.60 88.50C395.55 89.10 397.35 89.30 398.20 89.90C399.05 90.50 399.33 91.25 399.70 92.10C400.07 92.95 399.80 94.25 400.40 95.00C401.00 95.75 402.33 96.00 403.30 96.60C404.27 97.20 405.23 97.78 406.20 98.60C407.17 99.42 408.27 100.55 409.10 101.50C409.93 102.45 410.48 103.47 411.20 104.30C411.92 105.13 412.68 106.02 413.40 106.50C414.12 106.98 415.27 107.32 415.50 107.20C415.73 107.08 415.27 106.52 414.80 105.80C414.33 105.08 413.42 103.87 412.70 102.90C411.98 101.93 411.23 100.97 410.50 100.00C409.77 99.03 409.02 97.93 408.30 97.10C407.58 96.27 406.92 95.60 406.20 95.00C405.48 94.40 404.60 94.03 404.00 93.50C403.40 92.97 402.95 92.52 402.60 91.80C402.25 91.08 402.38 89.98 401.90 89.20C401.42 88.42 400.55 87.62 399.70 87.10C398.85 86.58 397.77 86.52 396.80 86.10C395.83 85.68 394.98 85.28 393.90 84.60C392.82 83.92 390.53 81.72 390.30 82.00Z" fill="#e8342a" stroke="#8a1010" stroke-width="1.30" stroke-linejoin="round"/>
<path d="M390.30 82.00C390.07 82.28 391.78 85.22 392.50 86.30C393.22 87.38 393.65 87.90 394.60 88.50C395.55 89.10 397.35 89.30 398.20 89.90C399.05 90.50 399.33 91.25 399.70 92.10C400.07 92.95 399.80 94.25 400.40 95.00C401.00 95.75 402.33 96.00 403.30 96.60C404.27 97.20 405.23 97.78 406.20 98.60C407.17 99.42 408.27 100.55 409.10 101.50C409.93 102.45 410.48 103.47 411.20 104.30C411.92 105.13 412.68 106.02 413.40 106.50C414.12 106.98 415.27 107.32 415.50 107.20C415.73 107.08 415.27 106.52 414.80 105.80C414.33 105.08 413.42 103.87 412.70 102.90C411.98 101.93 411.23 100.97 410.50 100.00C409.77 99.03 409.02 97.93 408.30 97.10C407.58 96.27 406.92 95.60 406.20 95.00C405.48 94.40 404.60 94.03 404.00 93.50C403.40 92.97 402.95 92.52 402.60 91.80C402.25 91.08 402.38 89.98 401.90 89.20C401.42 88.42 400.55 87.62 399.70 87.10C398.85 86.58 397.77 86.52 396.80 86.10C395.83 85.68 394.98 85.28 393.90 84.60C392.82 83.92 390.53 81.72 390.30 82.00Z" fill="#e8342a" stroke="#e8342a" stroke-width="0.70" stroke-linejoin="round"/>
<path d="M415.00 102.50C415.20 101.32 416.55 99.53 417.50 98.20C418.45 96.87 419.65 95.55 420.70 94.50C421.75 93.45 422.77 92.57 423.80 91.90C424.83 91.23 425.85 91.05 426.90 90.50C427.95 89.95 428.95 89.23 430.10 88.60C431.25 87.97 432.65 87.28 433.80 86.70C434.95 86.12 435.85 85.45 437.00 85.10C438.15 84.75 439.45 84.50 440.70 84.60C441.95 84.70 444.40 85.40 444.50 85.70C444.60 86.00 442.45 86.12 441.30 86.40C440.15 86.68 438.73 86.98 437.60 87.40C436.47 87.82 435.45 88.25 434.50 88.90C433.55 89.55 432.85 90.67 431.90 91.30C430.95 91.93 429.95 92.35 428.80 92.70C427.65 93.05 426.05 92.97 425.00 93.40C423.95 93.83 423.33 94.47 422.50 95.30C421.67 96.13 420.83 97.25 420.00 98.40C419.17 99.55 418.12 101.05 417.50 102.20C416.88 103.35 416.72 105.25 416.30 105.30C415.88 105.35 414.80 103.68 415.00 102.50Z" fill="#2f8c2f" stroke="#174d17" stroke-width="1.20" stroke-linejoin="round"/>
<path d="M415.00 102.50C415.20 101.32 416.55 99.53 417.50 98.20C418.45 96.87 419.65 95.55 420.70 94.50C421.75 93.45 422.77 92.57 423.80 91.90C424.83 91.23 425.85 91.05 426.90 90.50C427.95 89.95 428.95 89.23 430.10 88.60C431.25 87.97 432.65 87.28 433.80 86.70C434.95 86.12 435.85 85.45 437.00 85.10C438.15 84.75 439.45 84.50 440.70 84.60C441.95 84.70 444.40 85.40 444.50 85.70C444.60 86.00 442.45 86.12 441.30 86.40C440.15 86.68 438.73 86.98 437.60 87.40C436.47 87.82 435.45 88.25 434.50 88.90C433.55 89.55 432.85 90.67 431.90 91.30C430.95 91.93 429.95 92.35 428.80 92.70C427.65 93.05 426.05 92.97 425.00 93.40C423.95 93.83 423.33 94.47 422.50 95.30C421.67 96.13 420.83 97.25 420.00 98.40C419.17 99.55 418.12 101.05 417.50 102.20C416.88 103.35 416.72 105.25 416.30 105.30C415.88 105.35 414.80 103.68 415.00 102.50Z" fill="#2f8c2f" stroke="#2f8c2f" stroke-width="0.60" stroke-linejoin="round"/>
<path d="M414.50 82.30C414.75 82.30 415.15 83.88 415.30 85.50C415.45 87.12 415.40 89.33 415.40 92.00C415.40 94.67 415.58 99.92 415.30 101.50C415.02 103.08 413.98 103.08 413.70 101.50C413.42 99.92 413.58 94.67 413.60 92.00C413.62 89.33 413.65 87.12 413.80 85.50C413.95 83.88 414.25 82.30 414.50 82.30Z" fill="#1f5cb2" stroke="#13306a" stroke-width="0.60" stroke-linejoin="round"/>
<path d="M414.50 82.30C414.75 82.30 415.15 83.88 415.30 85.50C415.45 87.12 415.40 89.33 415.40 92.00C415.40 94.67 415.58 99.92 415.30 101.50C415.02 103.08 413.98 103.08 413.70 101.50C413.42 99.92 413.58 94.67 413.60 92.00C413.62 89.33 413.65 87.12 413.80 85.50C413.95 83.88 414.25 82.30 414.50 82.30Z" fill="#1f5cb2" stroke="#1f5cb2" stroke-width="0.00" stroke-linejoin="round"/>
<g transform="translate(0.00 0.00) translate(426.6 74.9) scale(1.000) translate(-426.6 -74.9)">
<ellipse cx="426.6" cy="74.9" rx="5.1" ry="4.0" fill="#fff" stroke="#444" stroke-width="0.55"/>
<path d="M422.9 72.6 L423.6 71.6 L424.9 72.8 L426.3 75.1 L427.7 72.8 L429.0 71.6 L429.7 72.6 L429.8 76.2 C429.6 77.9 428.1 78.4 426.3 78.4 C424.5 78.4 423.0 77.9 422.8 76.2 Z" fill="#2a68b8" stroke="#2a2a2a" stroke-width="0.3"/>
</g>
<g font-family="Liberation Sans,Arial,sans-serif" font-size="6.35" fill="#222" stroke="#222" stroke-width="0.08">
<g transform="translate(0.00 0.00)">
<text x="364.6" y="61.9">Stem and SAM</text>
<text x="351.4" y="77.9">Topmost Leaf</text>
<text x="361.6" y="106.6">First Leaf</text>
</g>
</g>
</g>
<rect x="424.1" y="100.1" width="6.3" height="37.4" fill="url(#pcb)"/>
<g font-family="Liberation Sans,Arial,sans-serif" font-size="2.7" fill="#777">
<text x="432.2" y="101.1">32.00</text>
<text x="432.2" y="107.2">28.00</text>
<text x="432.2" y="113.4">24.00</text>
<text x="432.2" y="119.5">20.00</text>
<text x="432.2" y="125.6">16.00</text>
<text x="432.2" y="131.8">12.00</text>
<text x="432.2" y="137.9">8.00</text>
</g>
<g>
</g>
<g transform="translate(101.3 -1.8)">
<g stroke="#777" stroke-width="0.5" fill="none">
<line x1="406.3" y1="63.0" x2="421.9" y2="72.2"/>
<line x1="390.6" y1="78.6" x2="414.2" y2="84.0"/>
<line x1="388.8" y1="102.4" x2="401.8" y2="98.8"/>
<line x1="422.6" y1="77.0" x2="415.6" y2="83.4"/>
<line x1="426.0" y1="78.9" x2="415.8" y2="83.6"/>
</g>
<g stroke="#5b2f17" stroke-width="1.3" fill="none" stroke-linecap="round">
<path d="M409.0 130.6 C404 132.5 399.5 139 394.4 144.8"/>
<path d="M408.6 133.6 C407.6 141 407.2 148 406.3 156.3"/>
<path d="M414.0 133.2 C415.6 139 416.6 144.5 418.6 151"/>
</g>
<path d="M412.4 104.5 L416.2 104.5 L416.0 128.6 L412.5 128.6 Z" fill="#c6e8d8" stroke="#5a9888" stroke-width="0.45"/>
<path d="M412.7 113 L415.9 109.5 M412.7 121 L415.9 117.5" stroke="#7fae8c" stroke-width="0.35" fill="none"/>
<g fill="#e6c832" stroke="#6a5a10" stroke-width="0.35">
<ellipse cx="410.0" cy="130.8" rx="1.5" ry="3.0" transform="rotate(38 410.0 130.8)"/>
<ellipse cx="413.6" cy="130.6" rx="1.3" ry="2.4" transform="rotate(40 413.6 130.6)"/>
</g>
<path d="M395.40 68.30C395.28 68.60 397.80 71.72 399.00 73.40C400.20 75.08 401.40 76.60 402.60 78.40C403.80 80.20 405.12 82.28 406.20 84.20C407.28 86.12 408.27 88.10 409.10 89.90C409.93 91.70 410.60 93.32 411.20 95.00C411.80 96.68 412.30 98.33 412.70 100.00C413.10 101.67 413.22 104.17 413.60 105.00C413.98 105.83 414.87 106.07 415.00 105.00C415.13 103.93 414.63 100.63 414.40 98.60C414.17 96.57 413.88 94.37 413.60 92.80C413.32 91.23 413.10 90.40 412.70 89.20C412.30 88.00 411.77 86.80 411.20 85.60C410.63 84.40 409.78 83.00 409.30 82.00C408.82 81.00 408.70 80.47 408.30 79.60C407.90 78.73 407.40 77.63 406.90 76.80C406.40 75.97 405.95 75.07 405.30 74.60C404.65 74.13 403.93 74.50 403.00 74.00C402.07 73.50 400.97 72.55 399.70 71.60C398.43 70.65 395.52 68.00 395.40 68.30Z" fill="#2f8c2f" stroke="#174d17" stroke-width="1.10" stroke-linejoin="round"/>
<path d="M395.40 68.30C395.28 68.60 397.80 71.72 399.00 73.40C400.20 75.08 401.40 76.60 402.60 78.40C403.80 80.20 405.12 82.28 406.20 84.20C407.28 86.12 408.27 88.10 409.10 89.90C409.93 91.70 410.60 93.32 411.20 95.00C411.80 96.68 412.30 98.33 412.70 100.00C413.10 101.67 413.22 104.17 413.60 105.00C413.98 105.83 414.87 106.07 415.00 105.00C415.13 103.93 414.63 100.63 414.40 98.60C414.17 96.57 413.88 94.37 413.60 92.80C413.32 91.23 413.10 90.40 412.70 89.20C412.30 88.00 411.77 86.80 411.20 85.60C410.63 84.40 409.78 83.00 409.30 82.00C408.82 81.00 408.70 80.47 408.30 79.60C407.90 78.73 407.40 77.63 406.90 76.80C406.40 75.97 405.95 75.07 405.30 74.60C404.65 74.13 403.93 74.50 403.00 74.00C402.07 73.50 400.97 72.55 399.70 71.60C398.43 70.65 395.52 68.00 395.40 68.30Z" fill="#2f8c2f" stroke="#2f8c2f" stroke-width="0.50" stroke-linejoin="round"/>
<path d="M390.30 82.00C390.07 82.28 391.78 85.22 392.50 86.30C393.22 87.38 393.65 87.90 394.60 88.50C395.55 89.10 397.35 89.30 398.20 89.90C399.05 90.50 399.33 91.25 399.70 92.10C400.07 92.95 399.80 94.25 400.40 95.00C401.00 95.75 402.33 96.00 403.30 96.60C404.27 97.20 405.23 97.78 406.20 98.60C407.17 99.42 408.27 100.55 409.10 101.50C409.93 102.45 410.48 103.47 411.20 104.30C411.92 105.13 412.68 106.02 413.40 106.50C414.12 106.98 415.27 107.32 415.50 107.20C415.73 107.08 415.27 106.52 414.80 105.80C414.33 105.08 413.42 103.87 412.70 102.90C411.98 101.93 411.23 100.97 410.50 100.00C409.77 99.03 409.02 97.93 408.30 97.10C407.58 96.27 406.92 95.60 406.20 95.00C405.48 94.40 404.60 94.03 404.00 93.50C403.40 92.97 402.95 92.52 402.60 91.80C402.25 91.08 402.38 89.98 401.90 89.20C401.42 88.42 400.55 87.62 399.70 87.10C398.85 86.58 397.77 86.52 396.80 86.10C395.83 85.68 394.98 85.28 393.90 84.60C392.82 83.92 390.53 81.72 390.30 82.00Z" fill="#1f5cb2" stroke="#102c6a" stroke-width="1.30" stroke-linejoin="round"/>
<path d="M390.30 82.00C390.07 82.28 391.78 85.22 392.50 86.30C393.22 87.38 393.65 87.90 394.60 88.50C395.55 89.10 397.35 89.30 398.20 89.90C399.05 90.50 399.33 91.25 399.70 92.10C400.07 92.95 399.80 94.25 400.40 95.00C401.00 95.75 402.33 96.00 403.30 96.60C404.27 97.20 405.23 97.78 406.20 98.60C407.17 99.42 408.27 100.55 409.10 101.50C409.93 102.45 410.48 103.47 411.20 104.30C411.92 105.13 412.68 106.02 413.40 106.50C414.12 106.98 415.27 107.32 415.50 107.20C415.73 107.08 415.27 106.52 414.80 105.80C414.33 105.08 413.42 103.87 412.70 102.90C411.98 101.93 411.23 100.97 410.50 100.00C409.77 99.03 409.02 97.93 408.30 97.10C407.58 96.27 406.92 95.60 406.20 95.00C405.48 94.40 404.60 94.03 404.00 93.50C403.40 92.97 402.95 92.52 402.60 91.80C402.25 91.08 402.38 89.98 401.90 89.20C401.42 88.42 400.55 87.62 399.70 87.10C398.85 86.58 397.77 86.52 396.80 86.10C395.83 85.68 394.98 85.28 393.90 84.60C392.82 83.92 390.53 81.72 390.30 82.00Z" fill="#1f5cb2" stroke="#1f5cb2" stroke-width="0.70" stroke-linejoin="round"/>
<path d="M415.00 102.50C415.20 101.32 416.55 99.53 417.50 98.20C418.45 96.87 419.65 95.55 420.70 94.50C421.75 93.45 422.77 92.57 423.80 91.90C424.83 91.23 425.85 91.05 426.90 90.50C427.95 89.95 428.95 89.23 430.10 88.60C431.25 87.97 432.65 87.28 433.80 86.70C434.95 86.12 435.85 85.45 437.00 85.10C438.15 84.75 439.45 84.50 440.70 84.60C441.95 84.70 444.40 85.40 444.50 85.70C444.60 86.00 442.45 86.12 441.30 86.40C440.15 86.68 438.73 86.98 437.60 87.40C436.47 87.82 435.45 88.25 434.50 88.90C433.55 89.55 432.85 90.67 431.90 91.30C430.95 91.93 429.95 92.35 428.80 92.70C427.65 93.05 426.05 92.97 425.00 93.40C423.95 93.83 423.33 94.47 422.50 95.30C421.67 96.13 420.83 97.25 420.00 98.40C419.17 99.55 418.12 101.05 417.50 102.20C416.88 103.35 416.72 105.25 416.30 105.30C415.88 105.35 414.80 103.68 415.00 102.50Z" fill="#2f8c2f" stroke="#174d17" stroke-width="1.20" stroke-linejoin="round"/>
<path d="M415.00 102.50C415.20 101.32 416.55 99.53 417.50 98.20C418.45 96.87 419.65 95.55 420.70 94.50C421.75 93.45 422.77 92.57 423.80 91.90C424.83 91.23 425.85 91.05 426.90 90.50C427.95 89.95 428.95 89.23 430.10 88.60C431.25 87.97 432.65 87.28 433.80 86.70C434.95 86.12 435.85 85.45 437.00 85.10C438.15 84.75 439.45 84.50 440.70 84.60C441.95 84.70 444.40 85.40 444.50 85.70C444.60 86.00 442.45 86.12 441.30 86.40C440.15 86.68 438.73 86.98 437.60 87.40C436.47 87.82 435.45 88.25 434.50 88.90C433.55 89.55 432.85 90.67 431.90 91.30C430.95 91.93 429.95 92.35 428.80 92.70C427.65 93.05 426.05 92.97 425.00 93.40C423.95 93.83 423.33 94.47 422.50 95.30C421.67 96.13 420.83 97.25 420.00 98.40C419.17 99.55 418.12 101.05 417.50 102.20C416.88 103.35 416.72 105.25 416.30 105.30C415.88 105.35 414.80 103.68 415.00 102.50Z" fill="#2f8c2f" stroke="#2f8c2f" stroke-width="0.60" stroke-linejoin="round"/>
<path d="M414.50 82.30C414.75 82.30 415.15 83.88 415.30 85.50C415.45 87.12 415.40 89.33 415.40 92.00C415.40 94.67 415.58 99.92 415.30 101.50C415.02 103.08 413.98 103.08 413.70 101.50C413.42 99.92 413.58 94.67 413.60 92.00C413.62 89.33 413.65 87.12 413.80 85.50C413.95 83.88 414.25 82.30 414.50 82.30Z" fill="#e0302a" stroke="#7a1010" stroke-width="0.60" stroke-linejoin="round"/>
<path d="M414.50 82.30C414.75 82.30 415.15 83.88 415.30 85.50C415.45 87.12 415.40 89.33 415.40 92.00C415.40 94.67 415.58 99.92 415.30 101.50C415.02 103.08 413.98 103.08 413.70 101.50C413.42 99.92 413.58 94.67 413.60 92.00C413.62 89.33 413.65 87.12 413.80 85.50C413.95 83.88 414.25 82.30 414.50 82.30Z" fill="#e0302a" stroke="#e0302a" stroke-width="0.00" stroke-linejoin="round"/>
<g transform="translate(1.10 -0.30) translate(426.6 74.9) scale(1.150) translate(-426.6 -74.9)">
<ellipse cx="426.6" cy="74.9" rx="5.1" ry="4.0" fill="#fff" stroke="#444" stroke-width="0.55"/>
<path d="M422.9 72.6 L423.6 71.6 L424.9 72.8 L426.3 75.1 L427.7 72.8 L429.0 71.6 L429.7 72.6 L429.8 76.2 C429.6 77.9 428.1 78.4 426.3 78.4 C424.5 78.4 423.0 77.9 422.8 76.2 Z" fill="#3a78c2" stroke="#2a2a2a" stroke-width="0.3"/>
</g>
<g font-family="Liberation Sans,Arial,sans-serif" font-size="6.35" fill="#222" stroke="#222" stroke-width="0.08">
<g transform="translate(-1.90 -0.40)">
<text x="364.6" y="61.9">Stem and SAM</text>
<text x="351.4" y="77.9">Topmost Leaf</text>
<text x="361.6" y="106.6">First Leaf</text>
</g>
</g>
</g>
<rect x="526.2" y="98.6" width="6.2" height="38.0" fill="url(#pcb)"/>
<g font-family="Liberation Sans,Arial,sans-serif" font-size="2.7" fill="#777">
<text x="534.2" y="99.6">300.00</text>
<text x="534.2" y="104.3">280.00</text>
<text x="534.2" y="108.9">260.00</text>
<text x="534.2" y="113.6">240.00</text>
<text x="534.2" y="118.3">220.00</text>
<text x="534.2" y="123.0">200.00</text>
<text x="534.2" y="127.6">180.00</text>
<text x="534.2" y="132.3">160.00</text>
<text x="534.2" y="137.0">140.00</text>
</g>
<g>
</g>
<g transform="translate(0.2 132.0)">
<g stroke="#777" stroke-width="0.5" fill="none">
<line x1="406.3" y1="63.0" x2="421.9" y2="72.2"/>
<line x1="390.6" y1="78.6" x2="414.2" y2="84.0"/>
<line x1="388.8" y1="102.4" x2="401.8" y2="98.8"/>
<line x1="422.6" y1="77.0" x2="415.6" y2="83.4"/>
<line x1="426.0" y1="78.9" x2="415.8" y2="83.6"/>
</g>
<g stroke="#5b2f17" stroke-width="1.3" fill="none" stroke-linecap="round">
<path d="M409.0 130.6 C404 132.5 399.5 139 394.4 144.8"/>
<path d="M408.6 133.6 C407.6 141 407.2 148 406.3 156.3"/>
<path d="M414.0 133.2 C415.6 139 416.6 144.5 418.6 151"/>
</g>
<path d="M412.4 104.5 L416.2 104.5 L416.0 128.6 L412.5 128.6 Z" fill="#c6e8d8" stroke="#5a9888" stroke-width="0.45"/>
<path d="M412.7 113 L415.9 109.5 M412.7 121 L415.9 117.5" stroke="#7fae8c" stroke-width="0.35" fill="none"/>
<g fill="#e6c832" stroke="#6a5a10" stroke-width="0.35">
<ellipse cx="410.0" cy="130.8" rx="1.5" ry="3.0" transform="rotate(38 410.0 130.8)"/>
<ellipse cx="413.6" cy="130.6" rx="1.3" ry="2.4" transform="rotate(40 413.6 130.6)"/>
</g>
<path d="M395.40 68.30C395.28 68.60 397.80 71.72 399.00 73.40C400.20 75.08 401.40 76.60 402.60 78.40C403.80 80.20 405.12 82.28 406.20 84.20C407.28 86.12 408.27 88.10 409.10 89.90C409.93 91.70 410.60 93.32 411.20 95.00C411.80 96.68 412.30 98.33 412.70 100.00C413.10 101.67 413.22 104.17 413.60 105.00C413.98 105.83 414.87 106.07 415.00 105.00C415.13 103.93 414.63 100.63 414.40 98.60C414.17 96.57 413.88 94.37 413.60 92.80C413.32 91.23 413.10 90.40 412.70 89.20C412.30 88.00 411.77 86.80 411.20 85.60C410.63 84.40 409.78 83.00 409.30 82.00C408.82 81.00 408.70 80.47 408.30 79.60C407.90 78.73 407.40 77.63 406.90 76.80C406.40 75.97 405.95 75.07 405.30 74.60C404.65 74.13 403.93 74.50 403.00 74.00C402.07 73.50 400.97 72.55 399.70 71.60C398.43 70.65 395.52 68.00 395.40 68.30Z" fill="#2f8c2f" stroke="#174d17" stroke-width="1.10" stroke-linejoin="round"/>
<path d="M395.40 68.30C395.28 68.60 397.80 71.72 399.00 73.40C400.20 75.08 401.40 76.60 402.60 78.40C403.80 80.20 405.12 82.28 406.20 84.20C407.28 86.12 408.27 88.10 409.10 89.90C409.93 91.70 410.60 93.32 411.20 95.00C411.80 96.68 412.30 98.33 412.70 100.00C413.10 101.67 413.22 104.17 413.60 105.00C413.98 105.83 414.87 106.07 415.00 105.00C415.13 103.93 414.63 100.63 414.40 98.60C414.17 96.57 413.88 94.37 413.60 92.80C413.32 91.23 413.10 90.40 412.70 89.20C412.30 88.00 411.77 86.80 411.20 85.60C410.63 84.40 409.78 83.00 409.30 82.00C408.82 81.00 408.70 80.47 408.30 79.60C407.90 78.73 407.40 77.63 406.90 76.80C406.40 75.97 405.95 75.07 405.30 74.60C404.65 74.13 403.93 74.50 403.00 74.00C402.07 73.50 400.97 72.55 399.70 71.60C398.43 70.65 395.52 68.00 395.40 68.30Z" fill="#2f8c2f" stroke="#2f8c2f" stroke-width="0.50" stroke-linejoin="round"/>
<path d="M390.30 82.00C390.07 82.28 391.78 85.22 392.50 86.30C393.22 87.38 393.65 87.90 394.60 88.50C395.55 89.10 397.35 89.30 398.20 89.90C399.05 90.50 399.33 91.25 399.70 92.10C400.07 92.95 399.80 94.25 400.40 95.00C401.00 95.75 402.33 96.00 403.30 96.60C404.27 97.20 405.23 97.78 406.20 98.60C407.17 99.42 408.27 100.55 409.10 101.50C409.93 102.45 410.48 103.47 411.20 104.30C411.92 105.13 412.68 106.02 413.40 106.50C414.12 106.98 415.27 107.32 415.50 107.20C415.73 107.08 415.27 106.52 414.80 105.80C414.33 105.08 413.42 103.87 412.70 102.90C411.98 101.93 411.23 100.97 410.50 100.00C409.77 99.03 409.02 97.93 408.30 97.10C407.58 96.27 406.92 95.60 406.20 95.00C405.48 94.40 404.60 94.03 404.00 93.50C403.40 92.97 402.95 92.52 402.60 91.80C402.25 91.08 402.38 89.98 401.90 89.20C401.42 88.42 400.55 87.62 399.70 87.10C398.85 86.58 397.77 86.52 396.80 86.10C395.83 85.68 394.98 85.28 393.90 84.60C392.82 83.92 390.53 81.72 390.30 82.00Z" fill="#2a66b8" stroke="#102c6a" stroke-width="1.30" stroke-linejoin="round"/>
<path d="M390.30 82.00C390.07 82.28 391.78 85.22 392.50 86.30C393.22 87.38 393.65 87.90 394.60 88.50C395.55 89.10 397.35 89.30 398.20 89.90C399.05 90.50 399.33 91.25 399.70 92.10C400.07 92.95 399.80 94.25 400.40 95.00C401.00 95.75 402.33 96.00 403.30 96.60C404.27 97.20 405.23 97.78 406.20 98.60C407.17 99.42 408.27 100.55 409.10 101.50C409.93 102.45 410.48 103.47 411.20 104.30C411.92 105.13 412.68 106.02 413.40 106.50C414.12 106.98 415.27 107.32 415.50 107.20C415.73 107.08 415.27 106.52 414.80 105.80C414.33 105.08 413.42 103.87 412.70 102.90C411.98 101.93 411.23 100.97 410.50 100.00C409.77 99.03 409.02 97.93 408.30 97.10C407.58 96.27 406.92 95.60 406.20 95.00C405.48 94.40 404.60 94.03 404.00 93.50C403.40 92.97 402.95 92.52 402.60 91.80C402.25 91.08 402.38 89.98 401.90 89.20C401.42 88.42 400.55 87.62 399.70 87.10C398.85 86.58 397.77 86.52 396.80 86.10C395.83 85.68 394.98 85.28 393.90 84.60C392.82 83.92 390.53 81.72 390.30 82.00Z" fill="#2a66b8" stroke="#2a66b8" stroke-width="0.70" stroke-linejoin="round"/>
<path d="M415.00 102.50C415.20 101.32 416.55 99.53 417.50 98.20C418.45 96.87 419.65 95.55 420.70 94.50C421.75 93.45 422.77 92.57 423.80 91.90C424.83 91.23 425.85 91.05 426.90 90.50C427.95 89.95 428.95 89.23 430.10 88.60C431.25 87.97 432.65 87.28 433.80 86.70C434.95 86.12 435.85 85.45 437.00 85.10C438.15 84.75 439.45 84.50 440.70 84.60C441.95 84.70 444.40 85.40 444.50 85.70C444.60 86.00 442.45 86.12 441.30 86.40C440.15 86.68 438.73 86.98 437.60 87.40C436.47 87.82 435.45 88.25 434.50 88.90C433.55 89.55 432.85 90.67 431.90 91.30C430.95 91.93 429.95 92.35 428.80 92.70C427.65 93.05 426.05 92.97 425.00 93.40C423.95 93.83 423.33 94.47 422.50 95.30C421.67 96.13 420.83 97.25 420.00 98.40C419.17 99.55 418.12 101.05 417.50 102.20C416.88 103.35 416.72 105.25 416.30 105.30C415.88 105.35 414.80 103.68 415.00 102.50Z" fill="#2f8c2f" stroke="#174d17" stroke-width="1.20" stroke-linejoin="round"/>
<path d="M415.00 102.50C415.20 101.32 416.55 99.53 417.50 98.20C418.45 96.87 419.65 95.55 420.70 94.50C421.75 93.45 422.77 92.57 423.80 91.90C424.83 91.23 425.85 91.05 426.90 90.50C427.95 89.95 428.95 89.23 430.10 88.60C431.25 87.97 432.65 87.28 433.80 86.70C434.95 86.12 435.85 85.45 437.00 85.10C438.15 84.75 439.45 84.50 440.70 84.60C441.95 84.70 444.40 85.40 444.50 85.70C444.60 86.00 442.45 86.12 441.30 86.40C440.15 86.68 438.73 86.98 437.60 87.40C436.47 87.82 435.45 88.25 434.50 88.90C433.55 89.55 432.85 90.67 431.90 91.30C430.95 91.93 429.95 92.35 428.80 92.70C427.65 93.05 426.05 92.97 425.00 93.40C423.95 93.83 423.33 94.47 422.50 95.30C421.67 96.13 420.83 97.25 420.00 98.40C419.17 99.55 418.12 101.05 417.50 102.20C416.88 103.35 416.72 105.25 416.30 105.30C415.88 105.35 414.80 103.68 415.00 102.50Z" fill="#2f8c2f" stroke="#2f8c2f" stroke-width="0.60" stroke-linejoin="round"/>
<path d="M414.50 82.30C414.75 82.30 415.15 83.88 415.30 85.50C415.45 87.12 415.40 89.33 415.40 92.00C415.40 94.67 415.58 99.92 415.30 101.50C415.02 103.08 413.98 103.08 413.70 101.50C413.42 99.92 413.58 94.67 413.60 92.00C413.62 89.33 413.65 87.12 413.80 85.50C413.95 83.88 414.25 82.30 414.50 82.30Z" fill="#1d4fa8" stroke="#13306a" stroke-width="0.60" stroke-linejoin="round"/>
<path d="M414.50 82.30C414.75 82.30 415.15 83.88 415.30 85.50C415.45 87.12 415.40 89.33 415.40 92.00C415.40 94.67 415.58 99.92 415.30 101.50C415.02 103.08 413.98 103.08 413.70 101.50C413.42 99.92 413.58 94.67 413.60 92.00C413.62 89.33 413.65 87.12 413.80 85.50C413.95 83.88 414.25 82.30 414.50 82.30Z" fill="#1d4fa8" stroke="#1d4fa8" stroke-width="0.00" stroke-linejoin="round"/>
<g transform="translate(0.00 0.00) translate(426.6 74.9) scale(1.040) translate(-426.6 -74.9)">
<ellipse cx="426.6" cy="74.9" rx="5.1" ry="4.0" fill="#fff" stroke="#444" stroke-width="0.55"/>
<path d="M422.9 72.6 L423.6 71.6 L424.9 72.8 L426.3 75.1 L427.7 72.8 L429.0 71.6 L429.7 72.6 L429.8 76.2 C429.6 77.9 428.1 78.4 426.3 78.4 C424.5 78.4 423.0 77.9 422.8 76.2 Z" fill="#e0302a" stroke="#2a2a2a" stroke-width="0.3"/>
</g>
<g font-family="Liberation Sans,Arial,sans-serif" font-size="6.35" fill="#222" stroke="#222" stroke-width="0.08">
<g transform="translate(-1.70 -0.60)">
<text x="364.6" y="61.9">Stem and SAM</text>
<text x="351.4" y="77.9">Topmost Leaf</text>
<text x="361.6" y="106.6">First Leaf</text>
</g>
</g>
</g>
<rect x="424.6" y="232.5" width="6.2" height="37.5" fill="url(#pcb)"/>
<g font-family="Liberation Sans,Arial,sans-serif" font-size="2.7" fill="#777">
<text x="432.6" y="233.5">135.00</text>
<text x="432.6" y="237.6">120.00</text>
<text x="432.6" y="241.7">105.00</text>
<text x="432.6" y="245.8">90.00</text>
<text x="432.6" y="249.9">75.00</text>
<text x="432.6" y="254.0">60.00</text>
<text x="432.6" y="258.1">45.00</text>
<text x="432.6" y="262.2">30.00</text>
<text x="432.6" y="266.3">15.00</text>
<text x="432.6" y="270.4">0.00</text>
</g>
<g>
</g>
<g transform="translate(99.6 133.6)">
<g stroke="#777" stroke-width="0.5" fill="none">
<line x1="406.3" y1="63.0" x2="421.9" y2="72.2"/>
<line x1="390.6" y1="78.6" x2="414.2" y2="84.0"/>
<line x1="388.8" y1="102.4" x2="401.8" y2="98.8"/>
<line x1="422.6" y1="77.0" x2="415.6" y2="83.4"/>
<line x1="426.0" y1="78.9" x2="415.8" y2="83.6"/>
</g>
<g stroke="#5b2f17" stroke-width="1.3" fill="none" stroke-linecap="round">
<path d="M409.0 130.6 C404 132.5 399.5 139 394.4 144.8"/>
<path d="M408.6 133.6 C407.6 141 407.2 148 406.3 156.3"/>
<path d="M414.0 133.2 C415.6 139 416.6 144.5 418.6 151"/>
</g>
<path d="M412.4 104.5 L416.2 104.5 L416.0 128.6 L412.5 128.6 Z" fill="#c6e8d8" stroke="#5a9888" stroke-width="0.45"/>
<path d="M412.7 113 L415.9 109.5 M412.7 121 L415.9 117.5" stroke="#7fae8c" stroke-width="0.35" fill="none"/>
<g fill="#e6c832" stroke="#6a5a10" stroke-width="0.35">
<ellipse cx="410.0" cy="130.8" rx="1.5" ry="3.0" transform="rotate(38 410.0 130.8)"/>
<ellipse cx="413.6" cy="130.6" rx="1.3" ry="2.4" transform="rotate(40 413.6 130.6)"/>
</g>
<path d="M395.40 68.30C395.28 68.60 397.80 71.72 399.00 73.40C400.20 75.08 401.40 76.60 402.60 78.40C403.80 80.20 405.12 82.28 406.20 84.20C407.28 86.12 408.27 88.10 409.10 89.90C409.93 91.70 410.60 93.32 411.20 95.00C411.80 96.68 412.30 98.33 412.70 100.00C413.10 101.67 413.22 104.17 413.60 105.00C413.98 105.83 414.87 106.07 415.00 105.00C415.13 103.93 414.63 100.63 414.40 98.60C414.17 96.57 413.88 94.37 413.60 92.80C413.32 91.23 413.10 90.40 412.70 89.20C412.30 88.00 411.77 86.80 411.20 85.60C410.63 84.40 409.78 83.00 409.30 82.00C408.82 81.00 408.70 80.47 408.30 79.60C407.90 78.73 407.40 77.63 406.90 76.80C406.40 75.97 405.95 75.07 405.30 74.60C404.65 74.13 403.93 74.50 403.00 74.00C402.07 73.50 400.97 72.55 399.70 71.60C398.43 70.65 395.52 68.00 395.40 68.30Z" fill="#2f8c2f" stroke="#174d17" stroke-width="1.10" stroke-linejoin="round"/>
<path d="M395.40 68.30C395.28 68.60 397.80 71.72 399.00 73.40C400.20 75.08 401.40 76.60 402.60 78.40C403.80 80.20 405.12 82.28 406.20 84.20C407.28 86.12 408.27 88.10 409.10 89.90C409.93 91.70 410.60 93.32 411.20 95.00C411.80 96.68 412.30 98.33 412.70 100.00C413.10 101.67 413.22 104.17 413.60 105.00C413.98 105.83 414.87 106.07 415.00 105.00C415.13 103.93 414.63 100.63 414.40 98.60C414.17 96.57 413.88 94.37 413.60 92.80C413.32 91.23 413.10 90.40 412.70 89.20C412.30 88.00 411.77 86.80 411.20 85.60C410.63 84.40 409.78 83.00 409.30 82.00C408.82 81.00 408.70 80.47 408.30 79.60C407.90 78.73 407.40 77.63 406.90 76.80C406.40 75.97 405.95 75.07 405.30 74.60C404.65 74.13 403.93 74.50 403.00 74.00C402.07 73.50 400.97 72.55 399.70 71.60C398.43 70.65 395.52 68.00 395.40 68.30Z" fill="#2f8c2f" stroke="#2f8c2f" stroke-width="0.50" stroke-linejoin="round"/>
<path d="M390.30 82.00C390.07 82.28 391.78 85.22 392.50 86.30C393.22 87.38 393.65 87.90 394.60 88.50C395.55 89.10 397.35 89.30 398.20 89.90C399.05 90.50 399.33 91.25 399.70 92.10C400.07 92.95 399.80 94.25 400.40 95.00C401.00 95.75 402.33 96.00 403.30 96.60C404.27 97.20 405.23 97.78 406.20 98.60C407.17 99.42 408.27 100.55 409.10 101.50C409.93 102.45 410.48 103.47 411.20 104.30C411.92 105.13 412.68 106.02 413.40 106.50C414.12 106.98 415.27 107.32 415.50 107.20C415.73 107.08 415.27 106.52 414.80 105.80C414.33 105.08 413.42 103.87 412.70 102.90C411.98 101.93 411.23 100.97 410.50 100.00C409.77 99.03 409.02 97.93 408.30 97.10C407.58 96.27 406.92 95.60 406.20 95.00C405.48 94.40 404.60 94.03 404.00 93.50C403.40 92.97 402.95 92.52 402.60 91.80C402.25 91.08 402.38 89.98 401.90 89.20C401.42 88.42 400.55 87.62 399.70 87.10C398.85 86.58 397.77 86.52 396.80 86.10C395.83 85.68 394.98 85.28 393.90 84.60C392.82 83.92 390.53 81.72 390.30 82.00Z" fill="#a6d69c" stroke="#4f8a4a" stroke-width="1.30" stroke-linejoin="round"/>
<path d="M390.30 82.00C390.07 82.28 391.78 85.22 392.50 86.30C393.22 87.38 393.65 87.90 394.60 88.50C395.55 89.10 397.35 89.30 398.20 89.90C399.05 90.50 399.33 91.25 399.70 92.10C400.07 92.95 399.80 94.25 400.40 95.00C401.00 95.75 402.33 96.00 403.30 96.60C404.27 97.20 405.23 97.78 406.20 98.60C407.17 99.42 408.27 100.55 409.10 101.50C409.93 102.45 410.48 103.47 411.20 104.30C411.92 105.13 412.68 106.02 413.40 106.50C414.12 106.98 415.27 107.32 415.50 107.20C415.73 107.08 415.27 106.52 414.80 105.80C414.33 105.08 413.42 103.87 412.70 102.90C411.98 101.93 411.23 100.97 410.50 100.00C409.77 99.03 409.02 97.93 408.30 97.10C407.58 96.27 406.92 95.60 406.20 95.00C405.48 94.40 404.60 94.03 404.00 93.50C403.40 92.97 402.95 92.52 402.60 91.80C402.25 91.08 402.38 89.98 401.90 89.20C401.42 88.42 400.55 87.62 399.70 87.10C398.85 86.58 397.77 86.52 396.80 86.10C395.83 85.68 394.98 85.28 393.90 84.60C392.82 83.92 390.53 81.72 390.30 82.00Z" fill="#a6d69c" stroke="#a6d69c" stroke-width="0.70" stroke-linejoin="round"/>
<path d="M415.00 102.50C415.20 101.32 416.55 99.53 417.50 98.20C418.45 96.87 419.65 95.55 420.70 94.50C421.75 93.45 422.77 92.57 423.80 91.90C424.83 91.23 425.85 91.05 426.90 90.50C427.95 89.95 428.95 89.23 430.10 88.60C431.25 87.97 432.65 87.28 433.80 86.70C434.95 86.12 435.85 85.45 437.00 85.10C438.15 84.75 439.45 84.50 440.70 84.60C441.95 84.70 444.40 85.40 444.50 85.70C444.60 86.00 442.45 86.12 441.30 86.40C440.15 86.68 438.73 86.98 437.60 87.40C436.47 87.82 435.45 88.25 434.50 88.90C433.55 89.55 432.85 90.67 431.90 91.30C430.95 91.93 429.95 92.35 428.80 92.70C427.65 93.05 426.05 92.97 425.00 93.40C423.95 93.83 423.33 94.47 422.50 95.30C421.67 96.13 420.83 97.25 420.00 98.40C419.17 99.55 418.12 101.05 417.50 102.20C416.88 103.35 416.72 105.25 416.30 105.30C415.88 105.35 414.80 103.68 415.00 102.50Z" fill="#2f8c2f" stroke="#174d17" stroke-width="1.20" stroke-linejoin="round"/>
<path d="M415.00 102.50C415.20 101.32 416.55 99.53 417.50 98.20C418.45 96.87 419.65 95.55 420.70 94.50C421.75 93.45 422.77 92.57 423.80 91.90C424.83 91.23 425.85 91.05 426.90 90.50C427.95 89.95 428.95 89.23 430.10 88.60C431.25 87.97 432.65 87.28 433.80 86.70C434.95 86.12 435.85 85.45 437.00 85.10C438.15 84.75 439.45 84.50 440.70 84.60C441.95 84.70 444.40 85.40 444.50 85.70C444.60 86.00 442.45 86.12 441.30 86.40C440.15 86.68 438.73 86.98 437.60 87.40C436.47 87.82 435.45 88.25 434.50 88.90C433.55 89.55 432.85 90.67 431.90 91.30C430.95 91.93 429.95 92.35 428.80 92.70C427.65 93.05 426.05 92.97 425.00 93.40C423.95 93.83 423.33 94.47 422.50 95.30C421.67 96.13 420.83 97.25 420.00 98.40C419.17 99.55 418.12 101.05 417.50 102.20C416.88 103.35 416.72 105.25 416.30 105.30C415.88 105.35 414.80 103.68 415.00 102.50Z" fill="#2f8c2f" stroke="#2f8c2f" stroke-width="0.60" stroke-linejoin="round"/>
<path d="M414.50 82.30C414.75 82.30 415.15 83.88 415.30 85.50C415.45 87.12 415.40 89.33 415.40 92.00C415.40 94.67 415.58 99.92 415.30 101.50C415.02 103.08 413.98 103.08 413.70 101.50C413.42 99.92 413.58 94.67 413.60 92.00C413.62 89.33 413.65 87.12 413.80 85.50C413.95 83.88 414.25 82.30 414.50 82.30Z" fill="#2f8c2f" stroke="#174d17" stroke-width="0.60" stroke-linejoin="round"/>
<path d="M414.50 82.30C414.75 82.30 415.15 83.88 415.30 85.50C415.45 87.12 415.40 89.33 415.40 92.00C415.40 94.67 415.58 99.92 415.30 101.50C415.02 103.08 413.98 103.08 413.70 101.50C413.42 99.92 413.58 94.67 413.60 92.00C413.62 89.33 413.65 87.12 413.80 85.50C413.95 83.88 414.25 82.30 414.50 82.30Z" fill="#2f8c2f" stroke="#2f8c2f" stroke-width="0.00" stroke-linejoin="round"/>
<g transform="translate(0.40 0.30) translate(426.6 74.9) scale(1.040) translate(-426.6 -74.9)">
<ellipse cx="426.6" cy="74.9" rx="5.1" ry="4.0" fill="#fff" stroke="#444" stroke-width="0.55"/>
<path d="M422.9 72.6 L423.6 71.6 L424.9 72.8 L426.3 75.1 L427.7 72.8 L429.0 71.6 L429.7 72.6 L429.8 76.2 C429.6 77.9 428.1 78.4 426.3 78.4 C424.5 78.4 423.0 77.9 422.8 76.2 Z" fill="#e2561c" stroke="#2a2a2a" stroke-width="0.3"/>
</g>
<g font-family="Liberation Sans,Arial,sans-serif" font-size="6.35" fill="#222" stroke="#222" stroke-width="0.08">
<g transform="translate(-1.30 0.60)">
<text x="364.6" y="61.9">Stem and SAM</text>
<text x="351.4" y="77.9">Topmost Leaf</text>
<text x="361.6" y="106.6">First Leaf</text>
</g>
</g>
</g>
</svg>
</body></html>
